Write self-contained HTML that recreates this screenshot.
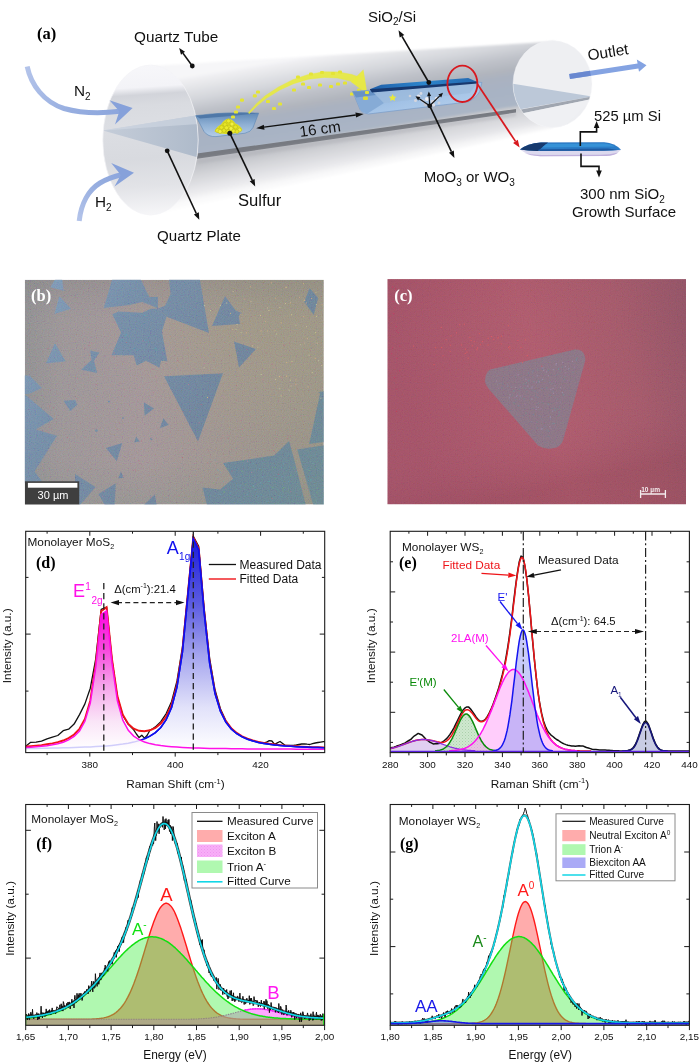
<!DOCTYPE html>
<html lang="en"><head><meta charset="utf-8"><title>Figure: CVD growth and characterization of monolayer MoS2 and WS2</title>
<style>
html,body{margin:0;padding:0;background:#fff;}
body{width:699px;height:1063px;overflow:hidden;}
svg{display:block;}
text{font-family:"Liberation Sans",Arial,sans-serif;}
.serif{font-family:"Liberation Serif","Times New Roman",serif;font-weight:bold;}
</style></head><body>
<svg width="699" height="1063" viewBox="0 0 699 1063">
<rect width="699" height="1063" fill="#ffffff"/>
<!-- panel_a -->
<defs>
<linearGradient id="atube" gradientUnits="userSpaceOnUse" x1="343" y1="50" x2="357" y2="134">
<stop offset="0" stop-color="#f6f6f8"/><stop offset="0.06" stop-color="#ededf0"/><stop offset="0.14" stop-color="#e4e5e8"/><stop offset="0.27" stop-color="#d5d7dc"/><stop offset="0.42" stop-color="#bfc2c9"/><stop offset="0.55" stop-color="#b1b5bd"/><stop offset="0.63" stop-color="#aab2c0"/><stop offset="0.8" stop-color="#a8b3c4"/><stop offset="1" stop-color="#abb6c6"/></linearGradient>
<linearGradient id="alow" gradientUnits="userSpaceOnUse" x1="356" y1="134" x2="364" y2="176">
<stop offset="0" stop-color="#c0c2c7"/><stop offset="0.25" stop-color="#d3d4d8"/><stop offset="0.6" stop-color="#e9e9ec"/><stop offset="1" stop-color="#fcfcfc"/></linearGradient>
<linearGradient id="aface" gradientUnits="userSpaceOnUse" x1="146" y1="64" x2="156" y2="216"><stop offset="0" stop-color="#f7f7fa"/><stop offset="0.15" stop-color="#f3f3f7"/><stop offset="0.2" stop-color="#d2d4da"/><stop offset="0.27" stop-color="#d9dbe0"/><stop offset="0.4" stop-color="#dcdee3"/><stop offset="0.62" stop-color="#d8dadf"/><stop offset="0.8" stop-color="#e2e3e7"/><stop offset="1" stop-color="#f7f7f9"/></linearGradient>
<linearGradient id="aplate" x1="0" y1="0" x2="1" y2="0"><stop offset="0" stop-color="#c5cdd9"/><stop offset="1" stop-color="#aebaca"/></linearGradient>
<linearGradient id="aboat1" x1="0" y1="0" x2="0" y2="1"><stop offset="0" stop-color="#5f88b6"/><stop offset="0.5" stop-color="#8fb0d4"/><stop offset="1" stop-color="#b4cce6"/></linearGradient>
<linearGradient id="aboat2" x1="0" y1="0" x2="1" y2="1"><stop offset="0" stop-color="#7fa6d4"/><stop offset="0.5" stop-color="#a2c2e6"/><stop offset="1" stop-color="#bcd4ee"/></linearGradient>
<linearGradient id="asub" x1="0" y1="0" x2="1" y2="0"><stop offset="0" stop-color="#1f5ea8"/><stop offset="0.5" stop-color="#2d86cc"/><stop offset="1" stop-color="#2468b0"/></linearGradient>
<filter id="ablur1"><feGaussianBlur stdDeviation="1.2"/></filter>
<filter id="ablur2"><feGaussianBlur stdDeviation="2.5"/></filter>
<filter id="ablur05"><feGaussianBlur stdDeviation="0.5"/></filter>
<clipPath id="afaceclip"><ellipse cx="150.5" cy="140" rx="47.7" ry="75"/></clipPath>
<clipPath id="afarclip"><ellipse cx="552.5" cy="84" rx="39.5" ry="43.5"/></clipPath>
<linearGradient id="afacefade" x1="0" y1="0" x2="0" y2="1"><stop offset="0" stop-color="#fff" stop-opacity="0"/><stop offset="1" stop-color="#fff" stop-opacity="0.55"/></linearGradient>
<linearGradient id="an2" gradientUnits="userSpaceOnUse" x1="25" y1="66" x2="132" y2="110"><stop offset="0" stop-color="#b4c4ea"/><stop offset="0.5" stop-color="#97aee0"/><stop offset="1" stop-color="#8aa4dc"/></linearGradient>
<linearGradient id="ah2" gradientUnits="userSpaceOnUse" x1="78" y1="221" x2="132" y2="172"><stop offset="0" stop-color="#b4c4ea"/><stop offset="0.5" stop-color="#97aee0"/><stop offset="1" stop-color="#8aa4dc"/></linearGradient>
</defs>
<g filter="url(#ablur1)">
<path d="M150 140L552 84L553 128L149 215Z" fill="url(#alow)"/>
<path d="M150.5 66L555 41.5L556 100L198 156L150 150Z" fill="url(#atube)"/>
</g>
<path d="M146 219L553 131L553 124L150 206Z" fill="#fff" fill-opacity="0.55" filter="url(#ablur2)"/>
<path d="M197 153.6L516 109L516 112.6L197 158.8Z" fill="#777a81" filter="url(#ablur05)"/>
<path d="M197 158.5L516 112.5L516 116.5L197 164Z" fill="#a4a7ad" fill-opacity="0.3" filter="url(#ablur1)"/>
<ellipse cx="552.5" cy="84" rx="39.5" ry="43.5" fill="#eeeff2"/>
<g clip-path="url(#afarclip)"><path d="M505 82.5L592.5 96.5L505 112Z" fill="#bcc8d8"/><path d="M505 112.5L592.5 96.5L592.5 99L505 117Z" fill="#a0a6b0"/><path d="M505 117L592.5 99L560 130L505 130Z" fill="#f0f1f4" fill-opacity="0.7"/></g>
<ellipse cx="552.5" cy="84" rx="39.5" ry="43.5" fill="none" stroke="#f8f8fa" stroke-width="0.8" stroke-opacity="0.5"/>
<ellipse cx="150.5" cy="140" rx="47.7" ry="75" fill="url(#aface)"/>
<g clip-path="url(#afaceclip)"><path d="M102.9 130.6L200 114.8L200 158Z" fill="url(#aplate)"/><path d="M102.9 130.6L200 114.8L200 124Z" fill="#d4dbe5" fill-opacity="0.55"/></g>
<ellipse cx="150.5" cy="140" rx="47.7" ry="75" fill="none" stroke="#f4f4f6" stroke-width="1" stroke-opacity="0.7"/>
<path d="M195.6 115.7Q226 111.5 258.7 113.1L253 127.5Q251 132 245 133.2L216 136.6Q208 137 204 131.5Z" fill="url(#aboat1)" stroke="#5d86b4" stroke-width="0.6"/>
<path d="M195.6 115.7Q226 111.5 258.7 113.1Q228 116.5 200 118.5Z" fill="#4f78a8"/>
<path d="M214.5 131.5Q217 126 221 124.5Q224 119.5 228.5 118.5Q233 119.5 235.5 123.5Q240 125 242.5 130Q236 134 228 134Q220 134.5 214.5 131.5Z" fill="#dede22"/>
<circle cx="217.5" cy="130.5" r="2" fill="#ecec2e" stroke="#b8b418" stroke-width="0.5"/><circle cx="221.5" cy="127.5" r="2" fill="#e6e626" stroke="#b8b418" stroke-width="0.5"/><circle cx="225" cy="124.5" r="2" fill="#e6e626" stroke="#b8b418" stroke-width="0.5"/><circle cx="228.5" cy="121" r="2" fill="#ecec2e" stroke="#b8b418" stroke-width="0.5"/><circle cx="232" cy="124" r="2" fill="#f2f244" stroke="#b8b418" stroke-width="0.5"/><circle cx="235.5" cy="127" r="2" fill="#e6e626" stroke="#b8b418" stroke-width="0.5"/><circle cx="239.5" cy="130" r="2" fill="#f2f244" stroke="#b8b418" stroke-width="0.5"/><circle cx="224" cy="130.5" r="2" fill="#e6e626" stroke="#b8b418" stroke-width="0.5"/><circle cx="229" cy="127" r="2" fill="#e6e626" stroke="#b8b418" stroke-width="0.5"/><circle cx="233.5" cy="131" r="2" fill="#ecec2e" stroke="#b8b418" stroke-width="0.5"/><circle cx="228" cy="131.5" r="2" fill="#e6e626" stroke="#b8b418" stroke-width="0.5"/><circle cx="226.5" cy="127.8" r="2" fill="#ecec2e" stroke="#b8b418" stroke-width="0.5"/><circle cx="231" cy="128.5" r="2" fill="#f2f244" stroke="#b8b418" stroke-width="0.5"/><circle cx="220" cy="131.5" r="2" fill="#f2f244" stroke="#b8b418" stroke-width="0.5"/><circle cx="237" cy="131.5" r="2" fill="#e6e626" stroke="#b8b418" stroke-width="0.5"/>
<path d="M249.2 113.7 L257.7 105.2 L266.8 98 L279.8 90 L293.7 83.7 L308.5 79.3 L324.2 77.4 L337.6 78.1 L350.1 81.1 L356.3 83.5 L358.7 76.9 L351.9 74.5 L338.4 71.9 L323.8 71.8 L307.5 74.7 L292.3 79.9 L278.2 87.2 L265.2 95.8 L256.3 103.8 L248.2 112.7Z" fill="#e8ea3a" fill-opacity="0.88" stroke="#e8ea3a" stroke-opacity="0.5" stroke-width="0.8" stroke-linejoin="round"/>
<path d="M351 82L363.4 69.5L367.4 94.1Z" fill="#e9ea3c" fill-opacity="0.92"/>
<rect x="240" y="98.6" width="4" height="3.2" rx="1.2" fill="#e4e434"/><rect x="252.8" y="94.2" width="4" height="3.2" rx="1.2" fill="#e4e434"/><rect x="236" y="105.4" width="4" height="3.2" rx="1.2" fill="#e4e434"/><rect x="256" y="90.4" width="4" height="3.2" rx="1.2" fill="#e4e434"/><rect x="234" y="110.4" width="4" height="3.2" rx="1.2" fill="#e4e434"/><rect x="266" y="99.9" width="4" height="3.2" rx="1.2" fill="#e4e434"/><rect x="278" y="102.4" width="4" height="3.2" rx="1.2" fill="#e4e434"/><rect x="272" y="106.9" width="4" height="3.2" rx="1.2" fill="#e4e434"/><rect x="296" y="75.4" width="4" height="3.2" rx="1.2" fill="#e4e434"/><rect x="309" y="72.4" width="4" height="3.2" rx="1.2" fill="#e4e434"/><rect x="320" y="70.9" width="4" height="3.2" rx="1.2" fill="#e4e434"/><rect x="331" y="71.9" width="4" height="3.2" rx="1.2" fill="#e4e434"/><rect x="338" y="70.4" width="4" height="3.2" rx="1.2" fill="#e4e434"/><rect x="301" y="82.4" width="4" height="3.2" rx="1.2" fill="#e4e434"/><rect x="307" y="85.9" width="4" height="3.2" rx="1.2" fill="#e4e434"/><rect x="318" y="83.4" width="4" height="3.2" rx="1.2" fill="#e4e434"/><rect x="329" y="84.9" width="4" height="3.2" rx="1.2" fill="#e4e434"/><rect x="336" y="82.4" width="4" height="3.2" rx="1.2" fill="#e4e434"/><rect x="343" y="81.4" width="4" height="3.2" rx="1.2" fill="#e4e434"/><rect x="292" y="88.4" width="4" height="3.2" rx="1.2" fill="#e4e434"/><rect x="350" y="92.4" width="4" height="3.2" rx="1.2" fill="#e4e434"/><rect x="359" y="94.4" width="4" height="3.2" rx="1.2" fill="#e4e434"/><rect x="364" y="97.4" width="4" height="3.2" rx="1.2" fill="#e4e434"/><rect x="357" y="88.4" width="4" height="3.2" rx="1.2" fill="#e4e434"/><rect x="231" y="115.4" width="4" height="3.2" rx="1.2" fill="#e4e434"/>
<path d="M352.6 91.6L372 90L477 82L481.9 82.5L479.6 91.6Q476 98 468.2 101.9L368.5 114Q362.5 113.5 360.3 110Z" fill="url(#aboat2)" stroke="#7096c4" stroke-width="0.6"/>
<path d="M352.6 91.6L372 91L384 103L367.5 113.4Q362 112.5 360.6 110Z" fill="#86abd6"/><path d="M352.6 91.6L372 91L376 95L356 97.5Z" fill="#5f8cc0" fill-opacity="0.8"/>
<path d="M372 91L477 83L470 93L384 103Z" fill="#9dbadb" fill-opacity="0.7"/>
<path d="M369.8 89.3L381.2 84.8L468.2 77.9L477.3 82L372 92Z" fill="url(#asub)"/>
<path d="M369.8 89.3L372 92.6L477.3 83.6L477.3 81.6Z" fill="#17386e"/>
<circle cx="418.5" cy="96.5" r="1.9" fill="#e4e4ea"/>
<circle cx="423" cy="101" r="1.7" fill="#cfcfd8"/>
<circle cx="427" cy="99" r="2.0" fill="#eeeef2"/>
<circle cx="432.5" cy="101.5" r="1.8" fill="#dadae2"/>
<circle cx="436.5" cy="98.5" r="1.7" fill="#e6e6ec"/>
<circle cx="425.5" cy="104.5" r="1.8" fill="#c6c6ce"/>
<circle cx="433.5" cy="105" r="1.7" fill="#dedee6"/>
<circle cx="415.5" cy="100.5" r="1.5" fill="#d6d6de"/>
<circle cx="410" cy="96" r="1.3" fill="#ccd0d8"/>
<circle cx="421" cy="93.5" r="1.4" fill="#d8dae2"/>
<circle cx="439" cy="103" r="1.4" fill="#d0d2da"/>
<path d="M392.6 94l1.2 2.4 2.6.3-1.9 1.8.5 2.6-2.4-1.3-2.4 1.3.5-2.6-1.9-1.8 2.6-.3z" fill="#e8e83a"/>
<rect x="363" y="96.5" width="5" height="3.5" rx="1.2" fill="#dede30"/><rect x="365" y="91" width="4" height="3" rx="1" fill="#e4e434"/>
<path d="M429.7 105.8L429.1 96.1" stroke="#111" stroke-width="1.2" fill="none"/><path d="M428.8 91.6L431.1 96L427.1 96.2Z" fill="#111"/>
<path d="M429.7 105.8L419.2 98.7" stroke="#111" stroke-width="1.2" fill="none"/><path d="M415.5 96.2L420.3 97.1L418.1 100.4Z" fill="#111"/>
<path d="M429.7 105.8L439.8 95.9" stroke="#111" stroke-width="1.2" fill="none"/><path d="M443 92.8L441.2 97.4L438.4 94.5Z" fill="#111"/>
<ellipse cx="462.4" cy="83.8" rx="15" ry="18.2" fill="none" stroke="#d8191f" stroke-width="1.8"/>
<path d="M477.4 84L515.5 141.4" stroke="#d8191f" stroke-width="1.7" fill="none"/><path d="M519.6 147.6L513.1 142.9L517.8 139.8Z" fill="#d8191f"/>
<path d="M428.8 82.5L402 36.3" stroke="#111" stroke-width="1.6" fill="none"/><path d="M398.5 30.2L404.3 34.9L399.7 37.6Z" fill="#111"/><circle cx="428.8" cy="82.5" r="2.4" fill="#111"/>
<path d="M429.7 105.8L451.4 151.7" stroke="#111" stroke-width="1.6" fill="none"/><path d="M454.4 158L449 152.8L453.8 150.5Z" fill="#111"/><circle cx="429.7" cy="105.8" r="2.4" fill="#111"/>
<path d="M192.3 66L183 53.3" stroke="#111" stroke-width="1.5" fill="none"/><path d="M179.2 48L185 51.8L181 54.7Z" fill="#111"/><circle cx="192.3" cy="66" r="2.4" fill="#111"/>
<path d="M167.2 150.8L196.3 213.5" stroke="#111" stroke-width="1.6" fill="none"/><path d="M199.3 219.8L193.9 214.6L198.8 212.3Z" fill="#111"/><circle cx="167.2" cy="150.8" r="2.4" fill="#111"/>
<path d="M229.8 133.2L252.2 180.1" stroke="#111" stroke-width="1.6" fill="none"/><path d="M255.2 186.4L249.7 181.2L254.6 178.9Z" fill="#111"/><circle cx="229.8" cy="133.2" r="2.5" fill="#111"/>
<path d="M264.1 127.2L355.8 115" stroke="#111" stroke-width="1.3" fill="none"/><path d="M363.7 113.9L356.1 117.4L355.4 112.5Z" fill="#111"/><path d="M256.2 128.3L264.5 129.7L263.8 124.8Z" fill="#111"/>
<path d="M27.2 66.5C31 85 44 102 64 108.5C82 113.5 100 113.8 120 111.3" fill="none" stroke="url(#an2)" stroke-width="5"/>
<path d="M132.6 108L109.5 100.2L119.3 111.2L115 124.5Z" fill="#86a1da"/>
<path d="M79.2 221C81 204 88.5 190 100 183C107 178.8 113 176.5 121.5 174.7" fill="none" stroke="url(#ah2)" stroke-width="5"/>
<path d="M134 172.7L111.2 163L120.8 175L114.5 186.4Z" fill="#86a1da"/>
<path d="M569.2 73.9L637.6 63.4L636.8 59.4L646.5 65.2L639 71.8L638.4 68.4L570 78.9Z" fill="#84a3e2"/>
<path d="M569.2 73.9L590 70.7L590.8 75.7L570 78.9Z" fill="#6484cc" fill-opacity="0.85"/>
<path d="M520 149.6Q527 143.2 541 142.4L604 142.2Q615 143 621 149.8Q616 155.4 606 156.1L540 156.3Q528 155.6 520 149.6Z" fill="#dcd9ee"/>
<path d="M524 152.6Q530 156 540 156.3L606 156.1Q614 155.6 618.5 152.4Q610 154.6 600 154.8L542 155Q530 154.8 524 152.6Z" fill="#b9a6d8" fill-opacity="0.8"/>
<path d="M520 149.6Q527 143.2 541 142.4L604 142.2Q615 143 621 149.8Q613 150.6 604 150.7L540 151Q528 151 520 149.6Z" fill="#2b7cc6"/>
<path d="M520 149.6Q527 143.2 541 142.4L548 142.4L538 150.9Q528 151 520 149.6Z" fill="#173a6e"/>
<path d="M546 144L604 143.4Q611 144 615 146.4L542 147.6Z" fill="#3b9adc" fill-opacity="0.75"/>
<path d="M538 149.2L608 148.6Q614 149.4 618 150L604 150.7L540 151Z" fill="#1c4f96" fill-opacity="0.75"/>
<path d="M580.3 146V131.9H596.6V127" stroke="#111" stroke-width="1.6" fill="none"/><path d="M596.6 121l2.8 7h-5.6z" fill="#111"/>
<path d="M581 153.5V166.4H599V171.5" stroke="#111" stroke-width="1.6" fill="none"/><path d="M599 177.5l2.8-7h-5.6z" fill="#111"/>
<text x="37" y="39.3" font-size="16.5" class="serif">(a)</text>
<text x="134" y="42" font-size="15.3" text-anchor="start" fill="#111" >Quartz Tube</text>
<text x="74" y="96" font-size="15.3" text-anchor="start" fill="#111" >N<tspan font-size="10" dy="3.5">2</tspan><tspan dy="-3.5">&#8203;</tspan></text>
<text x="95" y="207" font-size="15.3" text-anchor="start" fill="#111" >H<tspan font-size="10" dy="3.5">2</tspan><tspan dy="-3.5">&#8203;</tspan></text>
<text x="238" y="206" font-size="16.6" text-anchor="start" fill="#111" >Sulfur</text>
<text x="157" y="241.3" font-size="15.1" text-anchor="start" fill="#111" >Quartz Plate</text>
<text transform="translate(300.3 137) rotate(-8)" font-size="15.2" fill="#111">16 cm</text>
<text x="368" y="21.5" font-size="15" text-anchor="start" fill="#111" >SiO<tspan font-size="10" dy="3.5">2</tspan><tspan dy="-3.5">&#8203;</tspan>/Si</text>
<text transform="translate(588.5 60.5) rotate(-9)" font-size="15.4" fill="#111">Outlet</text>
<text x="594" y="120.7" font-size="14.8" text-anchor="start" fill="#111" >525 &#181;m Si</text>
<text x="423.7" y="182" font-size="15" text-anchor="start" fill="#111" >MoO<tspan font-size="10" dy="3.5">3</tspan><tspan dy="-3.5">&#8203;</tspan> or WO<tspan font-size="10" dy="3.5">3</tspan><tspan dy="-3.5">&#8203;</tspan></text>
<text x="580" y="199" font-size="15" text-anchor="start" fill="#111" >300 nm SiO<tspan font-size="10" dy="3.5">2</tspan><tspan dy="-3.5">&#8203;</tspan></text>
<text x="572" y="216.7" font-size="15" text-anchor="start" fill="#111" >Growth Surface</text>
<!-- panel_b -->
<defs>
<clipPath id="bclip"><rect x="24.8" y="279.8" width="299" height="224.8"/></clipPath>
<linearGradient id="bbg" x1="0" y1="0" x2="1" y2="0"><stop offset="0" stop-color="#8d8c8e"/><stop offset="0.12" stop-color="#989193"/><stop offset="0.4" stop-color="#9f9294"/><stop offset="0.7" stop-color="#9a9089"/><stop offset="1" stop-color="#948e81"/></linearGradient>
<radialGradient id="btan" cx="0.85" cy="0.12" r="0.6"><stop offset="0" stop-color="#9b937f" stop-opacity="0.8"/><stop offset="1" stop-color="#a69c84" stop-opacity="0"/></radialGradient>
<linearGradient id="bvig" x1="0" y1="0" x2="0" y2="1"><stop offset="0" stop-color="#747474" stop-opacity="0.28"/><stop offset="0.18" stop-color="#80808a" stop-opacity="0"/><stop offset="0.8" stop-color="#808a80" stop-opacity="0"/><stop offset="1" stop-color="#7a8a80" stop-opacity="0.3"/></linearGradient>
<linearGradient id="bblue" gradientUnits="userSpaceOnUse" x1="25" y1="300" x2="324" y2="490"><stop offset="0" stop-color="#7c98b6"/><stop offset="0.25" stop-color="#7189a4"/><stop offset="0.6" stop-color="#6c8098"/><stop offset="1" stop-color="#6a858f"/></linearGradient>
<filter id="bnoise" x="0" y="0" width="100%" height="100%"><feTurbulence type="fractalNoise" baseFrequency="0.85" numOctaves="2" seed="7" result="n"/><feColorMatrix in="n" type="matrix" values="1.6 0 0 0 -0.3  0 1.6 0 0 -0.3  0 0 1.6 0 -0.3  0 0 0 0 1"/></filter>
<filter id="bblur" x="-5%" y="-5%" width="110%" height="110%"><feGaussianBlur stdDeviation="0.6"/></filter>
</defs>
<g clip-path="url(#bclip)">
<rect x="24.8" y="279.8" width="299" height="224.8" fill="url(#bbg)"/>
<rect x="24.8" y="279.8" width="299" height="224.8" fill="url(#btan)"/>
<rect x="24.8" y="279.8" width="299" height="224.8" fill="url(#bvig)"/>
<g filter="url(#bblur)" fill="url(#bblue)">
<polygon points="50.2,287.3 55.4,279 62.2,279 63.7,290.7"/>
<polygon points="59.3,296.2 71.1,308.8 54.3,314"/>
<polygon points="54.9,343 65.6,361.2 46,363.4"/>
<polygon points="90,350.5 99.5,352.4 94,360.8 97.1,372.9 81.1,369.7 91.6,360"/>
<polygon points="24,375.5 29.5,375.5 42,388 30,393.5 24,394.4 27.1,396.3 53.8,419 35.7,429.4 57,435.7 34.5,471.5 42,481.3 24,483"/>
<polygon points="112.3,279 140.6,279 149.3,297 157.9,296.7 157.9,308.4 150,304.9 142.2,302 129.6,304.9 103.7,308"/>
<polygon points="169,279 199.8,279 209,333 166.6,316.7 157.9,308.4 165,305.7 170.5,294"/>
<polygon points="112.3,314.3 118.6,311.5 142.2,312.8 150.9,308.8 157.9,308.4 166.6,316.7 161.9,331.6 167.4,361.2 161,360.8 159.5,367.8 146.1,360.8 136.7,365.5 133.6,355.3 111.5,355.3 121,332.4"/>
<polygon points="225,296 235.7,310.6 241.7,313 238.7,316 240,324 212,326"/>
<polygon points="234,341.5 256,349 239,367.5"/>
<polygon points="309.6,288 318.2,298 313.8,315 304.2,302"/>
<polygon points="164,376.3 223,373.2 198,441.6"/>
<polygon points="63.3,400.7 75.1,400 77.4,404.7 70.4,411"/>
<polygon points="105.8,447.9 122.3,442.9 116.8,461.3"/>
<polygon points="120.7,471.5 123.9,477.8 118.3,478.6"/>
<polygon points="75,474 95.6,487 80,505 75,505"/>
<polygon points="98.4,494 115.8,483.3 114.6,505 104.7,505"/>
<polygon points="143.8,402.3 154,408.6 144.6,415.7"/>
<polygon points="163.4,418 168.6,425.1 159.8,428.3"/>
<polygon points="136.2,436.6 139.8,441.6 134,442.4"/>
<polygon points="150,437.7 152.9,439.3 150.9,440.4"/>
<polygon points="143.8,505 154.8,494.4 156.7,505"/>
<polygon points="320.5,391.5 325,392.5 325,442 309.2,444"/>
<polygon points="297.2,449.5 325,445 325,505 313.2,505"/>
<polygon points="223,463.1 274.1,455.5 289.1,441.1 294.1,459.1 305.8,505 207,505 202.4,487.5 220,489.5 233,478.7"/>
<polygon points="318,392.5 325,391 325,396"/>
<circle cx="108.9" cy="401.5" r="1.1"/>
<circle cx="96.4" cy="430.6" r="1.4"/>
<circle cx="123" cy="418" r="0.9"/>
</g>
<rect x="279.2" y="388.2" width="1" height="1" fill="#c8cc98" fill-opacity="0.75"/><rect x="306" y="326.3" width="1" height="1" fill="#cfc494" fill-opacity="0.75"/><rect x="311.8" y="372.1" width="1" height="1" fill="#d8c888" fill-opacity="0.75"/><rect x="236.5" y="324" width="1" height="1" fill="#cfc494" fill-opacity="0.75"/><rect x="285" y="303" width="1" height="1" fill="#cfc494" fill-opacity="0.75"/><rect x="207" y="397" width="1" height="1" fill="#e0b878" fill-opacity="0.75"/><rect x="303.1" y="283.2" width="1" height="1" fill="#e0b878" fill-opacity="0.75"/><rect x="295.3" y="324.7" width="1" height="1" fill="#c8cc98" fill-opacity="0.75"/><rect x="315.4" y="291.9" width="1" height="1" fill="#d4a880" fill-opacity="0.75"/><rect x="244.2" y="298.6" width="1" height="1" fill="#d4a880" fill-opacity="0.75"/><rect x="250.5" y="301.1" width="1" height="1" fill="#d8c888" fill-opacity="0.75"/><rect x="303.1" y="316.1" width="1" height="1" fill="#d4a880" fill-opacity="0.75"/><rect x="235.5" y="329.1" width="1" height="1" fill="#c8cc98" fill-opacity="0.75"/><rect x="300.3" y="344.3" width="1" height="1" fill="#c8cc98" fill-opacity="0.75"/><rect x="305.9" y="302.4" width="1" height="1" fill="#d4a880" fill-opacity="0.75"/><rect x="295.4" y="384.2" width="1" height="1" fill="#e0b878" fill-opacity="0.75"/><rect x="270.8" y="282.4" width="1" height="1" fill="#e0b878" fill-opacity="0.75"/><rect x="239.8" y="313.6" width="1" height="1" fill="#d4a880" fill-opacity="0.75"/><rect x="279" y="375.9" width="1" height="1" fill="#e0b878" fill-opacity="0.75"/><rect x="290" y="379.6" width="1" height="1" fill="#cfc494" fill-opacity="0.75"/><rect x="316.7" y="342.7" width="1" height="1" fill="#cfc494" fill-opacity="0.75"/><rect x="321.5" y="304.3" width="1" height="1" fill="#d4a880" fill-opacity="0.75"/><rect x="279.3" y="307.1" width="1" height="1" fill="#d8c888" fill-opacity="0.75"/><rect x="320.3" y="397.6" width="1" height="1" fill="#cfc494" fill-opacity="0.75"/><rect x="266.9" y="330.4" width="1" height="1" fill="#d4a880" fill-opacity="0.75"/><rect x="316" y="315.9" width="1" height="1" fill="#cfc494" fill-opacity="0.75"/><rect x="275.1" y="297.7" width="1" height="1" fill="#d4a880" fill-opacity="0.75"/><rect x="245.9" y="332.4" width="1" height="1" fill="#e0b878" fill-opacity="0.75"/><rect x="304.3" y="299.9" width="1" height="1" fill="#e0b878" fill-opacity="0.75"/><rect x="260.5" y="330.4" width="1" height="1" fill="#e0b878" fill-opacity="0.75"/><rect x="260" y="315.1" width="1" height="1" fill="#d8c888" fill-opacity="0.75"/><rect x="280.5" y="395.3" width="1" height="1" fill="#d8c888" fill-opacity="0.75"/><rect x="295.4" y="379.4" width="1" height="1" fill="#d4a880" fill-opacity="0.75"/><rect x="268.4" y="310" width="1" height="1" fill="#d8c888" fill-opacity="0.75"/><rect x="230" y="312.9" width="1" height="1" fill="#e0b878" fill-opacity="0.75"/><rect x="265.1" y="321" width="1" height="1" fill="#d4a880" fill-opacity="0.75"/><rect x="299.1" y="296.8" width="1" height="1" fill="#d4a880" fill-opacity="0.75"/><rect x="311.1" y="298" width="1" height="1" fill="#d4a880" fill-opacity="0.75"/><rect x="251.9" y="345.4" width="1" height="1" fill="#cfc494" fill-opacity="0.75"/><rect x="232.6" y="291.1" width="1" height="1" fill="#d8c888" fill-opacity="0.75"/><rect x="240.6" y="332.1" width="1" height="1" fill="#c8cc98" fill-opacity="0.75"/><rect x="285.6" y="286.8" width="1" height="1" fill="#cfc494" fill-opacity="0.75"/><rect x="275" y="379.1" width="1" height="1" fill="#cfc494" fill-opacity="0.75"/><rect x="321.3" y="365" width="1" height="1" fill="#cfc494" fill-opacity="0.75"/><rect x="274.5" y="330.3" width="1" height="1" fill="#d4a880" fill-opacity="0.75"/><rect x="291" y="314.3" width="1" height="1" fill="#d8c888" fill-opacity="0.75"/><rect x="290.6" y="385.5" width="1" height="1" fill="#c8cc98" fill-opacity="0.75"/><rect x="267.1" y="307.3" width="1" height="1" fill="#cfc494" fill-opacity="0.75"/><rect x="289.9" y="302.3" width="1" height="1" fill="#e0b878" fill-opacity="0.75"/><rect x="307" y="338.2" width="1" height="1" fill="#d4a880" fill-opacity="0.75"/><rect x="203.6" y="367.3" width="1" height="1" fill="#cfc494" fill-opacity="0.75"/><rect x="315.2" y="332.1" width="1" height="1" fill="#d8c888" fill-opacity="0.75"/><rect x="286" y="375.7" width="1" height="1" fill="#e0b878" fill-opacity="0.75"/><rect x="303.9" y="342.6" width="1" height="1" fill="#d4a880" fill-opacity="0.75"/><rect x="226.2" y="302.5" width="1" height="1" fill="#d8c888" fill-opacity="0.75"/><rect x="204" y="305.1" width="1" height="1" fill="#c8cc98" fill-opacity="0.75"/><rect x="280.7" y="322.5" width="1" height="1" fill="#e0b878" fill-opacity="0.75"/><rect x="308.6" y="354.7" width="1" height="1" fill="#c8cc98" fill-opacity="0.75"/><rect x="257.3" y="346.7" width="1" height="1" fill="#cfc494" fill-opacity="0.75"/><rect x="291.5" y="361" width="1" height="1" fill="#d8c888" fill-opacity="0.75"/><rect x="303.6" y="299.6" width="1" height="1" fill="#e0b878" fill-opacity="0.75"/><rect x="219.9" y="304.9" width="1" height="1" fill="#cfc494" fill-opacity="0.75"/><rect x="286.2" y="362" width="1" height="1" fill="#e0b878" fill-opacity="0.75"/><rect x="314.7" y="357.9" width="1" height="1" fill="#e0b878" fill-opacity="0.75"/><rect x="250" y="286.3" width="1" height="1" fill="#d4a880" fill-opacity="0.75"/><rect x="260.7" y="374" width="1" height="1" fill="#c8cc98" fill-opacity="0.75"/><rect x="315.9" y="304.1" width="1" height="1" fill="#c8cc98" fill-opacity="0.75"/><rect x="276.2" y="333.5" width="1" height="1" fill="#c8cc98" fill-opacity="0.75"/><rect x="288.5" y="389.6" width="1" height="1" fill="#c8cc98" fill-opacity="0.75"/><rect x="232.1" y="328.9" width="1" height="1" fill="#d4a880" fill-opacity="0.75"/><rect x="210" y="310.1" width="1" height="1" fill="#c8cc98" fill-opacity="0.75"/><rect x="318.1" y="360.3" width="1" height="1" fill="#c8cc98" fill-opacity="0.75"/><rect x="285.5" y="286.7" width="1" height="1" fill="#e0b878" fill-opacity="0.75"/><rect x="307.7" y="386.4" width="1" height="1" fill="#e0b878" fill-opacity="0.75"/><rect x="138.8" y="463.1" width="1" height="1" fill="#c06a80" fill-opacity="0.6"/><rect x="273" y="444.7" width="1" height="1" fill="#b86078" fill-opacity="0.6"/><rect x="189.4" y="410.7" width="1" height="1" fill="#c06a80" fill-opacity="0.6"/><rect x="229.3" y="452.2" width="1" height="1" fill="#8a70a8" fill-opacity="0.6"/><rect x="67.7" y="468.8" width="1" height="1" fill="#b86078" fill-opacity="0.6"/><rect x="123.5" y="389" width="1" height="1" fill="#b86078" fill-opacity="0.6"/><rect x="108.3" y="448.1" width="1" height="1" fill="#8a70a8" fill-opacity="0.6"/><rect x="48.8" y="426.8" width="1" height="1" fill="#c06a80" fill-opacity="0.6"/><rect x="47.1" y="348.1" width="1" height="1" fill="#b86078" fill-opacity="0.6"/><rect x="254.9" y="409.8" width="1" height="1" fill="#8a70a8" fill-opacity="0.6"/><rect x="286.8" y="437.9" width="1" height="1" fill="#b86078" fill-opacity="0.6"/><rect x="177.1" y="360.1" width="1" height="1" fill="#b86078" fill-opacity="0.6"/><rect x="125.9" y="342" width="1" height="1" fill="#b86078" fill-opacity="0.6"/><rect x="229" y="355.2" width="1" height="1" fill="#b86078" fill-opacity="0.6"/><rect x="203.9" y="363" width="1" height="1" fill="#c87890" fill-opacity="0.6"/><rect x="246.6" y="358.9" width="1" height="1" fill="#8a70a8" fill-opacity="0.6"/><rect x="155.9" y="376.5" width="1" height="1" fill="#c87890" fill-opacity="0.6"/><rect x="84.6" y="347.7" width="1" height="1" fill="#b86078" fill-opacity="0.6"/><rect x="178.5" y="495.1" width="1" height="1" fill="#c06a80" fill-opacity="0.6"/><rect x="66.9" y="470.3" width="1" height="1" fill="#c87890" fill-opacity="0.6"/><rect x="218.2" y="373.2" width="1" height="1" fill="#c06a80" fill-opacity="0.6"/><rect x="48.5" y="432.3" width="1" height="1" fill="#c87890" fill-opacity="0.6"/><rect x="223.3" y="396.7" width="1" height="1" fill="#c87890" fill-opacity="0.6"/><rect x="96.1" y="384.3" width="1" height="1" fill="#b86078" fill-opacity="0.6"/><rect x="118.8" y="422.5" width="1" height="1" fill="#b86078" fill-opacity="0.6"/><rect x="135.3" y="469.4" width="1" height="1" fill="#c06a80" fill-opacity="0.6"/><rect x="200.7" y="404.1" width="1" height="1" fill="#b86078" fill-opacity="0.6"/><rect x="77.1" y="378.1" width="1" height="1" fill="#c87890" fill-opacity="0.6"/><rect x="49.8" y="367.1" width="1" height="1" fill="#c06a80" fill-opacity="0.6"/><rect x="235.9" y="385" width="1" height="1" fill="#b86078" fill-opacity="0.6"/><rect x="247.1" y="460.8" width="1" height="1" fill="#c87890" fill-opacity="0.6"/><rect x="217.6" y="478.1" width="1" height="1" fill="#c06a80" fill-opacity="0.6"/><rect x="248.1" y="400.2" width="1" height="1" fill="#c06a80" fill-opacity="0.6"/><rect x="66.9" y="436.9" width="1" height="1" fill="#b86078" fill-opacity="0.6"/><rect x="251.4" y="343.6" width="1" height="1" fill="#c06a80" fill-opacity="0.6"/><rect x="198.7" y="422.2" width="1" height="1" fill="#c87890" fill-opacity="0.6"/><rect x="181.9" y="450.5" width="1" height="1" fill="#c87890" fill-opacity="0.6"/><rect x="295.4" y="470.5" width="1" height="1" fill="#c06a80" fill-opacity="0.6"/><rect x="179.5" y="467.8" width="1" height="1" fill="#8a70a8" fill-opacity="0.6"/><rect x="289.2" y="343.2" width="1" height="1" fill="#b86078" fill-opacity="0.6"/><rect x="113.9" y="352.4" width="1" height="1" fill="#c06a80" fill-opacity="0.6"/><rect x="241.2" y="437.7" width="1" height="1" fill="#c87890" fill-opacity="0.6"/><rect x="119.8" y="488.7" width="1" height="1" fill="#8a70a8" fill-opacity="0.6"/><rect x="281.6" y="377.5" width="1" height="1" fill="#c06a80" fill-opacity="0.6"/><rect x="235.9" y="447.2" width="1" height="1" fill="#8a70a8" fill-opacity="0.6"/><rect x="273.3" y="450" width="1" height="1" fill="#b86078" fill-opacity="0.6"/><rect x="165.6" y="354.7" width="1" height="1" fill="#c06a80" fill-opacity="0.6"/><rect x="102.2" y="495.9" width="1" height="1" fill="#c87890" fill-opacity="0.6"/><rect x="142.3" y="340.5" width="1" height="1" fill="#c87890" fill-opacity="0.6"/><rect x="138.3" y="460.1" width="1" height="1" fill="#b86078" fill-opacity="0.6"/><rect x="276.6" y="438.2" width="1" height="1" fill="#c87890" fill-opacity="0.6"/><rect x="124.3" y="474.9" width="1" height="1" fill="#8a70a8" fill-opacity="0.6"/><rect x="104.7" y="356" width="1" height="1" fill="#8a70a8" fill-opacity="0.6"/><rect x="119.5" y="382.8" width="1" height="1" fill="#c06a80" fill-opacity="0.6"/><rect x="273.3" y="366.8" width="1" height="1" fill="#c87890" fill-opacity="0.6"/><rect x="239.3" y="375.9" width="1" height="1" fill="#c06a80" fill-opacity="0.6"/><rect x="188.2" y="440.2" width="1" height="1" fill="#c87890" fill-opacity="0.6"/><rect x="148.4" y="408.1" width="1" height="1" fill="#b86078" fill-opacity="0.6"/><rect x="118.6" y="384.9" width="1" height="1" fill="#8a70a8" fill-opacity="0.6"/><rect x="88.7" y="344.9" width="1" height="1" fill="#c06a80" fill-opacity="0.6"/><rect x="116.9" y="428.8" width="1" height="1" fill="#b86078" fill-opacity="0.6"/><rect x="152.8" y="392.2" width="1" height="1" fill="#c06a80" fill-opacity="0.6"/><rect x="208.1" y="450.4" width="1" height="1" fill="#c06a80" fill-opacity="0.6"/><rect x="56" y="417.6" width="1" height="1" fill="#c06a80" fill-opacity="0.6"/><rect x="122.8" y="476.1" width="1" height="1" fill="#c87890" fill-opacity="0.6"/><rect x="280.9" y="376.7" width="1" height="1" fill="#c87890" fill-opacity="0.6"/><rect x="258.4" y="340.3" width="1" height="1" fill="#b86078" fill-opacity="0.6"/><rect x="69" y="393.7" width="1" height="1" fill="#8a70a8" fill-opacity="0.6"/><rect x="200.1" y="356.8" width="1" height="1" fill="#c87890" fill-opacity="0.6"/><rect x="231.4" y="470.6" width="1" height="1" fill="#b86078" fill-opacity="0.6"/><rect x="225.4" y="487.9" width="1" height="1" fill="#c06a80" fill-opacity="0.6"/><rect x="135" y="470.3" width="1" height="1" fill="#b86078" fill-opacity="0.6"/><rect x="93.7" y="399.9" width="1" height="1" fill="#c87890" fill-opacity="0.6"/><rect x="271.6" y="498.1" width="1" height="1" fill="#c06a80" fill-opacity="0.6"/><rect x="103.9" y="490.6" width="1" height="1" fill="#c87890" fill-opacity="0.6"/><rect x="137.5" y="358.8" width="1" height="1" fill="#8a70a8" fill-opacity="0.6"/><rect x="74.5" y="340.5" width="1" height="1" fill="#c87890" fill-opacity="0.6"/><rect x="290.3" y="491.2" width="1" height="1" fill="#c06a80" fill-opacity="0.6"/><rect x="167.6" y="490" width="1" height="1" fill="#8a70a8" fill-opacity="0.6"/><rect x="44.1" y="469.5" width="1" height="1" fill="#8a70a8" fill-opacity="0.6"/><rect x="235.2" y="371.3" width="1" height="1" fill="#8a70a8" fill-opacity="0.6"/><rect x="139.3" y="386.5" width="1" height="1" fill="#c87890" fill-opacity="0.6"/><rect x="207" y="462.6" width="1" height="1" fill="#c06a80" fill-opacity="0.6"/><rect x="189.7" y="387.4" width="1" height="1" fill="#8a70a8" fill-opacity="0.6"/><rect x="285.2" y="350.1" width="1" height="1" fill="#c87890" fill-opacity="0.6"/><rect x="53.1" y="407.3" width="1" height="1" fill="#b86078" fill-opacity="0.6"/><rect x="110.5" y="455.2" width="1" height="1" fill="#b86078" fill-opacity="0.6"/><rect x="110.5" y="355.4" width="1" height="1" fill="#c87890" fill-opacity="0.6"/><rect x="152.4" y="368.8" width="1" height="1" fill="#c87890" fill-opacity="0.6"/><rect x="262.4" y="379.2" width="1" height="1" fill="#c87890" fill-opacity="0.6"/><rect x="132.5" y="469.7" width="1" height="1" fill="#c06a80" fill-opacity="0.6"/><rect x="252.7" y="362.5" width="1" height="1" fill="#c06a80" fill-opacity="0.6"/><rect x="45.5" y="430" width="1" height="1" fill="#c87890" fill-opacity="0.6"/><rect x="265.7" y="352.5" width="1" height="1" fill="#b86078" fill-opacity="0.6"/><rect x="90.4" y="468.6" width="1" height="1" fill="#c06a80" fill-opacity="0.6"/><rect x="162.7" y="353.7" width="1" height="1" fill="#8a70a8" fill-opacity="0.6"/><rect x="195.6" y="474.3" width="1" height="1" fill="#c87890" fill-opacity="0.6"/><rect x="172" y="348.5" width="1" height="1" fill="#c87890" fill-opacity="0.6"/><rect x="240.4" y="420" width="1" height="1" fill="#c06a80" fill-opacity="0.6"/><rect x="96.1" y="407.5" width="1" height="1" fill="#c87890" fill-opacity="0.6"/><rect x="251.2" y="471.8" width="1" height="1" fill="#c87890" fill-opacity="0.6"/><rect x="278" y="400.6" width="1" height="1" fill="#b86078" fill-opacity="0.6"/><rect x="271.9" y="363.7" width="1" height="1" fill="#b86078" fill-opacity="0.6"/><rect x="149.8" y="495.5" width="1" height="1" fill="#8a70a8" fill-opacity="0.6"/><rect x="96.3" y="407.4" width="1" height="1" fill="#8a70a8" fill-opacity="0.6"/><rect x="76.2" y="398.1" width="1" height="1" fill="#c06a80" fill-opacity="0.6"/><rect x="213.3" y="359.7" width="1" height="1" fill="#b86078" fill-opacity="0.6"/><rect x="237.1" y="352.3" width="1" height="1" fill="#c87890" fill-opacity="0.6"/><rect x="49.3" y="405.5" width="1" height="1" fill="#b86078" fill-opacity="0.6"/><rect x="91.1" y="343" width="1" height="1" fill="#c87890" fill-opacity="0.6"/><rect x="289.8" y="435.8" width="1" height="1" fill="#b86078" fill-opacity="0.6"/><rect x="161.7" y="352.4" width="1" height="1" fill="#8a70a8" fill-opacity="0.6"/><rect x="283.8" y="345" width="1" height="1" fill="#b86078" fill-opacity="0.6"/><rect x="251.2" y="353.7" width="1" height="1" fill="#b86078" fill-opacity="0.6"/><rect x="236" y="399.7" width="1" height="1" fill="#b86078" fill-opacity="0.6"/><rect x="79.5" y="422.9" width="1" height="1" fill="#c06a80" fill-opacity="0.6"/><rect x="113.7" y="356.9" width="1" height="1" fill="#c87890" fill-opacity="0.6"/><rect x="137.5" y="399" width="1" height="1" fill="#c87890" fill-opacity="0.6"/><rect x="182.4" y="410.9" width="1" height="1" fill="#b86078" fill-opacity="0.6"/><rect x="290.9" y="362.5" width="1" height="1" fill="#c06a80" fill-opacity="0.6"/><rect x="181.8" y="457" width="1" height="1" fill="#b86078" fill-opacity="0.6"/><rect x="101.8" y="446.4" width="1" height="1" fill="#c06a80" fill-opacity="0.6"/><rect x="42.1" y="463.4" width="1" height="1" fill="#c87890" fill-opacity="0.6"/><rect x="100.4" y="454.6" width="1" height="1" fill="#b86078" fill-opacity="0.6"/><rect x="246.2" y="349" width="1" height="1" fill="#b86078" fill-opacity="0.6"/><rect x="50" y="401.7" width="1" height="1" fill="#8a70a8" fill-opacity="0.6"/><rect x="241.9" y="429.2" width="1" height="1" fill="#c87890" fill-opacity="0.6"/><rect x="157" y="444.8" width="1" height="1" fill="#8a70a8" fill-opacity="0.6"/><rect x="187.9" y="384.1" width="1" height="1" fill="#c87890" fill-opacity="0.6"/><rect x="296.9" y="388.3" width="1" height="1" fill="#b86078" fill-opacity="0.6"/><rect x="193.6" y="449.2" width="1" height="1" fill="#c87890" fill-opacity="0.6"/><rect x="54.4" y="373.9" width="1" height="1" fill="#c87890" fill-opacity="0.6"/><rect x="65.6" y="422.1" width="1" height="1" fill="#8a70a8" fill-opacity="0.6"/><rect x="255.7" y="362.1" width="1" height="1" fill="#8a70a8" fill-opacity="0.6"/><rect x="56.4" y="340.6" width="1" height="1" fill="#b86078" fill-opacity="0.6"/><rect x="187.4" y="346.8" width="1" height="1" fill="#c06a80" fill-opacity="0.6"/><rect x="70.4" y="481.6" width="1" height="1" fill="#8a70a8" fill-opacity="0.6"/><rect x="291.6" y="382.1" width="1" height="1" fill="#8a70a8" fill-opacity="0.6"/><rect x="165.8" y="363" width="1" height="1" fill="#c06a80" fill-opacity="0.6"/><rect x="108.1" y="472.7" width="1" height="1" fill="#8a70a8" fill-opacity="0.6"/><rect x="141" y="440.6" width="1" height="1" fill="#b86078" fill-opacity="0.6"/><rect x="222.5" y="434.7" width="1" height="1" fill="#c87890" fill-opacity="0.6"/><rect x="277.9" y="473.8" width="1" height="1" fill="#b86078" fill-opacity="0.6"/><rect x="187.1" y="484.3" width="1" height="1" fill="#8a70a8" fill-opacity="0.6"/><rect x="185.9" y="341.5" width="1" height="1" fill="#c06a80" fill-opacity="0.6"/><rect x="220.4" y="437.8" width="1" height="1" fill="#c06a80" fill-opacity="0.6"/><rect x="46.8" y="405.8" width="1" height="1" fill="#c87890" fill-opacity="0.6"/><rect x="227.5" y="437.8" width="1" height="1" fill="#b86078" fill-opacity="0.6"/><rect x="179.5" y="451.4" width="1" height="1" fill="#c06a80" fill-opacity="0.6"/><rect x="227" y="434.7" width="1" height="1" fill="#c06a80" fill-opacity="0.6"/><rect x="217.5" y="477.1" width="1" height="1" fill="#60a8c0" fill-opacity="0.55"/><rect x="268.7" y="481" width="1" height="1" fill="#58b0b8" fill-opacity="0.55"/><rect x="317.1" y="487.6" width="1" height="1" fill="#6ab86a" fill-opacity="0.55"/><rect x="223.5" y="491.2" width="1" height="1" fill="#6ab86a" fill-opacity="0.55"/><rect x="260.8" y="469.4" width="1" height="1" fill="#6ab86a" fill-opacity="0.55"/><rect x="267.8" y="498.3" width="1" height="1" fill="#6ab86a" fill-opacity="0.55"/><rect x="252.7" y="486.5" width="1" height="1" fill="#6ab86a" fill-opacity="0.55"/><rect x="245.2" y="484.4" width="1" height="1" fill="#6ab86a" fill-opacity="0.55"/><rect x="219.9" y="471.9" width="1" height="1" fill="#58b0b8" fill-opacity="0.55"/><rect x="281.7" y="476" width="1" height="1" fill="#60a8c0" fill-opacity="0.55"/><rect x="282.9" y="463.4" width="1" height="1" fill="#58b0b8" fill-opacity="0.55"/><rect x="312.5" y="463.2" width="1" height="1" fill="#60a8c0" fill-opacity="0.55"/><rect x="260.1" y="482.5" width="1" height="1" fill="#58b0b8" fill-opacity="0.55"/><rect x="226.2" y="467.9" width="1" height="1" fill="#6ab86a" fill-opacity="0.55"/><rect x="266.3" y="500.6" width="1" height="1" fill="#58b0b8" fill-opacity="0.55"/><rect x="272.2" y="486.8" width="1" height="1" fill="#6ab86a" fill-opacity="0.55"/><rect x="271.9" y="467.1" width="1" height="1" fill="#6ab86a" fill-opacity="0.55"/><rect x="242.9" y="460.2" width="1" height="1" fill="#6ab86a" fill-opacity="0.55"/><rect x="257.6" y="495.6" width="1" height="1" fill="#60a8c0" fill-opacity="0.55"/><rect x="239.6" y="485.2" width="1" height="1" fill="#60a8c0" fill-opacity="0.55"/><rect x="219.7" y="494" width="1" height="1" fill="#60a8c0" fill-opacity="0.55"/><rect x="296.2" y="471.1" width="1" height="1" fill="#58b0b8" fill-opacity="0.55"/><rect x="307.5" y="468.7" width="1" height="1" fill="#60a8c0" fill-opacity="0.55"/><rect x="230" y="492.3" width="1" height="1" fill="#60a8c0" fill-opacity="0.55"/><rect x="253" y="485.5" width="1" height="1" fill="#60a8c0" fill-opacity="0.55"/><rect x="295.8" y="459.8" width="1" height="1" fill="#6ab86a" fill-opacity="0.55"/><rect x="308.8" y="470" width="1" height="1" fill="#6ab86a" fill-opacity="0.55"/><rect x="290.3" y="474.7" width="1" height="1" fill="#6ab86a" fill-opacity="0.55"/><rect x="217" y="469.5" width="1" height="1" fill="#58b0b8" fill-opacity="0.55"/><rect x="214.4" y="459.5" width="1" height="1" fill="#60a8c0" fill-opacity="0.55"/><rect x="310.4" y="479.3" width="1" height="1" fill="#58b0b8" fill-opacity="0.55"/><rect x="261.7" y="458.4" width="1" height="1" fill="#6ab86a" fill-opacity="0.55"/><rect x="213" y="482.1" width="1" height="1" fill="#6ab86a" fill-opacity="0.55"/><rect x="283" y="487.7" width="1" height="1" fill="#6ab86a" fill-opacity="0.55"/><rect x="314.5" y="500.4" width="1" height="1" fill="#6ab86a" fill-opacity="0.55"/><rect x="252.6" y="463.2" width="1" height="1" fill="#58b0b8" fill-opacity="0.55"/><rect x="222.9" y="480.8" width="1" height="1" fill="#58b0b8" fill-opacity="0.55"/><rect x="283.3" y="486.9" width="1" height="1" fill="#6ab86a" fill-opacity="0.55"/><rect x="259" y="468.1" width="1" height="1" fill="#60a8c0" fill-opacity="0.55"/><rect x="260.8" y="494.4" width="1" height="1" fill="#58b0b8" fill-opacity="0.55"/><rect x="233.4" y="479.7" width="1" height="1" fill="#58b0b8" fill-opacity="0.55"/><rect x="252.8" y="485.4" width="1" height="1" fill="#58b0b8" fill-opacity="0.55"/><rect x="246.5" y="493.9" width="1" height="1" fill="#60a8c0" fill-opacity="0.55"/><rect x="218" y="469.7" width="1" height="1" fill="#60a8c0" fill-opacity="0.55"/><rect x="262.2" y="476.3" width="1" height="1" fill="#60a8c0" fill-opacity="0.55"/><rect x="281.2" y="467.3" width="1" height="1" fill="#58b0b8" fill-opacity="0.55"/><rect x="293.3" y="467.3" width="1" height="1" fill="#6ab86a" fill-opacity="0.55"/><rect x="255.2" y="489.1" width="1" height="1" fill="#58b0b8" fill-opacity="0.55"/><rect x="225" y="464.7" width="1" height="1" fill="#60a8c0" fill-opacity="0.55"/><rect x="316.4" y="491.9" width="1" height="1" fill="#6ab86a" fill-opacity="0.55"/><rect x="321.7" y="461.4" width="1" height="1" fill="#58b0b8" fill-opacity="0.55"/><rect x="282" y="489.5" width="1" height="1" fill="#6ab86a" fill-opacity="0.55"/><rect x="279.4" y="496.2" width="1" height="1" fill="#58b0b8" fill-opacity="0.55"/><rect x="299.8" y="478.1" width="1" height="1" fill="#6ab86a" fill-opacity="0.55"/><rect x="275" y="467.1" width="1" height="1" fill="#6ab86a" fill-opacity="0.55"/><rect x="288.1" y="481" width="1" height="1" fill="#60a8c0" fill-opacity="0.55"/><rect x="223.7" y="491.7" width="1" height="1" fill="#6ab86a" fill-opacity="0.55"/><rect x="274.7" y="478.1" width="1" height="1" fill="#6ab86a" fill-opacity="0.55"/><rect x="308" y="480" width="1" height="1" fill="#60a8c0" fill-opacity="0.55"/><rect x="241.6" y="471" width="1" height="1" fill="#6ab86a" fill-opacity="0.55"/><rect x="126" y="333.9" width="1" height="1" fill="#40b0b8" fill-opacity="0.6"/><rect x="136.7" y="349.8" width="1" height="1" fill="#40b0b8" fill-opacity="0.6"/><rect x="149.5" y="349.1" width="1" height="1" fill="#6a68a8" fill-opacity="0.6"/><rect x="121.5" y="336.9" width="1" height="1" fill="#7060b0" fill-opacity="0.6"/><rect x="134.1" y="353.4" width="1" height="1" fill="#6a68a8" fill-opacity="0.6"/><rect x="132.7" y="352" width="1" height="1" fill="#6a68a8" fill-opacity="0.6"/><rect x="150.4" y="330.3" width="1" height="1" fill="#6a68a8" fill-opacity="0.6"/><rect x="143.6" y="329.8" width="1" height="1" fill="#6a68a8" fill-opacity="0.6"/><rect x="147.6" y="350.8" width="1" height="1" fill="#7060b0" fill-opacity="0.6"/><rect x="146" y="344.3" width="1" height="1" fill="#6a68a8" fill-opacity="0.6"/><rect x="155.6" y="349.7" width="1" height="1" fill="#40b0b8" fill-opacity="0.6"/><rect x="121.9" y="339.1" width="1" height="1" fill="#40b0b8" fill-opacity="0.6"/><rect x="163.7" y="348.2" width="1" height="1" fill="#7060b0" fill-opacity="0.6"/><rect x="163.8" y="353.4" width="1" height="1" fill="#7060b0" fill-opacity="0.6"/><rect x="150" y="333" width="1" height="1" fill="#7060b0" fill-opacity="0.6"/><rect x="137.3" y="344" width="1" height="1" fill="#7060b0" fill-opacity="0.6"/><rect x="149.1" y="356.4" width="1" height="1" fill="#7060b0" fill-opacity="0.6"/><rect x="149.5" y="341.2" width="1" height="1" fill="#6a68a8" fill-opacity="0.6"/><rect x="161.9" y="331.8" width="1" height="1" fill="#6a68a8" fill-opacity="0.6"/><rect x="133.8" y="348.1" width="1" height="1" fill="#40b0b8" fill-opacity="0.6"/><rect x="145.1" y="339.8" width="1" height="1" fill="#40b0b8" fill-opacity="0.6"/><rect x="155.3" y="347.7" width="1" height="1" fill="#40b0b8" fill-opacity="0.6"/><rect x="143.9" y="315.1" width="1" height="1" fill="#40b0b8" fill-opacity="0.6"/><rect x="122.6" y="315.7" width="1" height="1" fill="#7060b0" fill-opacity="0.6"/><rect x="124.8" y="335.6" width="1" height="1" fill="#40b0b8" fill-opacity="0.6"/>
<rect x="24.8" y="279.8" width="299" height="224.8" filter="url(#bnoise)" opacity="0.13" style="mix-blend-mode:overlay"/>
<rect x="24.8" y="481.3" width="54.4" height="24" fill="#3f3f3f"/>
<rect x="27.9" y="482.9" width="49.5" height="4.8" fill="#fff"/>
<text x="53" y="498.7" font-size="11" text-anchor="middle" fill="#fff">30 &#181;m</text>
</g>
<text x="31" y="301" font-size="16.5" class="serif" fill="#fff">(b)</text>
<!-- panel_c -->
<defs>
<clipPath id="cclip"><rect x="387.3" y="279.1" width="298.7" height="225.3"/></clipPath>
<linearGradient id="cbg" x1="0" y1="0.2" x2="1" y2="0"><stop offset="0" stop-color="#a25266"/><stop offset="0.45" stop-color="#ad5a6b"/><stop offset="0.75" stop-color="#a25868"/><stop offset="1" stop-color="#8f5264"/></linearGradient>
<linearGradient id="cvig" x1="0" y1="0" x2="0.3" y2="1"><stop offset="0" stop-color="#8a3a50" stop-opacity="0.15"/><stop offset="0.4" stop-color="#b06074" stop-opacity="0"/><stop offset="0.75" stop-color="#a05068" stop-opacity="0"/><stop offset="1" stop-color="#8a4052" stop-opacity="0.35"/></linearGradient>
<filter id="cnoise" x="0" y="0" width="100%" height="100%"><feTurbulence type="fractalNoise" baseFrequency="0.85" numOctaves="2" seed="11" result="n"/><feColorMatrix in="n" type="matrix" values="1.6 0 0 0 -0.3  0 1.6 0 0 -0.3  0 0 1.6 0 -0.3  0 0 0 0 1"/></filter>
<filter id="cblur" x="-5%" y="-5%" width="110%" height="110%"><feGaussianBlur stdDeviation="0.7"/></filter>
</defs>
<g clip-path="url(#cclip)">
<rect x="387.3" y="279.1" width="298.7" height="225.3" fill="url(#cbg)"/>
<rect x="387.3" y="279.1" width="298.7" height="225.3" fill="url(#cvig)"/>
<path filter="url(#cblur)" fill="#897383" d="M490 369.6L574.5 349.6Q580.5 349 583.5 353Q586 357 585 361.5L563 440.5Q561 445.5 556.5 447.5Q546 450.5 538 445.5L489.5 389.8Q485 384.5 485 380.5Q485.5 372.5 490 369.6Z"/>
<rect x="531.8" y="386.6" width="1.2" height="1.2" fill="#7a8898" fill-opacity="0.6"/><rect x="519.5" y="395.4" width="1.2" height="1.2" fill="#a090b0" fill-opacity="0.6"/><rect x="530.8" y="421.1" width="1.2" height="1.2" fill="#7a8898" fill-opacity="0.6"/><rect x="525.3" y="383.5" width="1.2" height="1.2" fill="#6a8a90" fill-opacity="0.6"/><rect x="523.5" y="398.2" width="1.2" height="1.2" fill="#6a8a90" fill-opacity="0.6"/><rect x="535.6" y="406.2" width="1.2" height="1.2" fill="#a090b0" fill-opacity="0.6"/><rect x="525.4" y="412.6" width="1.2" height="1.2" fill="#6a8a90" fill-opacity="0.6"/><rect x="555.4" y="364.2" width="1.2" height="1.2" fill="#a090b0" fill-opacity="0.6"/><rect x="559" y="406.4" width="1.2" height="1.2" fill="#6a8a90" fill-opacity="0.6"/><rect x="544.4" y="425.9" width="1.2" height="1.2" fill="#6a8a90" fill-opacity="0.6"/><rect x="571.9" y="360.8" width="1.2" height="1.2" fill="#a090b0" fill-opacity="0.6"/><rect x="559.8" y="387.1" width="1.2" height="1.2" fill="#a090b0" fill-opacity="0.6"/><rect x="518.5" y="392.5" width="1.2" height="1.2" fill="#7a8898" fill-opacity="0.6"/><rect x="566.7" y="380.1" width="1.2" height="1.2" fill="#9a7aa0" fill-opacity="0.6"/><rect x="556.2" y="374.3" width="1.2" height="1.2" fill="#6a8a90" fill-opacity="0.6"/><rect x="528.1" y="372.6" width="1.2" height="1.2" fill="#62909a" fill-opacity="0.6"/><rect x="563.9" y="378.8" width="1.2" height="1.2" fill="#6a8a90" fill-opacity="0.6"/><rect x="541" y="418.2" width="1.2" height="1.2" fill="#6a8a90" fill-opacity="0.6"/><rect x="541.6" y="427.9" width="1.2" height="1.2" fill="#a090b0" fill-opacity="0.6"/><rect x="573.8" y="366.6" width="1.2" height="1.2" fill="#9a7aa0" fill-opacity="0.6"/><rect x="541.4" y="388.1" width="1.2" height="1.2" fill="#7a8898" fill-opacity="0.6"/><rect x="540.3" y="408.1" width="1.2" height="1.2" fill="#9a7aa0" fill-opacity="0.6"/><rect x="537.8" y="402.6" width="1.2" height="1.2" fill="#6a8a90" fill-opacity="0.6"/><rect x="531.4" y="386.4" width="1.2" height="1.2" fill="#a090b0" fill-opacity="0.6"/><rect x="547.9" y="435.8" width="1.2" height="1.2" fill="#6a8a90" fill-opacity="0.6"/><rect x="547.8" y="403.6" width="1.2" height="1.2" fill="#62909a" fill-opacity="0.6"/><rect x="496.5" y="384.2" width="1.2" height="1.2" fill="#7a8898" fill-opacity="0.6"/><rect x="548" y="369.7" width="1.2" height="1.2" fill="#6a8a90" fill-opacity="0.6"/><rect x="537.3" y="369.3" width="1.2" height="1.2" fill="#62909a" fill-opacity="0.6"/><rect x="533.1" y="380.9" width="1.2" height="1.2" fill="#7a8898" fill-opacity="0.6"/><rect x="549.3" y="416.8" width="1.2" height="1.2" fill="#7a8898" fill-opacity="0.6"/><rect x="517.5" y="374.2" width="1.2" height="1.2" fill="#a090b0" fill-opacity="0.6"/><rect x="517.9" y="405.2" width="1.2" height="1.2" fill="#62909a" fill-opacity="0.6"/><rect x="515.8" y="395.7" width="1.2" height="1.2" fill="#a090b0" fill-opacity="0.6"/><rect x="531.1" y="387.7" width="1.2" height="1.2" fill="#9a7aa0" fill-opacity="0.6"/><rect x="525.8" y="381.9" width="1.2" height="1.2" fill="#7a8898" fill-opacity="0.6"/><rect x="506.9" y="385.7" width="1.2" height="1.2" fill="#7a8898" fill-opacity="0.6"/><rect x="552.4" y="387.7" width="1.2" height="1.2" fill="#a090b0" fill-opacity="0.6"/><rect x="552.3" y="391.3" width="1.2" height="1.2" fill="#7a8898" fill-opacity="0.6"/><rect x="514.2" y="402.3" width="1.2" height="1.2" fill="#6a8a90" fill-opacity="0.6"/><rect x="536.5" y="427.4" width="1.2" height="1.2" fill="#62909a" fill-opacity="0.6"/><rect x="550.3" y="388.8" width="1.2" height="1.2" fill="#a090b0" fill-opacity="0.6"/><rect x="554.3" y="385.2" width="1.2" height="1.2" fill="#9a7aa0" fill-opacity="0.6"/><rect x="542.2" y="428.4" width="1.2" height="1.2" fill="#7a8898" fill-opacity="0.6"/><rect x="560.7" y="376.7" width="1.2" height="1.2" fill="#7a8898" fill-opacity="0.6"/><rect x="537.2" y="396.9" width="1.2" height="1.2" fill="#7a8898" fill-opacity="0.6"/><rect x="553.2" y="422.9" width="1.2" height="1.2" fill="#6a8a90" fill-opacity="0.6"/><rect x="556.9" y="398.6" width="1.2" height="1.2" fill="#6a8a90" fill-opacity="0.6"/><rect x="557.9" y="368.7" width="1.2" height="1.2" fill="#6a8a90" fill-opacity="0.6"/><rect x="539.4" y="415.7" width="1.2" height="1.2" fill="#7a8898" fill-opacity="0.6"/><rect x="551.1" y="383.2" width="1.2" height="1.2" fill="#7a8898" fill-opacity="0.6"/><rect x="518.7" y="388.8" width="1.2" height="1.2" fill="#6a8a90" fill-opacity="0.6"/><rect x="537.8" y="406.9" width="1.2" height="1.2" fill="#a090b0" fill-opacity="0.6"/><rect x="501.1" y="387.2" width="1.2" height="1.2" fill="#62909a" fill-opacity="0.6"/><rect x="551.9" y="410.5" width="1.2" height="1.2" fill="#a090b0" fill-opacity="0.6"/><rect x="549.2" y="381.7" width="1.2" height="1.2" fill="#7a8898" fill-opacity="0.6"/><rect x="559.4" y="370.6" width="1.2" height="1.2" fill="#6a8a90" fill-opacity="0.6"/><rect x="575.7" y="359.2" width="1.2" height="1.2" fill="#62909a" fill-opacity="0.6"/><rect x="517" y="394.8" width="1.2" height="1.2" fill="#9a7aa0" fill-opacity="0.6"/><rect x="558.1" y="414.5" width="1.2" height="1.2" fill="#62909a" fill-opacity="0.6"/><rect x="511.7" y="394.3" width="1.2" height="1.2" fill="#6a8a90" fill-opacity="0.6"/><rect x="536.3" y="421.5" width="1.2" height="1.2" fill="#6a8a90" fill-opacity="0.6"/><rect x="550.2" y="428.3" width="1.2" height="1.2" fill="#9a7aa0" fill-opacity="0.6"/><rect x="529.1" y="388.2" width="1.2" height="1.2" fill="#7a8898" fill-opacity="0.6"/><rect x="543.1" y="369.7" width="1.2" height="1.2" fill="#a090b0" fill-opacity="0.6"/><rect x="537.9" y="380.2" width="1.2" height="1.2" fill="#62909a" fill-opacity="0.6"/><rect x="532.8" y="414" width="1.2" height="1.2" fill="#62909a" fill-opacity="0.6"/><rect x="564.8" y="365.9" width="1.2" height="1.2" fill="#a090b0" fill-opacity="0.6"/><rect x="534.4" y="390.5" width="1.2" height="1.2" fill="#62909a" fill-opacity="0.6"/><rect x="561.7" y="366.7" width="1.2" height="1.2" fill="#6a8a90" fill-opacity="0.6"/><rect x="554.9" y="381.1" width="1.2" height="1.2" fill="#9a7aa0" fill-opacity="0.6"/><rect x="541.7" y="379.4" width="1.2" height="1.2" fill="#6a8a90" fill-opacity="0.6"/><rect x="546.3" y="429.2" width="1.2" height="1.2" fill="#6a8a90" fill-opacity="0.6"/><rect x="515.1" y="386.9" width="1.2" height="1.2" fill="#a090b0" fill-opacity="0.6"/><rect x="514.4" y="397.2" width="1.2" height="1.2" fill="#9a7aa0" fill-opacity="0.6"/><rect x="563" y="393.8" width="1.2" height="1.2" fill="#7a8898" fill-opacity="0.6"/><rect x="576" y="359.4" width="1.2" height="1.2" fill="#7a8898" fill-opacity="0.6"/><rect x="510.8" y="386.5" width="1.2" height="1.2" fill="#7a8898" fill-opacity="0.6"/><rect x="552.7" y="369.2" width="1.2" height="1.2" fill="#a090b0" fill-opacity="0.6"/><rect x="539.2" y="390" width="1.2" height="1.2" fill="#9a7aa0" fill-opacity="0.6"/><rect x="532.2" y="389.5" width="1.2" height="1.2" fill="#6a8a90" fill-opacity="0.6"/><rect x="558" y="368" width="1.2" height="1.2" fill="#6a8a90" fill-opacity="0.6"/><rect x="546" y="387.4" width="1.2" height="1.2" fill="#62909a" fill-opacity="0.6"/><rect x="535.5" y="408.8" width="1.2" height="1.2" fill="#a090b0" fill-opacity="0.6"/><rect x="524.4" y="403.5" width="1.2" height="1.2" fill="#9a7aa0" fill-opacity="0.6"/><rect x="499.3" y="382.9" width="1.2" height="1.2" fill="#7a8898" fill-opacity="0.6"/><rect x="522" y="395.5" width="1.2" height="1.2" fill="#9a7aa0" fill-opacity="0.6"/><rect x="549.9" y="416.4" width="1.2" height="1.2" fill="#a090b0" fill-opacity="0.6"/><rect x="548" y="375.1" width="1.2" height="1.2" fill="#a090b0" fill-opacity="0.6"/><rect x="519.7" y="386.1" width="1.2" height="1.2" fill="#9a7aa0" fill-opacity="0.6"/><rect x="564.7" y="376.2" width="1.2" height="1.2" fill="#7a8898" fill-opacity="0.6"/><rect x="554.5" y="409.7" width="1.2" height="1.2" fill="#62909a" fill-opacity="0.6"/><rect x="554.3" y="407.6" width="1.2" height="1.2" fill="#62909a" fill-opacity="0.6"/><rect x="508.8" y="397.1" width="1.2" height="1.2" fill="#a090b0" fill-opacity="0.6"/><rect x="559.9" y="401.2" width="1.2" height="1.2" fill="#9a7aa0" fill-opacity="0.6"/><rect x="502.2" y="383.1" width="1.2" height="1.2" fill="#6a8a90" fill-opacity="0.6"/><rect x="553.6" y="422.8" width="1.2" height="1.2" fill="#7a8898" fill-opacity="0.6"/><rect x="540.5" y="428.6" width="1.2" height="1.2" fill="#a090b0" fill-opacity="0.6"/><rect x="568.2" y="368.1" width="1.2" height="1.2" fill="#a090b0" fill-opacity="0.6"/><rect x="551.6" y="408" width="1.2" height="1.2" fill="#6a8a90" fill-opacity="0.6"/><rect x="542.2" y="367.4" width="1.2" height="1.2" fill="#a090b0" fill-opacity="0.6"/><rect x="549.9" y="418.7" width="1.2" height="1.2" fill="#7a8898" fill-opacity="0.6"/><rect x="538.8" y="381.1" width="1.2" height="1.2" fill="#a090b0" fill-opacity="0.6"/><rect x="530.3" y="398.4" width="1.2" height="1.2" fill="#7a8898" fill-opacity="0.6"/><rect x="532.5" y="376.6" width="1.2" height="1.2" fill="#6a8a90" fill-opacity="0.6"/><rect x="532.6" y="370.4" width="1.2" height="1.2" fill="#62909a" fill-opacity="0.6"/><rect x="536.8" y="375.3" width="1.2" height="1.2" fill="#a090b0" fill-opacity="0.6"/><rect x="513.3" y="390.5" width="1.2" height="1.2" fill="#62909a" fill-opacity="0.6"/><rect x="527.1" y="385.5" width="1.2" height="1.2" fill="#a090b0" fill-opacity="0.6"/><rect x="551.9" y="423" width="1.2" height="1.2" fill="#7a8898" fill-opacity="0.6"/><rect x="562.9" y="394.8" width="1.2" height="1.2" fill="#6a8a90" fill-opacity="0.6"/><rect x="526.2" y="391.2" width="1.2" height="1.2" fill="#6a8a90" fill-opacity="0.6"/><rect x="525.3" y="378.7" width="1.2" height="1.2" fill="#a090b0" fill-opacity="0.6"/><rect x="558.7" y="411.5" width="1.2" height="1.2" fill="#62909a" fill-opacity="0.6"/><rect x="498" y="387.4" width="1.2" height="1.2" fill="#9a7aa0" fill-opacity="0.6"/><rect x="557.1" y="408.4" width="1.2" height="1.2" fill="#6a8a90" fill-opacity="0.6"/><rect x="520.4" y="397.3" width="1.2" height="1.2" fill="#7a8898" fill-opacity="0.6"/><rect x="528" y="380.3" width="1.2" height="1.2" fill="#62909a" fill-opacity="0.6"/><rect x="542.4" y="368.4" width="1.2" height="1.2" fill="#7a8898" fill-opacity="0.6"/><rect x="536.1" y="381.7" width="1.2" height="1.2" fill="#a090b0" fill-opacity="0.6"/><rect x="522.7" y="383.5" width="1.2" height="1.2" fill="#6a8a90" fill-opacity="0.6"/><rect x="515.2" y="399" width="1.2" height="1.2" fill="#6a8a90" fill-opacity="0.6"/><rect x="572.4" y="371.7" width="1.2" height="1.2" fill="#6a8a90" fill-opacity="0.6"/><rect x="565.1" y="372.2" width="1.2" height="1.2" fill="#9a7aa0" fill-opacity="0.6"/><rect x="496" y="380.5" width="1.2" height="1.2" fill="#a090b0" fill-opacity="0.6"/><rect x="549.5" y="394.7" width="1.2" height="1.2" fill="#6a8a90" fill-opacity="0.6"/><rect x="548.1" y="430.6" width="1.2" height="1.2" fill="#6a8a90" fill-opacity="0.6"/><rect x="545.9" y="371.3" width="1.2" height="1.2" fill="#a090b0" fill-opacity="0.6"/><rect x="557.3" y="373.5" width="1.2" height="1.2" fill="#7a8898" fill-opacity="0.6"/><rect x="509.5" y="394.3" width="1.2" height="1.2" fill="#a090b0" fill-opacity="0.6"/><rect x="537.9" y="381.8" width="1.2" height="1.2" fill="#6a8a90" fill-opacity="0.6"/><rect x="524.3" y="387.6" width="1.2" height="1.2" fill="#6a8a90" fill-opacity="0.6"/><rect x="562.2" y="361.9" width="1.2" height="1.2" fill="#a090b0" fill-opacity="0.6"/><rect x="547.7" y="369.6" width="1.2" height="1.2" fill="#6a8a90" fill-opacity="0.6"/><rect x="532.7" y="407.7" width="1.2" height="1.2" fill="#6a8a90" fill-opacity="0.6"/><rect x="507.2" y="384.3" width="1.2" height="1.2" fill="#9a7aa0" fill-opacity="0.6"/><rect x="518.9" y="398.5" width="1.2" height="1.2" fill="#9a7aa0" fill-opacity="0.6"/><rect x="531.4" y="398.5" width="1.2" height="1.2" fill="#a090b0" fill-opacity="0.6"/><rect x="576.3" y="357.6" width="1.2" height="1.2" fill="#62909a" fill-opacity="0.6"/><rect x="561.9" y="392" width="1.2" height="1.2" fill="#a090b0" fill-opacity="0.6"/><rect x="542.1" y="378.8" width="1.2" height="1.2" fill="#a090b0" fill-opacity="0.6"/><rect x="552.9" y="392.7" width="1.2" height="1.2" fill="#a090b0" fill-opacity="0.6"/><rect x="556.2" y="402.1" width="1.2" height="1.2" fill="#9a7aa0" fill-opacity="0.6"/><rect x="549.2" y="426.1" width="1.2" height="1.2" fill="#a090b0" fill-opacity="0.6"/><rect x="555.8" y="363" width="1.2" height="1.2" fill="#a090b0" fill-opacity="0.6"/><rect x="535.4" y="395.6" width="1.2" height="1.2" fill="#7a8898" fill-opacity="0.6"/><rect x="531.7" y="372.1" width="1.2" height="1.2" fill="#7a8898" fill-opacity="0.6"/><rect x="512.9" y="402.2" width="1.2" height="1.2" fill="#6a8a90" fill-opacity="0.6"/><rect x="536.7" y="391.8" width="1.2" height="1.2" fill="#7a8898" fill-opacity="0.6"/><rect x="542.5" y="402.7" width="1.2" height="1.2" fill="#6a8a90" fill-opacity="0.6"/><rect x="463.8" y="323.8" width="1" height="1" fill="#e85858" fill-opacity="0.8"/><rect x="482" y="341.1" width="1" height="1" fill="#e85858" fill-opacity="0.8"/><rect x="464.7" y="352.9" width="1" height="1" fill="#e85858" fill-opacity="0.8"/><rect x="526.8" y="355.1" width="1" height="1" fill="#e85858" fill-opacity="0.8"/><rect x="507.9" y="325.3" width="1" height="1" fill="#e85858" fill-opacity="0.8"/><rect x="517.4" y="340" width="1" height="1" fill="#e85858" fill-opacity="0.8"/><rect x="467.7" y="357.7" width="1" height="1" fill="#e85858" fill-opacity="0.8"/><rect x="480.1" y="344.3" width="1" height="1" fill="#e85858" fill-opacity="0.8"/><rect x="541.3" y="365.7" width="1" height="1" fill="#e85858" fill-opacity="0.8"/><rect x="522.1" y="362.1" width="1" height="1" fill="#e85858" fill-opacity="0.8"/><rect x="464.9" y="348.6" width="1" height="1" fill="#e85858" fill-opacity="0.8"/><rect x="442.6" y="355.3" width="1" height="1" fill="#e85858" fill-opacity="0.8"/><rect x="470.6" y="340" width="1" height="1" fill="#e85858" fill-opacity="0.8"/><rect x="487.6" y="337.8" width="1" height="1" fill="#e85858" fill-opacity="0.8"/><rect x="490.9" y="336" width="1" height="1" fill="#e85858" fill-opacity="0.8"/><rect x="497.5" y="337.7" width="1" height="1" fill="#e85858" fill-opacity="0.8"/><rect x="433.5" y="364.1" width="1" height="1" fill="#e85858" fill-opacity="0.8"/><rect x="508" y="347.1" width="1" height="1" fill="#e85858" fill-opacity="0.8"/><rect x="445.7" y="339.2" width="1" height="1" fill="#e85858" fill-opacity="0.8"/><rect x="469.4" y="336.9" width="1" height="1" fill="#e85858" fill-opacity="0.8"/><rect x="500.7" y="343.3" width="1" height="1" fill="#e85858" fill-opacity="0.8"/><rect x="509.3" y="348.5" width="1" height="1" fill="#e85858" fill-opacity="0.8"/><rect x="524.9" y="339.4" width="1" height="1" fill="#e85858" fill-opacity="0.8"/><rect x="477" y="347.5" width="1" height="1" fill="#e85858" fill-opacity="0.8"/><rect x="450.5" y="335.4" width="1" height="1" fill="#e85858" fill-opacity="0.8"/><rect x="466.4" y="351.6" width="1" height="1" fill="#e85858" fill-opacity="0.8"/><rect x="476.4" y="349.2" width="1" height="1" fill="#e85858" fill-opacity="0.8"/><rect x="449.8" y="344.7" width="1" height="1" fill="#e85858" fill-opacity="0.8"/><rect x="435.2" y="347.3" width="1" height="1" fill="#e85858" fill-opacity="0.8"/><rect x="441" y="347.1" width="1" height="1" fill="#e85858" fill-opacity="0.8"/><rect x="478.8" y="333.2" width="1" height="1" fill="#e85858" fill-opacity="0.8"/><rect x="460.9" y="344.5" width="1" height="1" fill="#e85858" fill-opacity="0.8"/><rect x="459.2" y="324.2" width="1" height="1" fill="#e85858" fill-opacity="0.8"/><rect x="520.4" y="346.8" width="1" height="1" fill="#e85858" fill-opacity="0.8"/><rect x="509.2" y="346.1" width="1" height="1" fill="#e85858" fill-opacity="0.8"/><rect x="413.1" y="345.6" width="1" height="1" fill="#e85858" fill-opacity="0.8"/><rect x="473.7" y="341.1" width="1" height="1" fill="#e85858" fill-opacity="0.8"/><rect x="497.6" y="336.7" width="1" height="1" fill="#e85858" fill-opacity="0.8"/><rect x="493.1" y="338.8" width="1" height="1" fill="#e85858" fill-opacity="0.8"/><rect x="456.1" y="332.4" width="1" height="1" fill="#e85858" fill-opacity="0.8"/><rect x="440.7" y="326.9" width="1" height="1" fill="#e85858" fill-opacity="0.8"/><rect x="449.7" y="350.8" width="1" height="1" fill="#e85858" fill-opacity="0.8"/><rect x="487.6" y="344.6" width="1" height="1" fill="#e85858" fill-opacity="0.8"/><rect x="500.8" y="335.7" width="1" height="1" fill="#e85858" fill-opacity="0.8"/><rect x="471.8" y="345.3" width="1" height="1" fill="#e85858" fill-opacity="0.8"/><rect x="394.4" y="307.3" width="1" height="1" fill="#d03060" fill-opacity="0.7"/><rect x="391.1" y="353.2" width="1" height="1" fill="#d03060" fill-opacity="0.7"/><rect x="395.9" y="410.8" width="1" height="1" fill="#d03060" fill-opacity="0.7"/><rect x="395.9" y="388.6" width="1" height="1" fill="#d03060" fill-opacity="0.7"/><rect x="395" y="288.4" width="1" height="1" fill="#d03060" fill-opacity="0.7"/><rect x="392.6" y="301" width="1" height="1" fill="#d03060" fill-opacity="0.7"/><rect x="395.7" y="326.1" width="1" height="1" fill="#d03060" fill-opacity="0.7"/><rect x="395.7" y="330.5" width="1" height="1" fill="#d03060" fill-opacity="0.7"/><rect x="389.5" y="315.7" width="1" height="1" fill="#d03060" fill-opacity="0.7"/><rect x="399.3" y="345.7" width="1" height="1" fill="#d03060" fill-opacity="0.7"/><rect x="396.3" y="357.9" width="1" height="1" fill="#d03060" fill-opacity="0.7"/><rect x="394.1" y="377.2" width="1" height="1" fill="#d03060" fill-opacity="0.7"/><rect x="399" y="370.3" width="1" height="1" fill="#d03060" fill-opacity="0.7"/><rect x="397.7" y="332.1" width="1" height="1" fill="#d03060" fill-opacity="0.7"/><rect x="392" y="286.4" width="1" height="1" fill="#d03060" fill-opacity="0.7"/><rect x="394.9" y="293.5" width="1" height="1" fill="#d03060" fill-opacity="0.7"/><rect x="392" y="347.4" width="1" height="1" fill="#d03060" fill-opacity="0.7"/><rect x="393.1" y="313.1" width="1" height="1" fill="#d03060" fill-opacity="0.7"/>
<rect x="387.3" y="279.1" width="298.7" height="225.3" filter="url(#cnoise)" opacity="0.09" style="mix-blend-mode:overlay"/>
<path d="M640.6 490V498M665.4 490V498M640.6 494H665.4" stroke="#f4ecee" stroke-width="1.3" fill="none"/>
<text x="650.6" y="491.7" font-size="6.6" text-anchor="middle" fill="#f4ecee" font-weight="bold">10 &#181;m</text>
</g>
<text x="394.2" y="300.7" font-size="16.5" class="serif" fill="#fff">(c)</text>
<!-- panel_d -->
<defs>
<linearGradient id="dgM" x1="0" y1="607" x2="0" y2="750" gradientUnits="userSpaceOnUse">
<stop offset="0" stop-color="#ff00e0" stop-opacity="1"/><stop offset="0.3" stop-color="#f840dc" stop-opacity="0.95"/><stop offset="0.55" stop-color="#f59ae8" stop-opacity="0.9"/><stop offset="0.8" stop-color="#f9e0f6" stop-opacity="0.85"/><stop offset="1" stop-color="#ffffff" stop-opacity="0.8"/></linearGradient>
<linearGradient id="dgB" x1="0" y1="539" x2="0" y2="750" gradientUnits="userSpaceOnUse">
<stop offset="0" stop-color="#1c1cd8"/><stop offset="0.3" stop-color="#5a5ae2"/><stop offset="0.55" stop-color="#a4a4ee"/><stop offset="0.8" stop-color="#e2e2fa"/><stop offset="1" stop-color="#ffffff"/></linearGradient>
<clipPath id="dclip"><rect x="25.7" y="531.3" width="299" height="221.3"/></clipPath>
</defs>
<g clip-path="url(#dclip)">
<path d="M25.3 746.5 L30.7 742.3 L36.1 742.2 L41.5 741.1 L47 738.9 L52.4 737.1 L57.8 735.5 L63.2 730.7 L68.6 729.2 L74.1 724.1 L79.5 714.6 L84.9 703.9 L90.3 688.2 L95.7 659.1 L101.2 609.4 L106.6 607.2 L112 660.1 L117.4 697.1 L122.8 715.5 L128.3 724.4 L133.7 729.9 L136.4 734 L139.1 737.6 L141.8 735.3 L144.5 738.1 L147.2 735.3 L149.9 730.2 L152.7 728.8 L155.4 726.9 L160.8 721.6 L166.2 713.6 L171.6 701.4 L177 680.9 L182.5 646.6 L187.9 591.7 L193.3 536.3 L198.7 546.4 L204.1 607.6 L209.6 658 L215 689.8 L220.4 708.8 L225.8 720.5 L231.2 728.3 L236.7 733.3 L242.1 736.9 L247.5 739.6 L252.9 741.2 L258.3 742.2 L261.1 742.7 L263.8 743 L266.5 742.2 L269.2 740.6 L271.9 741 L274.6 744.3 L277.3 742.9 L280 741.5 L282.7 743.5 L285.4 745.5 L288.1 745.4 L290.9 745.4 L293.6 745.3 L296.3 745 L299 744.5 L301.7 744 L304.4 743.8 L307.1 744.2 L309.8 744.5 L312.5 743.7 L315.2 743 L318 742.5 L320.7 742.1 L323.4 741.7 L326.1 741.5 L328.8 741.6" fill="none" stroke="#111" stroke-width="1.3" stroke-linejoin="round"/>
<path d="M25.3 746.5 L30.7 746.1 L36.1 745.6 L41.5 745.1 L47 744.3 L52.4 743.4 L57.8 742.2 L63.2 740.5 L68.6 738.1 L74.1 734.5 L79.5 728.8 L84.9 718.9 L90.3 700.4 L95.7 664.5 L101.2 611.2 L106.6 607.2 L112 659.1 L117.4 696.1 L122.8 714.7 L128.3 724 L133.7 728.7 L139.1 730.8 L144.5 731.3 L149.9 730.3 L155.4 727.9 L160.8 723.6 L166.2 716.5 L171.6 704.7 L177 684.7 L182.5 649.9 L187.9 593.7 L193.3 537.2 L198.7 548.4 L204.1 611 L209.6 661.9 L215 692.5 L220.4 710.4 L225.8 721.2 L231.2 728.2 L236.7 732.9 L242.1 736.3 L247.5 738.7 L252.9 740.5 L258.3 741.9 L263.8 742.9 L269.2 743.8 L274.6 744.5 L280 745.1 L285.4 745.6 L290.9 746 L296.3 746.3 L301.7 746.6 L307.1 746.9 L312.5 747.1 L318 747.3 L323.4 747.5 L328.8 747.6" fill="none" stroke="#f01418" stroke-width="1.9"/>
<path d="M25.3 748.5 L30.7 748.4 L36.1 748.4 L41.5 748.3 L47 748.2 L52.4 748.1 L57.8 748 L63.2 747.8 L68.6 747.7 L74.1 747.5 L79.5 747.3 L84.9 747.1 L90.3 746.9 L95.7 746.6 L101.2 746.3 L106.6 745.9 L112 745.4 L117.4 744.8 L122.8 744.1 L128.3 743.2 L133.7 742.1 L139.1 740.6 L144.5 738.7 L149.9 736.2 L155.4 732.6 L160.8 727.5 L166.2 719.7 L171.6 707.5 L177 687.1 L182.5 652 L187.9 595.5 L193.3 538.8 L198.7 549.9 L204.1 612.2 L209.6 663.1 L215 693.5 L220.4 711.3 L225.8 722.1 L231.2 729 L236.7 733.7 L242.1 736.9 L247.5 739.3 L252.9 741 L258.3 742.4 L263.8 743.4 L269.2 744.3 L274.6 745 L280 745.5 L285.4 746 L290.9 746.3 L296.3 746.7 L301.7 747 L307.1 747.2 L312.5 747.4 L318 747.6 L323.4 747.7 L328.8 747.9 L324.7 752.6 L25.7 752.6Z" fill="url(#dgB)"/>
<path d="M25.3 748.5 L30.7 748.4 L36.1 748.4 L41.5 748.3 L47 748.2 L52.4 748.1 L57.8 748 L63.2 747.8 L68.6 747.7 L74.1 747.5 L79.5 747.3 L84.9 747.1 L90.3 746.9 L95.7 746.6 L101.2 746.3 L106.6 745.9 L112 745.4 L117.4 744.8 L122.8 744.1 L128.3 743.2 L133.7 742.1 L139.1 740.6 L144.5 738.7 L149.9 736.2 L155.4 732.6 L160.8 727.5 L166.2 719.7 L171.6 707.5 L177 687.1 L182.5 652 L187.9 595.5 L193.3 538.8 L198.7 549.9 L204.1 612.2 L209.6 663.1 L215 693.5 L220.4 711.3 L225.8 722.1 L231.2 729 L236.7 733.7 L242.1 736.9 L247.5 739.3 L252.9 741 L258.3 742.4 L263.8 743.4 L269.2 744.3 L274.6 745 L280 745.5 L285.4 746 L290.9 746.3 L296.3 746.7 L301.7 747 L307.1 747.2 L312.5 747.4 L318 747.6 L323.4 747.7 L328.8 747.9" fill="none" stroke="#1010ee" stroke-width="1.5"/>
<path d="M25.3 747.5 L30.7 747.2 L36.1 746.8 L41.5 746.3 L47 745.7 L52.4 744.8 L57.8 743.7 L63.2 742.2 L68.6 739.9 L74.1 736.5 L79.5 731 L84.9 721.3 L90.3 703 L95.7 667.4 L101.2 614.5 L106.6 610.9 L112 663.2 L117.4 700.8 L122.8 720.2 L128.3 730.3 L133.7 736.1 L139.1 739.7 L144.5 742 L149.9 743.6 L155.4 744.8 L160.8 745.6 L166.2 746.2 L171.6 746.7 L177 747.1 L182.5 747.4 L182.5 752.6 L25.7 752.6Z" fill="url(#dgM)"/>
<path d="M25.3 747.5 L30.7 747.2 L36.1 746.8 L41.5 746.3 L47 745.7 L52.4 744.8 L57.8 743.7 L63.2 742.2 L68.6 739.9 L74.1 736.5 L79.5 731 L84.9 721.3 L90.3 703 L95.7 667.4 L101.2 614.5 L106.6 610.9 L112 663.2 L117.4 700.8 L122.8 720.2 L128.3 730.3 L133.7 736.1 L139.1 739.7 L144.5 742 L149.9 743.6 L155.4 744.8 L160.8 745.6 L166.2 746.2 L171.6 746.7 L177 747.1 L182.5 747.4 L187.9 747.7 L193.3 747.9 L198.7 748.1 L204.1 748.2 L209.6 748.4 L215 748.5 L220.4 748.6 L225.8 748.6 L231.2 748.7 L236.7 748.8 L242.1 748.8 L247.5 748.9 L252.9 748.9 L258.3 749 L263.8 749 L269.2 749 L274.6 749.1 L280 749.1 L285.4 749.1 L290.9 749.1 L296.3 749.2 L301.7 749.2 L307.1 749.2 L312.5 749.2 L318 749.2 L323.4 749.2 L328.8 749.2" fill="none" stroke="#ff10e8" stroke-width="1.5"/>
<path d="M144.5 738.7 L149.9 736.2 L155.4 732.6 L160.8 727.5 L166.2 719.7 L171.6 707.5 L177 687.1 L182.5 652 L187.9 595.5 L193.3 538.8 L198.7 549.9 L204.1 612.2 L209.6 663.1 L215 693.5 L220.4 711.3 L225.8 722.1 L231.2 729 L236.7 733.7 L242.1 736.9 L247.5 739.3 L252.9 741 L258.3 742.4 L263.8 743.4 L269.2 744.3 L274.6 745 L280 745.5 L285.4 746 L290.9 746.3 L296.3 746.7 L301.7 747 L307.1 747.2 L312.5 747.4 L318 747.6 L323.4 747.7 L328.8 747.9" fill="none" stroke="#1010ee" stroke-width="1.5"/>
</g>
<path d="M103.8 583V752M193.3 531.5V752" stroke="#222" stroke-width="1.3" stroke-dasharray="6.2 3.9" fill="none"/>
<path d="M117 602.6H178" stroke="#222" stroke-width="1.2" stroke-dasharray="5 3.2" fill="none"/>
<path d="M110.5 602.6l8.5-2.6v5.2zM184.5 602.6l-8.5-2.6v5.2z" fill="#111"/>
<rect x="25.7" y="531.3" width="299" height="221.3" fill="none" stroke="#1a1a1a" stroke-width="1.1"/>
<path d="M89.8 531.3v4.5M175.2 531.3v4.5M260.6 531.3v4.5" stroke="#1a1a1a" stroke-width="1.0" fill="none"/>
<path d="M47.1 531.3v2.4M132.5 531.3v2.4M217.9 531.3v2.4M303.3 531.3v2.4" stroke="#1a1a1a" stroke-width="1.0" fill="none"/>
<path d="M89.8 752.6v4M175.2 752.6v4M260.6 752.6v4" stroke="#1a1a1a" stroke-width="1.0" fill="none"/>
<path d="M47.1 752.6v2.5M132.5 752.6v2.5M217.9 752.6v2.5M303.3 752.6v2.5" stroke="#1a1a1a" stroke-width="1.0" fill="none"/>
<path d="M25.7 634.1h5" stroke="#1a1a1a" stroke-width="1.0" fill="none"/>
<path d="M324.7 634.1h-5" stroke="#1a1a1a" stroke-width="1.0" fill="none"/>
<path d="M25.7 577.4h2.8M25.7 691.1h2.8" stroke="#1a1a1a" stroke-width="1.0" fill="none"/>
<path d="M324.7 577.4h-2.8M324.7 691.1h-2.8" stroke="#1a1a1a" stroke-width="1.0" fill="none"/>
<text x="89.8" y="767.8" font-size="9.9" text-anchor="middle" fill="#111" >380</text>
<text x="175.2" y="767.8" font-size="9.9" text-anchor="middle" fill="#111" >400</text>
<text x="260.6" y="767.8" font-size="9.9" text-anchor="middle" fill="#111" >420</text>
<text x="175.5" y="788.2" font-size="11.8" text-anchor="middle" fill="#111" >Raman Shift (cm<tspan font-size="7.5" dy="-4.5">-1</tspan><tspan dy="4.5">&#8203;</tspan>)</text>
<text transform="translate(10.5 645.8) rotate(-90)" font-size="11.8" text-anchor="middle" fill="#111">Intensity (a.u.)</text>
<text x="27.5" y="546" font-size="11.8" text-anchor="start" fill="#111" >Monolayer MoS<tspan font-size="7.2" dy="3.3">2</tspan><tspan dy="-3.3">&#8203;</tspan></text>
<text x="36" y="567.5" font-size="16" class="serif">(d)</text>
<text x="73" y="597.2" font-size="18" fill="#ff10e8">E<tspan font-size="10" dy="-7.6" dx="0.3">1</tspan><tspan font-size="10" dy="14" dx="0.5">2g</tspan></text>
<text x="166.8" y="554.3" font-size="18" fill="#1010ee">A<tspan font-size="10" dy="5.5" dx="0.3">1g</tspan></text>
<text x="114.2" y="592.5" font-size="11.3" text-anchor="start" fill="#111" >&#916;(cm<tspan font-size="7" dy="-4.5">-1</tspan><tspan dy="4.5">&#8203;</tspan>):21.4</text>
<path d="M208.8 564.5H236" stroke="#111" stroke-width="1.3"/><path d="M208.8 579H236" stroke="#f01418" stroke-width="1.4"/>
<text x="239.5" y="568.5" font-size="12" text-anchor="start" fill="#111" >Measured Data</text>
<text x="239.5" y="583" font-size="12" text-anchor="start" fill="#111" >Fitted Data</text>
<!-- panel_e -->
<defs>
<pattern id="edots" width="3" height="3" patternUnits="userSpaceOnUse"><rect x="0" y="0" width="1" height="1" fill="#5a9a5a" fill-opacity="0.3"/><rect x="1.5" y="1.5" width="1" height="1" fill="#5a9a5a" fill-opacity="0.22"/></pattern>
<clipPath id="eclip"><rect x="390.2" y="531.3" width="299.2" height="221.3"/></clipPath>
</defs>
<g clip-path="url(#eclip)">
<path d="M390.2 748.6 L391.1 748.4 L392.1 748.2 L393 748 L393.9 747.7 L394.9 747.4 L395.8 747.2 L396.7 746.9 L397.7 746.6 L398.6 746.3 L399.6 745.9 L400.5 745.6 L401.4 745.3 L402.4 744.9 L403.3 744.6 L404.2 744.2 L405.2 743.9 L406.1 743.5 L407 743.2 L408 742.9 L408.9 742.5 L409.8 742.2 L410.8 741.9 L411.7 741.6 L412.6 741.3 L413.6 741 L414.5 740.8 L415.4 740.5 L416.4 740.3 L417.3 740.1 L418.2 739.9 L419.2 739.8 L420.1 739.7 L421.1 739.6 L422 739.5 L422.9 739.5 L423.9 739.5 L424.8 739.5 L425.7 739.6 L426.7 739.7 L427.6 739.8 L428.5 739.9 L429.5 740.1 L430.4 740.3 L431.3 740.5 L432.3 740.7 L433.2 741 L434.1 741.2 L435.1 741.5 L436 741.8 L436.9 742.1 L437.9 742.5 L438.8 742.8 L439.8 743.1 L440.7 743.5 L441.6 743.8 L442.6 744.2 L443.5 744.5 L444.4 744.9 L445.4 745.2 L446.3 745.5 L447.2 745.9 L448.2 746.2 L449.1 746.5 L450 746.8 L451 747.1 L451.9 747.4 L452.8 747.6 L453.8 747.9 L454.7 748.1 L455.6 748.4 L456.6 748.6 L457.5 748.8 L458.5 749 L459.4 749.2 L460.3 749.3 L461.3 749.5 L462.2 749.7 L463.1 749.8 L464.1 749.9 L465 750 L465.9 750.1 L466.9 750.2 L467.8 750.3 L468.7 750.4 L469.7 750.5 L470.6 750.5 L471.5 750.6 L472.5 750.6 L473.4 750.7 L474.4 750.7 L475.3 750.8 L476.2 750.8 L477.2 750.8 L478.1 750.8 L479 750.9 L480 750.9 L480.9 750.9 L481.8 750.9 L482.8 750.9 L483.7 750.9 L484.6 750.9 L485.6 751 L486.5 751 L487.4 751 L488.4 751 L489.3 751 L490.2 751 L491.2 751 L492.1 751 L493.1 751 L494 751 L494.9 751 L495.9 751 L496.8 751 L497.7 751 L498.7 751 L499.6 751 L500.5 751 L501.5 751 L502.4 751 L503.3 751 L504.3 751 L505.2 751 L506.1 751 L507.1 751 L508 751 L508.9 751 L509.9 751 L510.8 751 L511.8 751 L512.7 751 L513.6 751 L514.6 751 L515.5 751 L516.4 751 L517.4 751 L518.3 751 L519.2 751 L520.2 751 L521.1 751 L522 751 L523 751 L523.9 751 L524.8 751 L525.8 751 L526.7 751 L527.6 751 L528.6 751 L529.5 751 L530.5 751 L531.4 751 L532.3 751 L533.3 751 L534.2 751 L535.1 751 L536.1 751 L537 751 L537.9 751 L538.9 751 L539.8 751 L540.7 751 L541.7 751 L542.6 751 L543.5 751 L544.5 751 L545.4 751 L546.3 751 L547.3 751 L548.2 751 L549.1 751 L550.1 751 L551 751 L552 751 L552.9 751 L553.8 751 L554.8 751 L555.7 751 L556.6 751 L557.6 751 L558.5 751 L559.4 751 L560.4 751 L561.3 751 L562.2 751 L563.2 751 L564.1 751 L565 751 L566 751 L566.9 751 L567.9 751 L568.8 751 L569.7 751 L570.7 751 L571.6 751 L572.5 751 L573.5 751 L574.4 751 L575.3 751 L576.3 751 L577.2 751 L578.1 751 L579.1 751 L580 751 L580.9 751 L581.9 751 L582.8 751 L583.7 751 L584.7 751 L585.6 751 L586.5 751 L587.5 751 L588.4 751 L589.4 751 L590.3 751 L591.2 751 L592.2 751 L593.1 751 L594 751 L595 751 L595.9 751 L596.8 751 L597.8 751 L598.7 751 L599.6 751 L600.6 751 L601.5 751 L602.4 751 L603.4 751 L604.3 751 L605.2 751 L606.2 751 L607.1 751 L608.1 751 L609 751 L609.9 751 L610.9 751 L611.8 751 L612.7 751 L613.7 751 L614.6 751 L615.5 751 L616.5 751 L617.4 751 L618.3 751 L619.3 751 L620.2 751 L621.1 751 L622.1 751 L623 751 L624 751 L624.9 751 L625.8 751 L626.8 751 L627.7 751 L628.6 751 L629.6 751 L630.5 751 L631.4 751 L632.4 751 L633.3 751 L634.2 751 L635.2 751 L636.1 751 L637 751 L638 751 L638.9 751 L639.8 751 L640.8 751 L641.7 751 L642.6 751 L643.6 751 L644.5 751 L645.5 751 L646.4 751 L647.3 751 L648.3 751 L649.2 751 L650.1 751 L651.1 751 L652 751 L652.9 751 L653.9 751 L654.8 751 L655.7 751 L656.7 751 L657.6 751 L658.5 751 L659.5 751 L660.4 751 L661.4 751 L662.3 751 L663.2 751 L664.2 751 L665.1 751 L666 751 L667 751 L667.9 751 L668.8 751 L669.8 751 L670.7 751 L671.6 751 L672.6 751 L673.5 751 L674.4 751 L675.4 751 L676.3 751 L677.2 751 L678.2 751 L679.1 751 L680 751 L681 751 L681.9 751 L682.9 751 L683.8 751 L684.7 751 L685.7 751 L686.6 751 L687.5 751 L688.5 751 L689.4 751 L689.4 751 L390.2 751Z" fill="#c9a8e6" fill-opacity="0.55"/>
<path d="M390.2 751 L391.1 751 L392.1 751 L393 751 L393.9 751 L394.9 751 L395.8 751 L396.7 751 L397.7 751 L398.6 751 L399.6 751 L400.5 751 L401.4 751 L402.4 751 L403.3 751 L404.2 751 L405.2 751 L406.1 751 L407 751 L408 751 L408.9 751 L409.8 751 L410.8 751 L411.7 751 L412.6 751 L413.6 751 L414.5 751 L415.4 751 L416.4 751 L417.3 751 L418.2 751 L419.2 751 L420.1 751 L421.1 751 L422 751 L422.9 751 L423.9 751 L424.8 751 L425.7 751 L426.7 751 L427.6 751 L428.5 751 L429.5 751 L430.4 751 L431.3 751 L432.3 750.9 L433.2 750.9 L434.1 750.9 L435.1 750.8 L436 750.7 L436.9 750.7 L437.9 750.5 L438.8 750.4 L439.8 750.2 L440.7 749.9 L441.6 749.6 L442.6 749.3 L443.5 748.8 L444.4 748.2 L445.4 747.5 L446.3 746.7 L447.2 745.8 L448.2 744.7 L449.1 743.5 L450 742.1 L451 740.5 L451.9 738.8 L452.8 737 L453.8 735 L454.7 732.9 L455.6 730.8 L456.6 728.6 L457.5 726.4 L458.5 724.2 L459.4 722.2 L460.3 720.2 L461.3 718.5 L462.2 717 L463.1 715.8 L464.1 714.9 L465 714.3 L465.9 714 L466.9 714.1 L467.8 714.6 L468.7 715.4 L469.7 716.5 L470.6 717.9 L471.5 719.5 L472.5 721.4 L473.4 723.4 L474.4 725.5 L475.3 727.7 L476.2 729.9 L477.2 732.1 L478.1 734.2 L479 736.2 L480 738.1 L480.9 739.9 L481.8 741.5 L482.8 742.9 L483.7 744.2 L484.6 745.4 L485.6 746.4 L486.5 747.2 L487.4 748 L488.4 748.6 L489.3 749.1 L490.2 749.5 L491.2 749.8 L492.1 750.1 L493.1 750.3 L494 750.5 L494.9 750.6 L495.9 750.7 L496.8 750.8 L497.7 750.8 L498.7 750.9 L499.6 750.9 L500.5 750.9 L501.5 751 L502.4 751 L503.3 751 L504.3 751 L505.2 751 L506.1 751 L507.1 751 L508 751 L508.9 751 L509.9 751 L510.8 751 L511.8 751 L512.7 751 L513.6 751 L514.6 751 L515.5 751 L516.4 751 L517.4 751 L518.3 751 L519.2 751 L520.2 751 L521.1 751 L522 751 L523 751 L523.9 751 L524.8 751 L525.8 751 L526.7 751 L527.6 751 L528.6 751 L529.5 751 L530.5 751 L531.4 751 L532.3 751 L533.3 751 L534.2 751 L535.1 751 L536.1 751 L537 751 L537.9 751 L538.9 751 L539.8 751 L540.7 751 L541.7 751 L542.6 751 L543.5 751 L544.5 751 L545.4 751 L546.3 751 L547.3 751 L548.2 751 L549.1 751 L550.1 751 L551 751 L552 751 L552.9 751 L553.8 751 L554.8 751 L555.7 751 L556.6 751 L557.6 751 L558.5 751 L559.4 751 L560.4 751 L561.3 751 L562.2 751 L563.2 751 L564.1 751 L565 751 L566 751 L566.9 751 L567.9 751 L568.8 751 L569.7 751 L570.7 751 L571.6 751 L572.5 751 L573.5 751 L574.4 751 L575.3 751 L576.3 751 L577.2 751 L578.1 751 L579.1 751 L580 751 L580.9 751 L581.9 751 L582.8 751 L583.7 751 L584.7 751 L585.6 751 L586.5 751 L587.5 751 L588.4 751 L589.4 751 L590.3 751 L591.2 751 L592.2 751 L593.1 751 L594 751 L595 751 L595.9 751 L596.8 751 L597.8 751 L598.7 751 L599.6 751 L600.6 751 L601.5 751 L602.4 751 L603.4 751 L604.3 751 L605.2 751 L606.2 751 L607.1 751 L608.1 751 L609 751 L609.9 751 L610.9 751 L611.8 751 L612.7 751 L613.7 751 L614.6 751 L615.5 751 L616.5 751 L617.4 751 L618.3 751 L619.3 751 L620.2 751 L621.1 751 L622.1 751 L623 751 L624 751 L624.9 751 L625.8 751 L626.8 751 L627.7 751 L628.6 751 L629.6 751 L630.5 751 L631.4 751 L632.4 751 L633.3 751 L634.2 751 L635.2 751 L636.1 751 L637 751 L638 751 L638.9 751 L639.8 751 L640.8 751 L641.7 751 L642.6 751 L643.6 751 L644.5 751 L645.5 751 L646.4 751 L647.3 751 L648.3 751 L649.2 751 L650.1 751 L651.1 751 L652 751 L652.9 751 L653.9 751 L654.8 751 L655.7 751 L656.7 751 L657.6 751 L658.5 751 L659.5 751 L660.4 751 L661.4 751 L662.3 751 L663.2 751 L664.2 751 L665.1 751 L666 751 L667 751 L667.9 751 L668.8 751 L669.8 751 L670.7 751 L671.6 751 L672.6 751 L673.5 751 L674.4 751 L675.4 751 L676.3 751 L677.2 751 L678.2 751 L679.1 751 L680 751 L681 751 L681.9 751 L682.9 751 L683.8 751 L684.7 751 L685.7 751 L686.6 751 L687.5 751 L688.5 751 L689.4 751 L689.4 751 L390.2 751Z" fill="#bfe0bf" fill-opacity="0.75"/><path d="M390.2 751 L391.1 751 L392.1 751 L393 751 L393.9 751 L394.9 751 L395.8 751 L396.7 751 L397.7 751 L398.6 751 L399.6 751 L400.5 751 L401.4 751 L402.4 751 L403.3 751 L404.2 751 L405.2 751 L406.1 751 L407 751 L408 751 L408.9 751 L409.8 751 L410.8 751 L411.7 751 L412.6 751 L413.6 751 L414.5 751 L415.4 751 L416.4 751 L417.3 751 L418.2 751 L419.2 751 L420.1 751 L421.1 751 L422 751 L422.9 751 L423.9 751 L424.8 751 L425.7 751 L426.7 751 L427.6 751 L428.5 751 L429.5 751 L430.4 751 L431.3 751 L432.3 750.9 L433.2 750.9 L434.1 750.9 L435.1 750.8 L436 750.7 L436.9 750.7 L437.9 750.5 L438.8 750.4 L439.8 750.2 L440.7 749.9 L441.6 749.6 L442.6 749.3 L443.5 748.8 L444.4 748.2 L445.4 747.5 L446.3 746.7 L447.2 745.8 L448.2 744.7 L449.1 743.5 L450 742.1 L451 740.5 L451.9 738.8 L452.8 737 L453.8 735 L454.7 732.9 L455.6 730.8 L456.6 728.6 L457.5 726.4 L458.5 724.2 L459.4 722.2 L460.3 720.2 L461.3 718.5 L462.2 717 L463.1 715.8 L464.1 714.9 L465 714.3 L465.9 714 L466.9 714.1 L467.8 714.6 L468.7 715.4 L469.7 716.5 L470.6 717.9 L471.5 719.5 L472.5 721.4 L473.4 723.4 L474.4 725.5 L475.3 727.7 L476.2 729.9 L477.2 732.1 L478.1 734.2 L479 736.2 L480 738.1 L480.9 739.9 L481.8 741.5 L482.8 742.9 L483.7 744.2 L484.6 745.4 L485.6 746.4 L486.5 747.2 L487.4 748 L488.4 748.6 L489.3 749.1 L490.2 749.5 L491.2 749.8 L492.1 750.1 L493.1 750.3 L494 750.5 L494.9 750.6 L495.9 750.7 L496.8 750.8 L497.7 750.8 L498.7 750.9 L499.6 750.9 L500.5 750.9 L501.5 751 L502.4 751 L503.3 751 L504.3 751 L505.2 751 L506.1 751 L507.1 751 L508 751 L508.9 751 L509.9 751 L510.8 751 L511.8 751 L512.7 751 L513.6 751 L514.6 751 L515.5 751 L516.4 751 L517.4 751 L518.3 751 L519.2 751 L520.2 751 L521.1 751 L522 751 L523 751 L523.9 751 L524.8 751 L525.8 751 L526.7 751 L527.6 751 L528.6 751 L529.5 751 L530.5 751 L531.4 751 L532.3 751 L533.3 751 L534.2 751 L535.1 751 L536.1 751 L537 751 L537.9 751 L538.9 751 L539.8 751 L540.7 751 L541.7 751 L542.6 751 L543.5 751 L544.5 751 L545.4 751 L546.3 751 L547.3 751 L548.2 751 L549.1 751 L550.1 751 L551 751 L552 751 L552.9 751 L553.8 751 L554.8 751 L555.7 751 L556.6 751 L557.6 751 L558.5 751 L559.4 751 L560.4 751 L561.3 751 L562.2 751 L563.2 751 L564.1 751 L565 751 L566 751 L566.9 751 L567.9 751 L568.8 751 L569.7 751 L570.7 751 L571.6 751 L572.5 751 L573.5 751 L574.4 751 L575.3 751 L576.3 751 L577.2 751 L578.1 751 L579.1 751 L580 751 L580.9 751 L581.9 751 L582.8 751 L583.7 751 L584.7 751 L585.6 751 L586.5 751 L587.5 751 L588.4 751 L589.4 751 L590.3 751 L591.2 751 L592.2 751 L593.1 751 L594 751 L595 751 L595.9 751 L596.8 751 L597.8 751 L598.7 751 L599.6 751 L600.6 751 L601.5 751 L602.4 751 L603.4 751 L604.3 751 L605.2 751 L606.2 751 L607.1 751 L608.1 751 L609 751 L609.9 751 L610.9 751 L611.8 751 L612.7 751 L613.7 751 L614.6 751 L615.5 751 L616.5 751 L617.4 751 L618.3 751 L619.3 751 L620.2 751 L621.1 751 L622.1 751 L623 751 L624 751 L624.9 751 L625.8 751 L626.8 751 L627.7 751 L628.6 751 L629.6 751 L630.5 751 L631.4 751 L632.4 751 L633.3 751 L634.2 751 L635.2 751 L636.1 751 L637 751 L638 751 L638.9 751 L639.8 751 L640.8 751 L641.7 751 L642.6 751 L643.6 751 L644.5 751 L645.5 751 L646.4 751 L647.3 751 L648.3 751 L649.2 751 L650.1 751 L651.1 751 L652 751 L652.9 751 L653.9 751 L654.8 751 L655.7 751 L656.7 751 L657.6 751 L658.5 751 L659.5 751 L660.4 751 L661.4 751 L662.3 751 L663.2 751 L664.2 751 L665.1 751 L666 751 L667 751 L667.9 751 L668.8 751 L669.8 751 L670.7 751 L671.6 751 L672.6 751 L673.5 751 L674.4 751 L675.4 751 L676.3 751 L677.2 751 L678.2 751 L679.1 751 L680 751 L681 751 L681.9 751 L682.9 751 L683.8 751 L684.7 751 L685.7 751 L686.6 751 L687.5 751 L688.5 751 L689.4 751 L689.4 751 L390.2 751Z" fill="url(#edots)"/>
<path d="M390.2 751 L391.1 751 L392.1 751 L393 751 L393.9 751 L394.9 751 L395.8 751 L396.7 751 L397.7 751 L398.6 751 L399.6 751 L400.5 751 L401.4 751 L402.4 751 L403.3 751 L404.2 751 L405.2 751 L406.1 751 L407 751 L408 751 L408.9 751 L409.8 751 L410.8 751 L411.7 751 L412.6 751 L413.6 751 L414.5 751 L415.4 751 L416.4 751 L417.3 751 L418.2 751 L419.2 751 L420.1 751 L421.1 751 L422 751 L422.9 751 L423.9 751 L424.8 751 L425.7 751 L426.7 751 L427.6 751 L428.5 751 L429.5 751 L430.4 751 L431.3 751 L432.3 751 L433.2 751 L434.1 751 L435.1 751 L436 751 L436.9 751 L437.9 751 L438.8 751 L439.8 751 L440.7 751 L441.6 750.9 L442.6 750.9 L443.5 750.9 L444.4 750.9 L445.4 750.9 L446.3 750.9 L447.2 750.8 L448.2 750.8 L449.1 750.8 L450 750.7 L451 750.7 L451.9 750.6 L452.8 750.6 L453.8 750.5 L454.7 750.4 L455.6 750.3 L456.6 750.2 L457.5 750.1 L458.5 749.9 L459.4 749.7 L460.3 749.6 L461.3 749.3 L462.2 749.1 L463.1 748.8 L464.1 748.5 L465 748.2 L465.9 747.8 L466.9 747.3 L467.8 746.8 L468.7 746.3 L469.7 745.7 L470.6 745.1 L471.5 744.4 L472.5 743.6 L473.4 742.7 L474.4 741.8 L475.3 740.8 L476.2 739.7 L477.2 738.6 L478.1 737.3 L479 736 L480 734.6 L480.9 733.1 L481.8 731.5 L482.8 729.8 L483.7 728 L484.6 726.1 L485.6 724.1 L486.5 722.1 L487.4 720 L488.4 717.8 L489.3 715.5 L490.2 713.2 L491.2 710.9 L492.1 708.4 L493.1 706 L494 703.5 L494.9 701.1 L495.9 698.6 L496.8 696.2 L497.7 693.7 L498.7 691.3 L499.6 689 L500.5 686.8 L501.5 684.6 L502.4 682.5 L503.3 680.6 L504.3 678.7 L505.2 677 L506.1 675.5 L507.1 674.1 L508 672.9 L508.9 671.8 L509.9 671 L510.8 670.3 L511.8 669.8 L512.7 669.6 L513.6 669.5 L514.6 669.6 L515.5 670 L516.4 670.5 L517.4 671.3 L518.3 672.2 L519.2 673.3 L520.2 674.6 L521.1 676.1 L522 677.7 L523 679.4 L523.9 681.3 L524.8 683.3 L525.8 685.5 L526.7 687.7 L527.6 689.9 L528.6 692.3 L529.5 694.7 L530.5 697.1 L531.4 699.6 L532.3 702.1 L533.3 704.5 L534.2 707 L535.1 709.4 L536.1 711.8 L537 714.2 L537.9 716.4 L538.9 718.7 L539.8 720.8 L540.7 722.9 L541.7 724.9 L542.6 726.9 L543.5 728.7 L544.5 730.5 L545.4 732.1 L546.3 733.7 L547.3 735.2 L548.2 736.5 L549.1 737.8 L550.1 739.1 L551 740.2 L552 741.2 L552.9 742.2 L553.8 743.1 L554.8 743.9 L555.7 744.7 L556.6 745.3 L557.6 746 L558.5 746.5 L559.4 747 L560.4 747.5 L561.3 747.9 L562.2 748.3 L563.2 748.6 L564.1 748.9 L565 749.2 L566 749.4 L566.9 749.6 L567.9 749.8 L568.8 750 L569.7 750.1 L570.7 750.2 L571.6 750.4 L572.5 750.4 L573.5 750.5 L574.4 750.6 L575.3 750.7 L576.3 750.7 L577.2 750.8 L578.1 750.8 L579.1 750.8 L580 750.9 L580.9 750.9 L581.9 750.9 L582.8 750.9 L583.7 750.9 L584.7 750.9 L585.6 751 L586.5 751 L587.5 751 L588.4 751 L589.4 751 L590.3 751 L591.2 751 L592.2 751 L593.1 751 L594 751 L595 751 L595.9 751 L596.8 751 L597.8 751 L598.7 751 L599.6 751 L600.6 751 L601.5 751 L602.4 751 L603.4 751 L604.3 751 L605.2 751 L606.2 751 L607.1 751 L608.1 751 L609 751 L609.9 751 L610.9 751 L611.8 751 L612.7 751 L613.7 751 L614.6 751 L615.5 751 L616.5 751 L617.4 751 L618.3 751 L619.3 751 L620.2 751 L621.1 751 L622.1 751 L623 751 L624 751 L624.9 751 L625.8 751 L626.8 751 L627.7 751 L628.6 751 L629.6 751 L630.5 751 L631.4 751 L632.4 751 L633.3 751 L634.2 751 L635.2 751 L636.1 751 L637 751 L638 751 L638.9 751 L639.8 751 L640.8 751 L641.7 751 L642.6 751 L643.6 751 L644.5 751 L645.5 751 L646.4 751 L647.3 751 L648.3 751 L649.2 751 L650.1 751 L651.1 751 L652 751 L652.9 751 L653.9 751 L654.8 751 L655.7 751 L656.7 751 L657.6 751 L658.5 751 L659.5 751 L660.4 751 L661.4 751 L662.3 751 L663.2 751 L664.2 751 L665.1 751 L666 751 L667 751 L667.9 751 L668.8 751 L669.8 751 L670.7 751 L671.6 751 L672.6 751 L673.5 751 L674.4 751 L675.4 751 L676.3 751 L677.2 751 L678.2 751 L679.1 751 L680 751 L681 751 L681.9 751 L682.9 751 L683.8 751 L684.7 751 L685.7 751 L686.6 751 L687.5 751 L688.5 751 L689.4 751 L689.4 751 L390.2 751Z" fill="#ff9cf8" fill-opacity="0.5"/>
<path d="M390.2 751 L391.1 751 L392.1 751 L393 751 L393.9 751 L394.9 751 L395.8 751 L396.7 751 L397.7 751 L398.6 751 L399.6 751 L400.5 751 L401.4 751 L402.4 751 L403.3 751 L404.2 751 L405.2 751 L406.1 751 L407 751 L408 751 L408.9 751 L409.8 751 L410.8 751 L411.7 751 L412.6 751 L413.6 751 L414.5 751 L415.4 751 L416.4 751 L417.3 751 L418.2 751 L419.2 751 L420.1 751 L421.1 751 L422 751 L422.9 751 L423.9 751 L424.8 751 L425.7 751 L426.7 751 L427.6 751 L428.5 751 L429.5 751 L430.4 751 L431.3 751 L432.3 751 L433.2 751 L434.1 751 L435.1 751 L436 751 L436.9 751 L437.9 751 L438.8 751 L439.8 751 L440.7 751 L441.6 751 L442.6 751 L443.5 751 L444.4 751 L445.4 751 L446.3 751 L447.2 751 L448.2 751 L449.1 751 L450 751 L451 751 L451.9 751 L452.8 751 L453.8 751 L454.7 751 L455.6 751 L456.6 751 L457.5 751 L458.5 751 L459.4 751 L460.3 751 L461.3 751 L462.2 751 L463.1 751 L464.1 751 L465 751 L465.9 751 L466.9 751 L467.8 751 L468.7 751 L469.7 751 L470.6 751 L471.5 751 L472.5 751 L473.4 751 L474.4 751 L475.3 751 L476.2 751 L477.2 751 L478.1 751 L479 751 L480 751 L480.9 751 L481.8 751 L482.8 751 L483.7 751 L484.6 751 L485.6 751 L486.5 751 L487.4 751 L488.4 751 L489.3 751 L490.2 750.9 L491.2 750.9 L492.1 750.9 L493.1 750.8 L494 750.7 L494.9 750.5 L495.9 750.3 L496.8 750 L497.7 749.7 L498.7 749.1 L499.6 748.4 L500.5 747.5 L501.5 746.4 L502.4 744.9 L503.3 743 L504.3 740.8 L505.2 738 L506.1 734.6 L507.1 730.7 L508 726.1 L508.9 720.8 L509.9 714.9 L510.8 708.4 L511.8 701.3 L512.7 693.7 L513.6 685.7 L514.6 677.6 L515.5 669.5 L516.4 661.6 L517.4 654.1 L518.3 647.3 L519.2 641.4 L520.2 636.5 L521.1 633 L522 630.7 L523 630 L523.9 630.7 L524.8 633 L525.8 636.5 L526.7 641.4 L527.6 647.3 L528.6 654.1 L529.5 661.6 L530.5 669.5 L531.4 677.6 L532.3 685.7 L533.3 693.7 L534.2 701.3 L535.1 708.4 L536.1 714.9 L537 720.8 L537.9 726.1 L538.9 730.7 L539.8 734.6 L540.7 738 L541.7 740.8 L542.6 743 L543.5 744.9 L544.5 746.4 L545.4 747.5 L546.3 748.4 L547.3 749.1 L548.2 749.7 L549.1 750 L550.1 750.3 L551 750.5 L552 750.7 L552.9 750.8 L553.8 750.9 L554.8 750.9 L555.7 750.9 L556.6 751 L557.6 751 L558.5 751 L559.4 751 L560.4 751 L561.3 751 L562.2 751 L563.2 751 L564.1 751 L565 751 L566 751 L566.9 751 L567.9 751 L568.8 751 L569.7 751 L570.7 751 L571.6 751 L572.5 751 L573.5 751 L574.4 751 L575.3 751 L576.3 751 L577.2 751 L578.1 751 L579.1 751 L580 751 L580.9 751 L581.9 751 L582.8 751 L583.7 751 L584.7 751 L585.6 751 L586.5 751 L587.5 751 L588.4 751 L589.4 751 L590.3 751 L591.2 751 L592.2 751 L593.1 751 L594 751 L595 751 L595.9 751 L596.8 751 L597.8 751 L598.7 751 L599.6 751 L600.6 751 L601.5 751 L602.4 751 L603.4 751 L604.3 751 L605.2 751 L606.2 751 L607.1 751 L608.1 751 L609 751 L609.9 751 L610.9 751 L611.8 751 L612.7 751 L613.7 751 L614.6 751 L615.5 751 L616.5 751 L617.4 751 L618.3 751 L619.3 751 L620.2 751 L621.1 751 L622.1 751 L623 751 L624 751 L624.9 751 L625.8 751 L626.8 751 L627.7 751 L628.6 751 L629.6 751 L630.5 751 L631.4 751 L632.4 751 L633.3 751 L634.2 751 L635.2 751 L636.1 751 L637 751 L638 751 L638.9 751 L639.8 751 L640.8 751 L641.7 751 L642.6 751 L643.6 751 L644.5 751 L645.5 751 L646.4 751 L647.3 751 L648.3 751 L649.2 751 L650.1 751 L651.1 751 L652 751 L652.9 751 L653.9 751 L654.8 751 L655.7 751 L656.7 751 L657.6 751 L658.5 751 L659.5 751 L660.4 751 L661.4 751 L662.3 751 L663.2 751 L664.2 751 L665.1 751 L666 751 L667 751 L667.9 751 L668.8 751 L669.8 751 L670.7 751 L671.6 751 L672.6 751 L673.5 751 L674.4 751 L675.4 751 L676.3 751 L677.2 751 L678.2 751 L679.1 751 L680 751 L681 751 L681.9 751 L682.9 751 L683.8 751 L684.7 751 L685.7 751 L686.6 751 L687.5 751 L688.5 751 L689.4 751 L689.4 751 L390.2 751Z" fill="#9aa0f4" fill-opacity="0.55"/>
<path d="M390.2 751 L391.1 751 L392.1 751 L393 751 L393.9 751 L394.9 751 L395.8 751 L396.7 751 L397.7 751 L398.6 751 L399.6 751 L400.5 751 L401.4 751 L402.4 751 L403.3 751 L404.2 751 L405.2 751 L406.1 751 L407 751 L408 751 L408.9 751 L409.8 751 L410.8 751 L411.7 751 L412.6 751 L413.6 751 L414.5 751 L415.4 751 L416.4 751 L417.3 751 L418.2 751 L419.2 751 L420.1 751 L421.1 751 L422 751 L422.9 751 L423.9 751 L424.8 751 L425.7 751 L426.7 751 L427.6 751 L428.5 751 L429.5 751 L430.4 751 L431.3 751 L432.3 751 L433.2 751 L434.1 751 L435.1 751 L436 751 L436.9 751 L437.9 751 L438.8 751 L439.8 751 L440.7 751 L441.6 751 L442.6 751 L443.5 751 L444.4 751 L445.4 751 L446.3 751 L447.2 751 L448.2 751 L449.1 751 L450 751 L451 751 L451.9 751 L452.8 751 L453.8 751 L454.7 751 L455.6 751 L456.6 751 L457.5 751 L458.5 751 L459.4 751 L460.3 751 L461.3 751 L462.2 751 L463.1 751 L464.1 751 L465 751 L465.9 751 L466.9 751 L467.8 751 L468.7 751 L469.7 751 L470.6 751 L471.5 751 L472.5 751 L473.4 751 L474.4 751 L475.3 751 L476.2 751 L477.2 751 L478.1 751 L479 751 L480 751 L480.9 751 L481.8 751 L482.8 751 L483.7 751 L484.6 751 L485.6 751 L486.5 751 L487.4 751 L488.4 751 L489.3 751 L490.2 751 L491.2 751 L492.1 751 L493.1 751 L494 751 L494.9 751 L495.9 751 L496.8 751 L497.7 751 L498.7 751 L499.6 751 L500.5 751 L501.5 751 L502.4 751 L503.3 751 L504.3 751 L505.2 751 L506.1 751 L507.1 751 L508 751 L508.9 751 L509.9 751 L510.8 751 L511.8 751 L512.7 751 L513.6 751 L514.6 751 L515.5 751 L516.4 751 L517.4 751 L518.3 751 L519.2 751 L520.2 751 L521.1 751 L522 751 L523 751 L523.9 751 L524.8 751 L525.8 751 L526.7 751 L527.6 751 L528.6 751 L529.5 751 L530.5 751 L531.4 751 L532.3 751 L533.3 751 L534.2 751 L535.1 751 L536.1 751 L537 751 L537.9 751 L538.9 751 L539.8 751 L540.7 751 L541.7 751 L542.6 751 L543.5 751 L544.5 751 L545.4 751 L546.3 751 L547.3 751 L548.2 751 L549.1 751 L550.1 751 L551 751 L552 751 L552.9 751 L553.8 751 L554.8 751 L555.7 751 L556.6 751 L557.6 751 L558.5 751 L559.4 751 L560.4 751 L561.3 751 L562.2 751 L563.2 751 L564.1 751 L565 751 L566 751 L566.9 751 L567.9 751 L568.8 751 L569.7 751 L570.7 751 L571.6 751 L572.5 751 L573.5 751 L574.4 751 L575.3 751 L576.3 751 L577.2 751 L578.1 751 L579.1 751 L580 751 L580.9 751 L581.9 751 L582.8 751 L583.7 751 L584.7 751 L585.6 751 L586.5 751 L587.5 751 L588.4 751 L589.4 751 L590.3 751 L591.2 751 L592.2 751 L593.1 751 L594 751 L595 751 L595.9 751 L596.8 751 L597.8 751 L598.7 751 L599.6 751 L600.6 751 L601.5 751 L602.4 751 L603.4 751 L604.3 751 L605.2 751 L606.2 751 L607.1 751 L608.1 751 L609 751 L609.9 751 L610.9 751 L611.8 751 L612.7 751 L613.7 751 L614.6 751 L615.5 751 L616.5 751 L617.4 751 L618.3 751 L619.3 751 L620.2 751 L621.1 751 L622.1 751 L623 751 L624 751 L624.9 751 L625.8 750.9 L626.8 750.9 L627.7 750.8 L628.6 750.6 L629.6 750.4 L630.5 750.1 L631.4 749.6 L632.4 748.9 L633.3 748 L634.2 746.9 L635.2 745.4 L636.1 743.6 L637 741.5 L638 739.1 L638.9 736.5 L639.8 733.7 L640.8 731 L641.7 728.3 L642.6 726.1 L643.6 724.2 L644.5 723 L645.5 722.5 L646.4 722.7 L647.3 723.7 L648.3 725.3 L649.2 727.4 L650.1 729.9 L651.1 732.6 L652 735.4 L652.9 738.1 L653.9 740.6 L654.8 742.8 L655.7 744.7 L656.7 746.3 L657.6 747.6 L658.5 748.6 L659.5 749.3 L660.4 749.9 L661.4 750.3 L662.3 750.5 L663.2 750.7 L664.2 750.8 L665.1 750.9 L666 750.9 L667 751 L667.9 751 L668.8 751 L669.8 751 L670.7 751 L671.6 751 L672.6 751 L673.5 751 L674.4 751 L675.4 751 L676.3 751 L677.2 751 L678.2 751 L679.1 751 L680 751 L681 751 L681.9 751 L682.9 751 L683.8 751 L684.7 751 L685.7 751 L686.6 751 L687.5 751 L688.5 751 L689.4 751 L689.4 751 L390.2 751Z" fill="#c2c6e0" fill-opacity="0.9"/>
<path d="M390.2 748.1 L392.1 747.6 L393.9 747.1 L395.8 746.5 L397.7 745.8 L399.6 745.1 L401.4 744.4 L403.3 743.6 L405.2 742.9 L407 741.7 L408.9 740.5 L410.8 739.4 L412.6 737.5 L414.5 735.8 L416.4 734.6 L418.2 733.4 L420.1 734.2 L422 735 L423.9 737 L425.7 739.1 L427.6 740.5 L429.5 742 L431.3 742.9 L433.2 743.9 L435.1 743.8 L436.9 743.8 L438.8 743.6 L440.7 742.9 L442.6 741.9 L444.4 740.5 L446.3 738.9 L448.2 736.7 L450 734.4 L451.9 731.3 L453.8 728.1 L455.6 724.4 L457.5 720.5 L459.4 716.6 L461.3 712.9 L463.1 709.9 L465 707.9 L466.9 706.9 L468.7 707.1 L470.6 709 L472.5 711.6 L474.4 714.5 L476.2 717.2 L478.1 719.5 L480 721 L481.8 721.3 L483.7 720.6 L485.6 719 L487.4 716.4 L489.3 712.9 L491.2 708.8 L493.1 704.2 L494.9 699.2 L496.8 693.7 L498.7 687.9 L500.5 681.5 L502.4 674.4 L504.3 666.3 L506.1 656.8 L508 645.6 L509.9 632.4 L511.8 617.8 L513.6 602.2 L515.5 586.7 L517.4 572.9 L519.2 562 L521.1 556.1 L523 557.1 L524.8 565.3 L526.7 578.4 L528.6 596.1 L530.5 616.6 L532.3 637.6 L534.2 657.9 L536.1 676.2 L537.9 691.5 L539.8 704 L541.7 713.7 L543.5 720.9 L545.4 726.3 L547.3 730.3 L549.1 733.1 L551 735.1 L552.9 736.5 L554.8 738.1 L556.6 739.5 L558.5 740.5 L560.4 741.8 L562.2 743 L564.1 743.9 L566 744.6 L567.9 745.2 L569.7 745.6 L571.6 745.9 L573.5 746 L575.3 746.2 L577.2 746 L579.1 745.8 L580.9 745.9 L582.8 745.9 L584.7 746.7 L586.5 747.5 L588.4 748 L590.3 748.6 L592.2 749.2 L594 749.4 L595.9 749.6 L597.8 749.8 L599.6 750 L601.5 750 L603.4 750.1 L605.2 750.1 L607.1 750.2 L609 750.3 L610.9 750.4 L612.7 750.6 L614.6 750.7 L616.5 750.8 L618.3 750.8 L620.2 750.9 L622.1 751 L624 750.9 L625.8 750.8 L627.7 750.5 L629.6 750.1 L631.4 749.2 L633.3 747.5 L635.2 744.8 L637 740.8 L638.9 735.6 L640.8 730 L642.6 724.9 L644.5 721.6 L646.4 721.3 L648.3 724.1 L650.1 728.9 L652 734.5 L653.9 739.9 L655.7 744.2 L657.6 747.2 L659.5 749.1 L661.4 750.1 L663.2 750.7 L665.1 750.9 L667 751 L668.8 751 L670.7 751 L672.6 751 L674.4 751 L676.3 751 L678.2 751 L680 751 L681.9 751 L683.8 751 L685.7 751 L687.5 751 L689.4 751" fill="none" stroke="#111" stroke-width="1.5" stroke-linejoin="round"/>
<path d="M390.2 748.6 L391.1 748.4 L392.1 748.2 L393 748 L393.9 747.7 L394.9 747.4 L395.8 747.2 L396.7 746.9 L397.7 746.6 L398.6 746.3 L399.6 745.9 L400.5 745.6 L401.4 745.3 L402.4 744.9 L403.3 744.6 L404.2 744.2 L405.2 743.9 L406.1 743.5 L407 743.2 L408 742.9 L408.9 742.5 L409.8 742.2 L410.8 741.9 L411.7 741.6 L412.6 741.3 L413.6 741 L414.5 740.8 L415.4 740.5 L416.4 740.3 L417.3 740.1 L418.2 739.9 L419.2 739.8 L420.1 739.7 L421.1 739.6 L422 739.5 L422.9 739.5 L423.9 739.5 L424.8 739.5 L425.7 739.6 L426.7 739.7 L427.6 739.8 L428.5 739.9 L429.5 740 L430.4 740.2 L431.3 740.4 L432.3 740.6 L433.2 740.9 L434.1 741.1 L435.1 741.3 L436 741.5 L436.9 741.8 L437.9 742 L438.8 742.1 L439.8 742.3 L440.7 742.4 L441.6 742.4 L442.6 742.4 L443.5 742.2 L444.4 742 L445.4 741.6 L446.3 741.1 L447.2 740.5 L448.2 739.7 L449.1 738.8 L450 737.6 L451 736.3 L451.9 734.8 L452.8 733.2 L453.8 731.4 L454.7 729.5 L455.6 727.4 L456.6 725.4 L457.5 723.2 L458.5 721.1 L459.4 719.1 L460.3 717.1 L461.3 715.4 L462.2 713.7 L463.1 712.4 L464.1 711.3 L465 710.4 L465.9 709.9 L466.9 709.7 L467.8 709.7 L468.7 710.1 L469.7 710.7 L470.6 711.5 L471.5 712.5 L472.5 713.6 L473.4 714.8 L474.4 716 L475.3 717.3 L476.2 718.4 L477.2 719.5 L478.1 720.3 L479 721 L480 721.5 L480.9 721.8 L481.8 721.8 L482.8 721.6 L483.7 721.1 L484.6 720.4 L485.6 719.5 L486.5 718.3 L487.4 716.9 L488.4 715.3 L489.3 713.5 L490.2 711.6 L491.2 709.6 L492.1 707.4 L493.1 705.1 L494 702.7 L494.9 700.2 L495.9 697.6 L496.8 695 L497.7 692.2 L498.7 689.4 L499.6 686.4 L500.5 683.3 L501.5 679.9 L502.4 676.4 L503.3 672.6 L504.3 668.5 L505.2 664 L506.1 659.1 L507.1 653.7 L508 647.9 L508.9 641.6 L509.9 634.9 L510.8 627.7 L511.8 620.1 L512.7 612.2 L513.6 604.2 L514.6 596.3 L515.5 588.5 L516.4 581.1 L517.4 574.4 L518.3 568.5 L519.2 563.7 L520.2 560.2 L521.1 558 L522 557.4 L523 558.4 L523.9 561.1 L524.8 565.3 L525.8 571 L526.7 578 L527.6 586.2 L528.6 595.4 L529.5 605.3 L530.5 615.6 L531.4 626.2 L532.3 636.8 L533.3 647.2 L534.2 657.2 L535.1 666.8 L536.1 675.7 L537 684 L537.9 691.5 L538.9 698.4 L539.8 704.5 L540.7 709.9 L541.7 714.7 L542.6 718.9 L543.5 722.6 L544.5 725.8 L545.4 728.7 L546.3 731.1 L547.3 733.3 L548.2 735.2 L549.1 736.9 L550.1 738.4 L551 739.7 L552 740.9 L552.9 742 L553.8 742.9 L554.8 743.8 L555.7 744.6 L556.6 745.3 L557.6 745.9 L558.5 746.5 L559.4 747 L560.4 747.5 L561.3 747.9 L562.2 748.3 L563.2 748.6 L564.1 748.9 L565 749.2 L566 749.4 L566.9 749.6 L567.9 749.8 L568.8 750 L569.7 750.1 L570.7 750.2 L571.6 750.4 L572.5 750.4 L573.5 750.5 L574.4 750.6 L575.3 750.7 L576.3 750.7 L577.2 750.8 L578.1 750.8 L579.1 750.8 L580 750.9 L580.9 750.9 L581.9 750.9 L582.8 750.9 L583.7 750.9 L584.7 750.9 L585.6 751 L586.5 751 L587.5 751 L588.4 751 L589.4 751 L590.3 751 L591.2 751" fill="none" stroke="#ee1418" stroke-width="1.5"/>
<path d="M390.2 748.6 L391.1 748.4 L392.1 748.2 L393 748 L393.9 747.7 L394.9 747.4 L395.8 747.2 L396.7 746.9 L397.7 746.6 L398.6 746.3 L399.6 745.9 L400.5 745.6 L401.4 745.3 L402.4 744.9 L403.3 744.6 L404.2 744.2 L405.2 743.9 L406.1 743.5 L407 743.2 L408 742.9 L408.9 742.5 L409.8 742.2 L410.8 741.9 L411.7 741.6 L412.6 741.3 L413.6 741 L414.5 740.8 L415.4 740.5 L416.4 740.3 L417.3 740.1 L418.2 739.9 L419.2 739.8 L420.1 739.7 L421.1 739.6 L422 739.5 L422.9 739.5 L423.9 739.5 L424.8 739.5 L425.7 739.6 L426.7 739.7 L427.6 739.8 L428.5 739.9 L429.5 740.1 L430.4 740.3 L431.3 740.5 L432.3 740.7 L433.2 741 L434.1 741.2 L435.1 741.5 L436 741.8 L436.9 742.1 L437.9 742.5 L438.8 742.8 L439.8 743.1 L440.7 743.5 L441.6 743.8 L442.6 744.2 L443.5 744.5 L444.4 744.9 L445.4 745.2 L446.3 745.5 L447.2 745.9 L448.2 746.2 L449.1 746.5 L450 746.8 L451 747.1 L451.9 747.4 L452.8 747.6 L453.8 747.9 L454.7 748.1 L455.6 748.4 L456.6 748.6 L457.5 748.8 L458.5 749 L459.4 749.2 L460.3 749.3 L461.3 749.5 L462.2 749.7 L463.1 749.8 L464.1 749.9 L465 750 L465.9 750.1 L466.9 750.2 L467.8 750.3 L468.7 750.4 L469.7 750.5 L470.6 750.5 L471.5 750.6 L472.5 750.6 L473.4 750.7 L474.4 750.7 L475.3 750.8" fill="none" stroke="#8a2be2" stroke-width="1.3"/>
<path d="M435.1 750.8 L436 750.7 L436.9 750.7 L437.9 750.5 L438.8 750.4 L439.8 750.2 L440.7 749.9 L441.6 749.6 L442.6 749.3 L443.5 748.8 L444.4 748.2 L445.4 747.5 L446.3 746.7 L447.2 745.8 L448.2 744.7 L449.1 743.5 L450 742.1 L451 740.5 L451.9 738.8 L452.8 737 L453.8 735 L454.7 732.9 L455.6 730.8 L456.6 728.6 L457.5 726.4 L458.5 724.2 L459.4 722.2 L460.3 720.2 L461.3 718.5 L462.2 717 L463.1 715.8 L464.1 714.9 L465 714.3 L465.9 714 L466.9 714.1 L467.8 714.6 L468.7 715.4 L469.7 716.5 L470.6 717.9 L471.5 719.5 L472.5 721.4 L473.4 723.4 L474.4 725.5 L475.3 727.7 L476.2 729.9 L477.2 732.1 L478.1 734.2 L479 736.2 L480 738.1 L480.9 739.9 L481.8 741.5 L482.8 742.9 L483.7 744.2 L484.6 745.4 L485.6 746.4 L486.5 747.2 L487.4 748 L488.4 748.6 L489.3 749.1 L490.2 749.5 L491.2 749.8 L492.1 750.1 L493.1 750.3 L494 750.5 L494.9 750.6 L495.9 750.7 L496.8 750.8" fill="none" stroke="#0a8a0a" stroke-width="1.5"/>
<path d="M449.1 750.8 L450 750.7 L451 750.7 L451.9 750.6 L452.8 750.6 L453.8 750.5 L454.7 750.4 L455.6 750.3 L456.6 750.2 L457.5 750.1 L458.5 749.9 L459.4 749.7 L460.3 749.6 L461.3 749.3 L462.2 749.1 L463.1 748.8 L464.1 748.5 L465 748.2 L465.9 747.8 L466.9 747.3 L467.8 746.8 L468.7 746.3 L469.7 745.7 L470.6 745.1 L471.5 744.4 L472.5 743.6 L473.4 742.7 L474.4 741.8 L475.3 740.8 L476.2 739.7 L477.2 738.6 L478.1 737.3 L479 736 L480 734.6 L480.9 733.1 L481.8 731.5 L482.8 729.8 L483.7 728 L484.6 726.1 L485.6 724.1 L486.5 722.1 L487.4 720 L488.4 717.8 L489.3 715.5 L490.2 713.2 L491.2 710.9 L492.1 708.4 L493.1 706 L494 703.5 L494.9 701.1 L495.9 698.6 L496.8 696.2 L497.7 693.7 L498.7 691.3 L499.6 689 L500.5 686.8 L501.5 684.6 L502.4 682.5 L503.3 680.6 L504.3 678.7 L505.2 677 L506.1 675.5 L507.1 674.1 L508 672.9 L508.9 671.8 L509.9 671 L510.8 670.3 L511.8 669.8 L512.7 669.6 L513.6 669.5 L514.6 669.6 L515.5 670 L516.4 670.5 L517.4 671.3 L518.3 672.2 L519.2 673.3 L520.2 674.6 L521.1 676.1 L522 677.7 L523 679.4 L523.9 681.3 L524.8 683.3 L525.8 685.5 L526.7 687.7 L527.6 689.9 L528.6 692.3 L529.5 694.7 L530.5 697.1 L531.4 699.6 L532.3 702.1 L533.3 704.5 L534.2 707 L535.1 709.4 L536.1 711.8 L537 714.2 L537.9 716.4 L538.9 718.7 L539.8 720.8 L540.7 722.9 L541.7 724.9 L542.6 726.9 L543.5 728.7 L544.5 730.5 L545.4 732.1 L546.3 733.7 L547.3 735.2 L548.2 736.5 L549.1 737.8 L550.1 739.1 L551 740.2 L552 741.2 L552.9 742.2 L553.8 743.1 L554.8 743.9 L555.7 744.7 L556.6 745.3 L557.6 746 L558.5 746.5 L559.4 747 L560.4 747.5 L561.3 747.9 L562.2 748.3 L563.2 748.6 L564.1 748.9 L565 749.2 L566 749.4 L566.9 749.6 L567.9 749.8 L568.8 750 L569.7 750.1 L570.7 750.2 L571.6 750.4 L572.5 750.4 L573.5 750.5 L574.4 750.6 L575.3 750.7 L576.3 750.7 L577.2 750.8" fill="none" stroke="#ff10f0" stroke-width="1.5"/>
<path d="M493.1 750.8 L494 750.7 L494.9 750.5 L495.9 750.3 L496.8 750 L497.7 749.7 L498.7 749.1 L499.6 748.4 L500.5 747.5 L501.5 746.4 L502.4 744.9 L503.3 743 L504.3 740.8 L505.2 738 L506.1 734.6 L507.1 730.7 L508 726.1 L508.9 720.8 L509.9 714.9 L510.8 708.4 L511.8 701.3 L512.7 693.7 L513.6 685.7 L514.6 677.6 L515.5 669.5 L516.4 661.6 L517.4 654.1 L518.3 647.3 L519.2 641.4 L520.2 636.5 L521.1 633 L522 630.7 L523 630 L523.9 630.7 L524.8 633 L525.8 636.5 L526.7 641.4 L527.6 647.3 L528.6 654.1 L529.5 661.6 L530.5 669.5 L531.4 677.6 L532.3 685.7 L533.3 693.7 L534.2 701.3 L535.1 708.4 L536.1 714.9 L537 720.8 L537.9 726.1 L538.9 730.7 L539.8 734.6 L540.7 738 L541.7 740.8 L542.6 743 L543.5 744.9 L544.5 746.4 L545.4 747.5 L546.3 748.4 L547.3 749.1 L548.2 749.7 L549.1 750 L550.1 750.3 L551 750.5 L552 750.7 L552.9 750.8" fill="none" stroke="#1414f0" stroke-width="1.5"/>
<path d="M622.1 751 L623 751 L624 751 L624.9 751 L625.8 750.9 L626.8 750.9 L627.7 750.8 L628.6 750.6 L629.6 750.4 L630.5 750.1 L631.4 749.6 L632.4 748.9 L633.3 748 L634.2 746.9 L635.2 745.4 L636.1 743.6 L637 741.5 L638 739.1 L638.9 736.5 L639.8 733.7 L640.8 731 L641.7 728.3 L642.6 726.1 L643.6 724.2 L644.5 723 L645.5 722.5 L646.4 722.7 L647.3 723.7 L648.3 725.3 L649.2 727.4 L650.1 729.9 L651.1 732.6 L652 735.4 L652.9 738.1 L653.9 740.6 L654.8 742.8 L655.7 744.7 L656.7 746.3 L657.6 747.6 L658.5 748.6 L659.5 749.3 L660.4 749.9 L661.4 750.3 L662.3 750.5 L663.2 750.7 L664.2 750.8 L665.1 750.9 L666 750.9 L667 751 L667.9 751" fill="none" stroke="#15157a" stroke-width="1.6"/>
<path d="M390.2 751.3H689.4" stroke="#5a20e0" stroke-width="1.3"/>
</g>
<path d="M523.3 531.5V752M645.6 531.5V752" stroke="#222" stroke-width="1.2" stroke-dasharray="9 2.8 2 2.8" fill="none"/>
<path d="M536 631.5H636" stroke="#222" stroke-width="1.2" stroke-dasharray="5 3" fill="none"/>
<path d="M527.8 631.5l9-2.6v5.2zM644 631.5l-9-2.6v5.2z" fill="#111"/>
<path d="M481.5 573.3L508.3 575.1" stroke="#ee1418" stroke-width="1.3" fill="none"/><path d="M516.3 575.6L508.1 577.7L508.5 572.5Z" fill="#ee1418"/>
<path d="M561 569.8L534.1 575.2" stroke="#111" stroke-width="1.3" fill="none"/><path d="M526.3 576.8L533.6 572.7L534.7 577.8Z" fill="#111"/>
<path d="M500 601.5L517.5 623.7" stroke="#1414f0" stroke-width="1.3" fill="none"/><path d="M522.5 630L515.5 625.3L519.6 622.1Z" fill="#1414f0"/>
<path d="M486 645.5L503.4 665.6" stroke="#ff10f0" stroke-width="1.3" fill="none"/><path d="M508.6 671.6L501.4 667.3L505.3 663.9Z" fill="#ff10f0"/>
<path d="M443.8 689.5L458.5 707.3" stroke="#0a8a0a" stroke-width="1.3" fill="none"/><path d="M463.6 713.5L456.5 709L460.5 705.7Z" fill="#0a8a0a"/>
<path d="M620.3 697.3L635.9 717.7" stroke="#15157a" stroke-width="1.5" fill="none"/><path d="M640.8 724L633.9 719.2L638 716.1Z" fill="#15157a"/>
<rect x="390.2" y="531.3" width="299.2" height="221.3" fill="none" stroke="#1a1a1a" stroke-width="1.1"/>
<path d="M427.6 531.3v4.5M465 531.3v4.5M502.4 531.3v4.5M539.8 531.3v4.5M577.2 531.3v4.5M614.6 531.3v4.5M652 531.3v4.5" stroke="#1a1a1a" stroke-width="1.0" fill="none"/>
<path d="M408.9 531.3v2.4M446.3 531.3v2.4M483.7 531.3v2.4M521.1 531.3v2.4M558.5 531.3v2.4M595.9 531.3v2.4M633.3 531.3v2.4M670.7 531.3v2.4" stroke="#1a1a1a" stroke-width="1.0" fill="none"/>
<path d="M390.2 752.6v4.5M427.6 752.6v4.5M465 752.6v4.5M502.4 752.6v4.5M539.8 752.6v4.5M577.2 752.6v4.5M614.6 752.6v4.5M652 752.6v4.5M689.4 752.6v4.5" stroke="#1a1a1a" stroke-width="1.0" fill="none"/>
<path d="M408.9 752.6v2.8M446.3 752.6v2.8M483.7 752.6v2.8M521.1 752.6v2.8M558.5 752.6v2.8M595.9 752.6v2.8M633.3 752.6v2.8M670.7 752.6v2.8" stroke="#1a1a1a" stroke-width="1.0" fill="none"/>
<path d="M390.2 591.9h5M390.2 652.1h5M390.2 712.3h5" stroke="#1a1a1a" stroke-width="1.0" fill="none"/>
<path d="M689.4 591.9h-5M689.4 652.1h-5M689.4 712.3h-5" stroke="#1a1a1a" stroke-width="1.0" fill="none"/>
<path d="M390.2 561.8h2.8M390.2 622h2.8M390.2 682.2h2.8M390.2 742.4h2.8" stroke="#1a1a1a" stroke-width="1.0" fill="none"/>
<path d="M689.4 561.8h-2.8M689.4 622h-2.8M689.4 682.2h-2.8M689.4 742.4h-2.8" stroke="#1a1a1a" stroke-width="1.0" fill="none"/>
<text x="390.2" y="767.6" font-size="9.9" text-anchor="middle" fill="#111" >280</text>
<text x="427.6" y="767.6" font-size="9.9" text-anchor="middle" fill="#111" >300</text>
<text x="465" y="767.6" font-size="9.9" text-anchor="middle" fill="#111" >320</text>
<text x="502.4" y="767.6" font-size="9.9" text-anchor="middle" fill="#111" >340</text>
<text x="539.8" y="767.6" font-size="9.9" text-anchor="middle" fill="#111" >360</text>
<text x="577.2" y="767.6" font-size="9.9" text-anchor="middle" fill="#111" >380</text>
<text x="614.6" y="767.6" font-size="9.9" text-anchor="middle" fill="#111" >400</text>
<text x="652" y="767.6" font-size="9.9" text-anchor="middle" fill="#111" >420</text>
<text x="689.4" y="767.6" font-size="9.9" text-anchor="middle" fill="#111" >440</text>
<text x="540" y="787.8" font-size="11.8" text-anchor="middle" fill="#111" >Raman Shift (cm<tspan font-size="7.5" dy="-4.5">-1</tspan><tspan dy="4.5">&#8203;</tspan>)</text>
<text transform="translate(374.8 645.8) rotate(-90)" font-size="11.8" text-anchor="middle" fill="#111">Intensity (a.u.)</text>
<text x="402" y="550.5" font-size="11.8" text-anchor="start" fill="#111" >Monolayer WS<tspan font-size="7.2" dy="3.3">2</tspan><tspan dy="-3.3">&#8203;</tspan></text>
<text x="399" y="568.3" font-size="16" class="serif">(e)</text>
<text x="442.5" y="568.8" font-size="11.8" text-anchor="start" fill="#ee1418" >Fitted Data</text>
<text x="538" y="563.5" font-size="11.8" text-anchor="start" fill="#111" >Measured Data</text>
<text x="497.5" y="600.5" font-size="11.5" text-anchor="start" fill="#1414f0" >E'</text>
<text x="451" y="642" font-size="11.5" text-anchor="start" fill="#ff10f0" >2LA(M)</text>
<text x="409.5" y="685.5" font-size="11.5" text-anchor="start" fill="#0a8a0a" >E'(M)</text>
<text x="610.4" y="694.4" font-size="11.5" fill="#15157a">A<tspan font-size="6.5" dy="2.5">1</tspan></text>
<text x="551" y="625" font-size="11.3" text-anchor="start" fill="#111" >&#916;(cm<tspan font-size="7" dy="-4.5">-1</tspan><tspan dy="4.5">&#8203;</tspan>): 64.5</text>
<!-- panel_f -->
<defs>
<pattern id="fdots" width="3" height="3" patternUnits="userSpaceOnUse"><rect x="0" y="0" width="1" height="1" fill="#d040d0" fill-opacity="0.5"/><rect x="1.5" y="1.5" width="1" height="1" fill="#d040d0" fill-opacity="0.35"/></pattern>
<clipPath id="fclip"><rect x="25.7" y="804.5" width="298.9" height="220.8"/></clipPath>
</defs>
<g clip-path="url(#fclip)">
<path d="M25.7 1019.3 L26.7 1019.3 L27.7 1019.3 L28.7 1019.3 L29.7 1019.3 L30.7 1019.3 L31.7 1019.3 L32.7 1019.3 L33.7 1019.3 L34.7 1019.3 L35.7 1019.3 L36.7 1019.3 L37.7 1019.3 L38.7 1019.3 L39.7 1019.3 L40.7 1019.3 L41.7 1019.3 L42.7 1019.3 L43.7 1019.3 L44.7 1019.3 L45.7 1019.3 L46.7 1019.3 L47.7 1019.3 L48.7 1019.3 L49.7 1019.3 L50.7 1019.3 L51.7 1019.3 L52.7 1019.3 L53.7 1019.3 L54.7 1019.3 L55.7 1019.3 L56.7 1019.3 L57.7 1019.3 L58.7 1019.3 L59.7 1019.3 L60.7 1019.3 L61.7 1019.3 L62.7 1019.3 L63.7 1019.3 L64.7 1019.3 L65.7 1019.3 L66.7 1019.3 L67.7 1019.3 L68.7 1019.3 L69.7 1019.3 L70.7 1019.3 L71.7 1019.3 L72.7 1019.3 L73.7 1019.3 L74.7 1019.3 L75.7 1019.3 L76.7 1019.3 L77.7 1019.3 L78.7 1019.3 L79.7 1019.3 L80.7 1019.3 L81.7 1019.3 L82.7 1019.3 L83.7 1019.2 L84.7 1019.2 L85.7 1019.2 L86.7 1019.2 L87.7 1019.2 L88.7 1019.2 L89.7 1019.1 L90.7 1019.1 L91.7 1019.1 L92.7 1019 L93.7 1019 L94.7 1018.9 L95.7 1018.9 L96.7 1018.8 L97.7 1018.7 L98.7 1018.6 L99.7 1018.5 L100.7 1018.4 L101.7 1018.2 L102.7 1018.1 L103.7 1017.9 L104.7 1017.6 L105.7 1017.4 L106.7 1017.1 L107.7 1016.8 L108.7 1016.5 L109.7 1016.1 L110.7 1015.7 L111.7 1015.2 L112.7 1014.7 L113.7 1014.1 L114.7 1013.4 L115.7 1012.7 L116.7 1011.9 L117.7 1011.1 L118.7 1010.1 L119.7 1009.1 L120.7 1008 L121.7 1006.8 L122.7 1005.5 L123.7 1004.1 L124.7 1002.6 L125.7 1001 L126.7 999.2 L127.7 997.4 L128.7 995.4 L129.7 993.4 L130.7 991.2 L131.7 988.9 L132.7 986.5 L133.7 984 L134.7 981.3 L135.7 978.6 L136.7 975.7 L137.7 972.8 L138.7 969.8 L139.7 966.7 L140.7 963.5 L141.7 960.3 L142.7 957 L143.7 953.7 L144.7 950.4 L145.7 947 L146.7 943.7 L147.7 940.4 L148.7 937.2 L149.7 934 L150.7 930.8 L151.7 927.8 L152.7 924.9 L153.7 922.1 L154.7 919.4 L155.7 916.9 L156.7 914.5 L157.7 912.4 L158.7 910.5 L159.7 908.7 L160.7 907.2 L161.7 905.9 L162.7 904.9 L163.7 904.1 L164.7 903.6 L165.7 903.3 L166.7 903.3 L167.7 903.6 L168.7 904.1 L169.7 904.9 L170.7 905.9 L171.7 907.1 L172.7 908.6 L173.7 910.3 L174.7 912.3 L175.6 914.4 L176.6 916.7 L177.6 919.2 L178.6 921.9 L179.6 924.7 L180.6 927.6 L181.6 930.6 L182.6 933.8 L183.6 937 L184.6 940.2 L185.6 943.5 L186.6 946.8 L187.6 950.2 L188.6 953.5 L189.6 956.8 L190.6 960.1 L191.6 963.3 L192.6 966.5 L193.6 969.6 L194.6 972.6 L195.6 975.6 L196.6 978.4 L197.6 981.2 L198.6 983.8 L199.6 986.3 L200.6 988.8 L201.6 991.1 L202.6 993.3 L203.6 995.3 L204.6 997.3 L205.6 999.1 L206.6 1000.9 L207.6 1002.5 L208.6 1004 L209.6 1005.4 L210.6 1006.7 L211.6 1007.9 L212.6 1009 L213.6 1010.1 L214.6 1011 L215.6 1011.9 L216.6 1012.7 L217.6 1013.4 L218.6 1014 L219.6 1014.6 L220.6 1015.2 L221.6 1015.6 L222.6 1016.1 L223.6 1016.5 L224.6 1016.8 L225.6 1017.1 L226.6 1017.4 L227.6 1017.6 L228.6 1017.9 L229.6 1018 L230.6 1018.2 L231.6 1018.4 L232.6 1018.5 L233.6 1018.6 L234.6 1018.7 L235.6 1018.8 L236.6 1018.9 L237.6 1018.9 L238.6 1019 L239.6 1019 L240.6 1019.1 L241.6 1019.1 L242.6 1019.1 L243.6 1019.2 L244.6 1019.2 L245.6 1019.2 L246.6 1019.2 L247.6 1019.2 L248.6 1019.2 L249.6 1019.3 L250.6 1019.3 L251.6 1019.3 L252.6 1019.3 L253.6 1019.3 L254.6 1019.3 L255.6 1019.3 L256.6 1019.3 L257.6 1019.3 L258.6 1019.3 L259.6 1019.3 L260.6 1019.3 L261.6 1019.3 L262.6 1019.3 L263.6 1019.3 L264.6 1019.3 L265.6 1019.3 L266.6 1019.3 L267.6 1019.3 L268.6 1019.3 L269.6 1019.3 L270.6 1019.3 L271.6 1019.3 L272.6 1019.3 L273.6 1019.3 L274.6 1019.3 L275.6 1019.3 L276.6 1019.3 L277.6 1019.3 L278.6 1019.3 L279.6 1019.3 L280.6 1019.3 L281.6 1019.3 L282.6 1019.3 L283.6 1019.3 L284.6 1019.3 L285.6 1019.3 L286.6 1019.3 L287.6 1019.3 L288.6 1019.3 L289.6 1019.3 L290.6 1019.3 L291.6 1019.3 L292.6 1019.3 L293.6 1019.3 L294.6 1019.3 L295.6 1019.3 L296.6 1019.3 L297.6 1019.3 L298.6 1019.3 L299.6 1019.3 L300.6 1019.3 L301.6 1019.3 L302.6 1019.3 L303.6 1019.3 L304.6 1019.3 L305.6 1019.3 L306.6 1019.3 L307.6 1019.3 L308.6 1019.3 L309.6 1019.3 L310.6 1019.3 L311.6 1019.3 L312.6 1019.3 L313.6 1019.3 L314.6 1019.3 L315.6 1019.3 L316.6 1019.3 L317.6 1019.3 L318.6 1019.3 L319.6 1019.3 L320.6 1019.3 L321.6 1019.3 L322.6 1019.3 L323.6 1019.3 L324.6 1019.3 L324.6 1025.3 L25.7 1025.3Z" fill="#ff5a5a" fill-opacity="0.5"/>
<path d="M25.7 1019.3 L26.7 1019.3 L27.7 1019.3 L28.7 1019.3 L29.7 1019.3 L30.7 1019.3 L31.7 1019.3 L32.7 1019.3 L33.7 1019.3 L34.7 1019.3 L35.7 1019.3 L36.7 1019.3 L37.7 1019.3 L38.7 1019.3 L39.7 1019.3 L40.7 1019.3 L41.7 1019.3 L42.7 1019.3 L43.7 1019.3 L44.7 1019.3 L45.7 1019.3 L46.7 1019.3 L47.7 1019.3 L48.7 1019.3 L49.7 1019.3 L50.7 1019.3 L51.7 1019.3 L52.7 1019.3 L53.7 1019.3 L54.7 1019.3 L55.7 1019.3 L56.7 1019.3 L57.7 1019.3 L58.7 1019.3 L59.7 1019.3 L60.7 1019.3 L61.7 1019.3 L62.7 1019.3 L63.7 1019.3 L64.7 1019.3 L65.7 1019.3 L66.7 1019.3 L67.7 1019.3 L68.7 1019.3 L69.7 1019.3 L70.7 1019.3 L71.7 1019.3 L72.7 1019.3 L73.7 1019.3 L74.7 1019.3 L75.7 1019.3 L76.7 1019.3 L77.7 1019.3 L78.7 1019.3 L79.7 1019.3 L80.7 1019.3 L81.7 1019.3 L82.7 1019.3 L83.7 1019.2 L84.7 1019.2 L85.7 1019.2 L86.7 1019.2 L87.7 1019.2 L88.7 1019.2 L89.7 1019.1 L90.7 1019.1 L91.7 1019.1 L92.7 1019 L93.7 1019 L94.7 1018.9 L95.7 1018.9 L96.7 1018.8 L97.7 1018.7 L98.7 1018.6 L99.7 1018.5 L100.7 1018.4 L101.7 1018.2 L102.7 1018.1 L103.7 1017.9 L104.7 1017.6 L105.7 1017.4 L106.7 1017.1 L107.7 1016.8 L108.7 1016.5 L109.7 1016.1 L110.7 1015.7 L111.7 1015.2 L112.7 1014.7 L113.7 1014.1 L114.7 1013.4 L115.7 1012.7 L116.7 1011.9 L117.7 1011.1 L118.7 1010.1 L119.7 1009.1 L120.7 1008 L121.7 1006.8 L122.7 1005.5 L123.7 1004.1 L124.7 1002.6 L125.7 1001 L126.7 999.2 L127.7 997.4 L128.7 995.4 L129.7 993.4 L130.7 991.2 L131.7 988.9 L132.7 986.5 L133.7 984 L134.7 981.3 L135.7 978.6 L136.7 975.7 L137.7 972.8 L138.7 969.8 L139.7 966.7 L140.7 963.5 L141.7 960.3 L142.7 957 L143.7 953.7 L144.7 950.4 L145.7 947 L146.7 943.7 L147.7 940.4 L148.7 937.2 L149.7 934 L150.7 930.8 L151.7 927.8 L152.7 924.9 L153.7 922.1 L154.7 919.4 L155.7 916.9 L156.7 914.5 L157.7 912.4 L158.7 910.5 L159.7 908.7 L160.7 907.2 L161.7 905.9 L162.7 904.9 L163.7 904.1 L164.7 903.6 L165.7 903.3 L166.7 903.3 L167.7 903.6 L168.7 904.1 L169.7 904.9 L170.7 905.9 L171.7 907.1 L172.7 908.6 L173.7 910.3 L174.7 912.3 L175.6 914.4 L176.6 916.7 L177.6 919.2 L178.6 921.9 L179.6 924.7 L180.6 927.6 L181.6 930.6 L182.6 933.8 L183.6 937 L184.6 940.2 L185.6 943.5 L186.6 946.8 L187.6 950.2 L188.6 953.5 L189.6 956.8 L190.6 960.1 L191.6 963.3 L192.6 966.5 L193.6 969.6 L194.6 972.6 L195.6 975.6 L196.6 978.4 L197.6 981.2 L198.6 983.8 L199.6 986.3 L200.6 988.8 L201.6 991.1 L202.6 993.3 L203.6 995.3 L204.6 997.3 L205.6 999.1 L206.6 1000.9 L207.6 1002.5 L208.6 1004 L209.6 1005.4 L210.6 1006.7 L211.6 1007.9 L212.6 1009 L213.6 1010.1 L214.6 1011 L215.6 1011.9 L216.6 1012.7 L217.6 1013.4 L218.6 1014 L219.6 1014.6 L220.6 1015.2 L221.6 1015.6 L222.6 1016.1 L223.6 1016.5 L224.6 1016.8 L225.6 1017.1 L226.6 1017.4 L227.6 1017.6 L228.6 1017.9 L229.6 1018 L230.6 1018.2 L231.6 1018.4 L232.6 1018.5 L233.6 1018.6 L234.6 1018.7 L235.6 1018.8 L236.6 1018.9 L237.6 1018.9 L238.6 1019 L239.6 1019 L240.6 1019.1 L241.6 1019.1 L242.6 1019.1 L243.6 1019.2 L244.6 1019.2 L245.6 1019.2 L246.6 1019.2 L247.6 1019.2 L248.6 1019.2 L249.6 1019.3 L250.6 1019.3 L251.6 1019.3 L252.6 1019.3 L253.6 1019.3 L254.6 1019.3 L255.6 1019.3 L256.6 1019.3 L257.6 1019.3 L258.6 1019.3 L259.6 1019.3 L260.6 1019.3 L261.6 1019.3 L262.6 1019.3 L263.6 1019.3 L264.6 1019.3 L265.6 1019.3 L266.6 1019.3 L267.6 1019.3 L268.6 1019.3 L269.6 1019.3 L270.6 1019.3 L271.6 1019.3 L272.6 1019.3 L273.6 1019.3 L274.6 1019.3 L275.6 1019.3 L276.6 1019.3 L277.6 1019.3 L278.6 1019.3 L279.6 1019.3 L280.6 1019.3 L281.6 1019.3 L282.6 1019.3 L283.6 1019.3 L284.6 1019.3 L285.6 1019.3 L286.6 1019.3 L287.6 1019.3 L288.6 1019.3 L289.6 1019.3 L290.6 1019.3 L291.6 1019.3 L292.6 1019.3 L293.6 1019.3 L294.6 1019.3 L295.6 1019.3 L296.6 1019.3 L297.6 1019.3 L298.6 1019.3 L299.6 1019.3 L300.6 1019.3 L301.6 1019.3 L302.6 1019.3 L303.6 1019.3 L304.6 1019.3 L305.6 1019.3 L306.6 1019.3 L307.6 1019.3 L308.6 1019.3 L309.6 1019.3 L310.6 1019.3 L311.6 1019.3 L312.6 1019.3 L313.6 1019.3 L314.6 1019.3 L315.6 1019.3 L316.6 1019.3 L317.6 1019.3 L318.6 1019.3 L319.6 1019.3 L320.6 1019.3 L321.6 1019.3 L322.6 1019.3 L323.6 1019.3 L324.6 1019.3" fill="none" stroke="#ff1a1a" stroke-width="1.4"/>
<path d="M25.7 1019.3 L26.7 1019.3 L27.7 1019.3 L28.7 1019.3 L29.7 1019.3 L30.7 1019.3 L31.7 1019.3 L32.7 1019.3 L33.7 1019.3 L34.7 1019.3 L35.7 1019.3 L36.7 1019.3 L37.7 1019.3 L38.7 1019.3 L39.7 1019.3 L40.7 1019.3 L41.7 1019.3 L42.7 1019.3 L43.7 1019.3 L44.7 1019.3 L45.7 1019.3 L46.7 1019.3 L47.7 1019.3 L48.7 1019.3 L49.7 1019.3 L50.7 1019.3 L51.7 1019.3 L52.7 1019.3 L53.7 1019.3 L54.7 1019.3 L55.7 1019.3 L56.7 1019.3 L57.7 1019.3 L58.7 1019.3 L59.7 1019.3 L60.7 1019.3 L61.7 1019.3 L62.7 1019.3 L63.7 1019.3 L64.7 1019.3 L65.7 1019.3 L66.7 1019.3 L67.7 1019.3 L68.7 1019.3 L69.7 1019.3 L70.7 1019.3 L71.7 1019.3 L72.7 1019.3 L73.7 1019.3 L74.7 1019.3 L75.7 1019.3 L76.7 1019.3 L77.7 1019.3 L78.7 1019.3 L79.7 1019.3 L80.7 1019.3 L81.7 1019.3 L82.7 1019.3 L83.7 1019.3 L84.7 1019.3 L85.7 1019.3 L86.7 1019.3 L87.7 1019.3 L88.7 1019.3 L89.7 1019.3 L90.7 1019.3 L91.7 1019.3 L92.7 1019.3 L93.7 1019.3 L94.7 1019.3 L95.7 1019.3 L96.7 1019.3 L97.7 1019.3 L98.7 1019.3 L99.7 1019.3 L100.7 1019.3 L101.7 1019.3 L102.7 1019.3 L103.7 1019.3 L104.7 1019.3 L105.7 1019.3 L106.7 1019.3 L107.7 1019.3 L108.7 1019.3 L109.7 1019.3 L110.7 1019.3 L111.7 1019.3 L112.7 1019.3 L113.7 1019.3 L114.7 1019.3 L115.7 1019.3 L116.7 1019.3 L117.7 1019.3 L118.7 1019.3 L119.7 1019.3 L120.7 1019.3 L121.7 1019.3 L122.7 1019.3 L123.7 1019.3 L124.7 1019.3 L125.7 1019.3 L126.7 1019.3 L127.7 1019.3 L128.7 1019.3 L129.7 1019.3 L130.7 1019.3 L131.7 1019.3 L132.7 1019.3 L133.7 1019.3 L134.7 1019.3 L135.7 1019.3 L136.7 1019.3 L137.7 1019.3 L138.7 1019.3 L139.7 1019.3 L140.7 1019.3 L141.7 1019.3 L142.7 1019.3 L143.7 1019.3 L144.7 1019.3 L145.7 1019.3 L146.7 1019.3 L147.7 1019.3 L148.7 1019.3 L149.7 1019.3 L150.7 1019.3 L151.7 1019.3 L152.7 1019.3 L153.7 1019.3 L154.7 1019.3 L155.7 1019.3 L156.7 1019.3 L157.7 1019.3 L158.7 1019.3 L159.7 1019.3 L160.7 1019.3 L161.7 1019.3 L162.7 1019.3 L163.7 1019.3 L164.7 1019.3 L165.7 1019.3 L166.7 1019.3 L167.7 1019.3 L168.7 1019.3 L169.7 1019.3 L170.7 1019.3 L171.7 1019.3 L172.7 1019.3 L173.7 1019.3 L174.7 1019.3 L175.6 1019.3 L176.6 1019.3 L177.6 1019.3 L178.6 1019.3 L179.6 1019.3 L180.6 1019.3 L181.6 1019.3 L182.6 1019.2 L183.6 1019.2 L184.6 1019.2 L185.6 1019.2 L186.6 1019.2 L187.6 1019.2 L188.6 1019.2 L189.6 1019.2 L190.6 1019.1 L191.6 1019.1 L192.6 1019.1 L193.6 1019.1 L194.6 1019 L195.6 1019 L196.6 1019 L197.6 1018.9 L198.6 1018.9 L199.6 1018.8 L200.6 1018.8 L201.6 1018.7 L202.6 1018.7 L203.6 1018.6 L204.6 1018.5 L205.6 1018.4 L206.6 1018.3 L207.6 1018.3 L208.6 1018.2 L209.6 1018 L210.6 1017.9 L211.6 1017.8 L212.6 1017.7 L213.6 1017.5 L214.6 1017.4 L215.6 1017.2 L216.6 1017.1 L217.6 1016.9 L218.6 1016.7 L219.6 1016.5 L220.6 1016.3 L221.6 1016.1 L222.6 1015.9 L223.6 1015.6 L224.6 1015.4 L225.6 1015.2 L226.6 1014.9 L227.6 1014.7 L228.6 1014.4 L229.6 1014.1 L230.6 1013.9 L231.6 1013.6 L232.6 1013.3 L233.6 1013.1 L234.6 1012.8 L235.6 1012.5 L236.6 1012.2 L237.6 1012 L238.6 1011.7 L239.6 1011.4 L240.6 1011.2 L241.6 1010.9 L242.6 1010.7 L243.6 1010.5 L244.6 1010.2 L245.6 1010 L246.6 1009.8 L247.6 1009.7 L248.6 1009.5 L249.6 1009.3 L250.6 1009.2 L251.6 1009.1 L252.6 1009 L253.6 1008.9 L254.6 1008.9 L255.6 1008.8 L256.6 1008.8 L257.6 1008.8 L258.6 1008.8 L259.6 1008.9 L260.6 1008.9 L261.6 1009 L262.6 1009.1 L263.6 1009.2 L264.6 1009.3 L265.6 1009.5 L266.6 1009.7 L267.6 1009.8 L268.6 1010 L269.6 1010.2 L270.6 1010.5 L271.6 1010.7 L272.6 1010.9 L273.6 1011.2 L274.6 1011.4 L275.6 1011.7 L276.6 1012 L277.6 1012.2 L278.6 1012.5 L279.6 1012.8 L280.6 1013 L281.6 1013.3 L282.6 1013.6 L283.6 1013.9 L284.6 1014.1 L285.6 1014.4 L286.6 1014.7 L287.6 1014.9 L288.6 1015.2 L289.6 1015.4 L290.6 1015.6 L291.6 1015.9 L292.6 1016.1 L293.6 1016.3 L294.6 1016.5 L295.6 1016.7 L296.6 1016.9 L297.6 1017.1 L298.6 1017.2 L299.6 1017.4 L300.6 1017.5 L301.6 1017.7 L302.6 1017.8 L303.6 1017.9 L304.6 1018 L305.6 1018.1 L306.6 1018.2 L307.6 1018.3 L308.6 1018.4 L309.6 1018.5 L310.6 1018.6 L311.6 1018.7 L312.6 1018.7 L313.6 1018.8 L314.6 1018.8 L315.6 1018.9 L316.6 1018.9 L317.6 1019 L318.6 1019 L319.6 1019 L320.6 1019.1 L321.6 1019.1 L322.6 1019.1 L323.6 1019.1 L324.6 1019.2 L324.6 1025.3 L25.7 1025.3Z" fill="#ff60ff" fill-opacity="0.55"/>
<path d="M25.7 1019.3 L26.7 1019.3 L27.7 1019.3 L28.7 1019.3 L29.7 1019.3 L30.7 1019.3 L31.7 1019.3 L32.7 1019.3 L33.7 1019.3 L34.7 1019.3 L35.7 1019.3 L36.7 1019.3 L37.7 1019.3 L38.7 1019.3 L39.7 1019.3 L40.7 1019.3 L41.7 1019.3 L42.7 1019.3 L43.7 1019.3 L44.7 1019.3 L45.7 1019.3 L46.7 1019.3 L47.7 1019.3 L48.7 1019.3 L49.7 1019.3 L50.7 1019.3 L51.7 1019.3 L52.7 1019.3 L53.7 1019.3 L54.7 1019.3 L55.7 1019.3 L56.7 1019.3 L57.7 1019.3 L58.7 1019.3 L59.7 1019.3 L60.7 1019.3 L61.7 1019.3 L62.7 1019.3 L63.7 1019.3 L64.7 1019.3 L65.7 1019.3 L66.7 1019.3 L67.7 1019.3 L68.7 1019.3 L69.7 1019.3 L70.7 1019.3 L71.7 1019.3 L72.7 1019.3 L73.7 1019.3 L74.7 1019.3 L75.7 1019.3 L76.7 1019.3 L77.7 1019.3 L78.7 1019.3 L79.7 1019.3 L80.7 1019.3 L81.7 1019.3 L82.7 1019.3 L83.7 1019.3 L84.7 1019.3 L85.7 1019.3 L86.7 1019.3 L87.7 1019.3 L88.7 1019.3 L89.7 1019.3 L90.7 1019.3 L91.7 1019.3 L92.7 1019.3 L93.7 1019.3 L94.7 1019.3 L95.7 1019.3 L96.7 1019.3 L97.7 1019.3 L98.7 1019.3 L99.7 1019.3 L100.7 1019.3 L101.7 1019.3 L102.7 1019.3 L103.7 1019.3 L104.7 1019.3 L105.7 1019.3 L106.7 1019.3 L107.7 1019.3 L108.7 1019.3 L109.7 1019.3 L110.7 1019.3 L111.7 1019.3 L112.7 1019.3 L113.7 1019.3 L114.7 1019.3 L115.7 1019.3 L116.7 1019.3 L117.7 1019.3 L118.7 1019.3 L119.7 1019.3 L120.7 1019.3 L121.7 1019.3 L122.7 1019.3 L123.7 1019.3 L124.7 1019.3 L125.7 1019.3 L126.7 1019.3 L127.7 1019.3 L128.7 1019.3 L129.7 1019.3 L130.7 1019.3 L131.7 1019.3 L132.7 1019.3 L133.7 1019.3 L134.7 1019.3 L135.7 1019.3 L136.7 1019.3 L137.7 1019.3 L138.7 1019.3 L139.7 1019.3 L140.7 1019.3 L141.7 1019.3 L142.7 1019.3 L143.7 1019.3 L144.7 1019.3 L145.7 1019.3 L146.7 1019.3 L147.7 1019.3 L148.7 1019.3 L149.7 1019.3 L150.7 1019.3 L151.7 1019.3 L152.7 1019.3 L153.7 1019.3 L154.7 1019.3 L155.7 1019.3 L156.7 1019.3 L157.7 1019.3 L158.7 1019.3 L159.7 1019.3 L160.7 1019.3 L161.7 1019.3 L162.7 1019.3 L163.7 1019.3 L164.7 1019.3 L165.7 1019.3 L166.7 1019.3 L167.7 1019.3 L168.7 1019.3 L169.7 1019.3 L170.7 1019.3 L171.7 1019.3 L172.7 1019.3 L173.7 1019.3 L174.7 1019.3 L175.6 1019.3 L176.6 1019.3 L177.6 1019.3 L178.6 1019.3 L179.6 1019.3 L180.6 1019.3 L181.6 1019.3 L182.6 1019.2 L183.6 1019.2 L184.6 1019.2 L185.6 1019.2 L186.6 1019.2 L187.6 1019.2 L188.6 1019.2 L189.6 1019.2 L190.6 1019.1 L191.6 1019.1 L192.6 1019.1 L193.6 1019.1 L194.6 1019 L195.6 1019 L196.6 1019 L197.6 1018.9 L198.6 1018.9 L199.6 1018.8 L200.6 1018.8 L201.6 1018.7 L202.6 1018.7 L203.6 1018.6 L204.6 1018.5 L205.6 1018.4 L206.6 1018.3 L207.6 1018.3 L208.6 1018.2 L209.6 1018 L210.6 1017.9 L211.6 1017.8 L212.6 1017.7 L213.6 1017.5 L214.6 1017.4 L215.6 1017.2 L216.6 1017.1 L217.6 1016.9 L218.6 1016.7 L219.6 1016.5 L220.6 1016.3 L221.6 1016.1 L222.6 1015.9 L223.6 1015.6 L224.6 1015.4 L225.6 1015.2 L226.6 1014.9 L227.6 1014.7 L228.6 1014.4 L229.6 1014.1 L230.6 1013.9 L231.6 1013.6 L232.6 1013.3 L233.6 1013.1 L234.6 1012.8 L235.6 1012.5 L236.6 1012.2 L237.6 1012 L238.6 1011.7 L239.6 1011.4 L240.6 1011.2 L241.6 1010.9 L242.6 1010.7 L243.6 1010.5 L244.6 1010.2 L245.6 1010 L246.6 1009.8 L247.6 1009.7 L248.6 1009.5 L249.6 1009.3 L250.6 1009.2 L251.6 1009.1 L252.6 1009 L253.6 1008.9 L254.6 1008.9 L255.6 1008.8 L256.6 1008.8 L257.6 1008.8 L258.6 1008.8 L259.6 1008.9 L260.6 1008.9 L261.6 1009 L262.6 1009.1 L263.6 1009.2 L264.6 1009.3 L265.6 1009.5 L266.6 1009.7 L267.6 1009.8 L268.6 1010 L269.6 1010.2 L270.6 1010.5 L271.6 1010.7 L272.6 1010.9 L273.6 1011.2 L274.6 1011.4 L275.6 1011.7 L276.6 1012 L277.6 1012.2 L278.6 1012.5 L279.6 1012.8 L280.6 1013 L281.6 1013.3 L282.6 1013.6 L283.6 1013.9 L284.6 1014.1 L285.6 1014.4 L286.6 1014.7 L287.6 1014.9 L288.6 1015.2 L289.6 1015.4 L290.6 1015.6 L291.6 1015.9 L292.6 1016.1 L293.6 1016.3 L294.6 1016.5 L295.6 1016.7 L296.6 1016.9 L297.6 1017.1 L298.6 1017.2 L299.6 1017.4 L300.6 1017.5 L301.6 1017.7 L302.6 1017.8 L303.6 1017.9 L304.6 1018 L305.6 1018.1 L306.6 1018.2 L307.6 1018.3 L308.6 1018.4 L309.6 1018.5 L310.6 1018.6 L311.6 1018.7 L312.6 1018.7 L313.6 1018.8 L314.6 1018.8 L315.6 1018.9 L316.6 1018.9 L317.6 1019 L318.6 1019 L319.6 1019 L320.6 1019.1 L321.6 1019.1 L322.6 1019.1 L323.6 1019.1 L324.6 1019.2" fill="none" stroke="#c030c8" stroke-width="1.1" stroke-dasharray="1.5 1"/>
<path d="M243.6 1010.5 L244.6 1010.2 L245.6 1010 L246.6 1009.8 L247.6 1009.7 L248.6 1009.5 L249.6 1009.3 L250.6 1009.2 L251.6 1009.1 L252.6 1009 L253.6 1008.9 L254.6 1008.9 L255.6 1008.8 L256.6 1008.8 L257.6 1008.8 L258.6 1008.8 L259.6 1008.9 L260.6 1008.9 L261.6 1009 L262.6 1009.1 L263.6 1009.2 L264.6 1009.3 L265.6 1009.5 L266.6 1009.7 L267.6 1009.8 L268.6 1010 L269.6 1010.2 L270.6 1010.5 L271.6 1010.7 L272.6 1010.9 L273.6 1011.2 L274.6 1011.4 L275.6 1011.7 L276.6 1012 L277.6 1012.2 L278.6 1012.5 L279.6 1012.8 L280.6 1013 L281.6 1013.3 L282.6 1013.6 L283.6 1013.9 L284.6 1014.1 L285.6 1014.4 L286.6 1014.7 L287.6 1014.9 L288.6 1015.2 L289.6 1015.4 L290.6 1015.6 L291.6 1015.9 L292.6 1016.1 L293.6 1016.3 L294.6 1016.5 L295.6 1016.7 L296.6 1016.9 L297.6 1017.1 L298.6 1017.2 L299.6 1017.4 L300.6 1017.5 L301.6 1017.7 L302.6 1017.8 L303.6 1017.9 L304.6 1018 L305.6 1018.1 L306.6 1018.2 L307.6 1018.3 L308.6 1018.4 L309.6 1018.5 L310.6 1018.6 L311.6 1018.7 L312.6 1018.7 L313.6 1018.8 L314.6 1018.8 L315.6 1018.9 L316.6 1018.9 L317.6 1019 L318.6 1019 L319.6 1019 L320.6 1019.1 L321.6 1019.1 L322.6 1019.1 L323.6 1019.1 L324.6 1019.2" fill="none" stroke="#ff20ff" stroke-width="1.3"/>
<path d="M25.7 1018.2 L26.7 1018.1 L27.7 1018.1 L28.7 1018 L29.7 1017.9 L30.7 1017.8 L31.7 1017.7 L32.7 1017.6 L33.7 1017.5 L34.7 1017.3 L35.7 1017.2 L36.7 1017.1 L37.7 1016.9 L38.7 1016.8 L39.7 1016.6 L40.7 1016.4 L41.7 1016.3 L42.7 1016.1 L43.7 1015.9 L44.7 1015.7 L45.7 1015.5 L46.7 1015.2 L47.7 1015 L48.7 1014.7 L49.7 1014.5 L50.7 1014.2 L51.7 1013.9 L52.7 1013.6 L53.7 1013.3 L54.7 1013 L55.7 1012.7 L56.7 1012.3 L57.7 1011.9 L58.7 1011.5 L59.7 1011.1 L60.7 1010.7 L61.7 1010.3 L62.7 1009.8 L63.7 1009.4 L64.7 1008.9 L65.7 1008.4 L66.7 1007.9 L67.7 1007.3 L68.7 1006.8 L69.7 1006.2 L70.7 1005.6 L71.7 1005 L72.7 1004.4 L73.7 1003.7 L74.7 1003 L75.7 1002.3 L76.7 1001.6 L77.7 1000.9 L78.7 1000.1 L79.7 999.4 L80.7 998.6 L81.7 997.8 L82.7 996.9 L83.7 996.1 L84.7 995.2 L85.7 994.3 L86.7 993.4 L87.7 992.5 L88.7 991.6 L89.7 990.6 L90.7 989.6 L91.7 988.6 L92.7 987.6 L93.7 986.6 L94.7 985.5 L95.7 984.5 L96.7 983.4 L97.7 982.3 L98.7 981.2 L99.7 980.1 L100.7 979 L101.7 977.9 L102.7 976.7 L103.7 975.6 L104.7 974.4 L105.7 973.3 L106.7 972.1 L107.7 971 L108.7 969.8 L109.7 968.6 L110.7 967.5 L111.7 966.3 L112.7 965.2 L113.7 964 L114.7 962.9 L115.7 961.7 L116.7 960.6 L117.7 959.5 L118.7 958.3 L119.7 957.3 L120.7 956.2 L121.7 955.1 L122.7 954.1 L123.7 953 L124.7 952 L125.7 951 L126.7 950.1 L127.7 949.1 L128.7 948.2 L129.7 947.3 L130.7 946.5 L131.7 945.6 L132.7 944.8 L133.7 944.1 L134.7 943.3 L135.7 942.6 L136.7 942 L137.7 941.3 L138.7 940.7 L139.7 940.2 L140.7 939.7 L141.7 939.2 L142.7 938.8 L143.7 938.4 L144.7 938 L145.7 937.7 L146.7 937.5 L147.7 937.2 L148.7 937.1 L149.7 936.9 L150.7 936.8 L151.7 936.8 L152.7 936.8 L153.7 936.9 L154.7 936.9 L155.7 937.1 L156.7 937.3 L157.7 937.5 L158.7 937.8 L159.7 938.1 L160.7 938.4 L161.7 938.8 L162.7 939.3 L163.7 939.7 L164.7 940.3 L165.7 940.8 L166.7 941.4 L167.7 942 L168.7 942.7 L169.7 943.4 L170.7 944.2 L171.7 944.9 L172.7 945.7 L173.7 946.6 L174.7 947.4 L175.6 948.3 L176.6 949.2 L177.6 950.2 L178.6 951.2 L179.6 952.1 L180.6 953.2 L181.6 954.2 L182.6 955.2 L183.6 956.3 L184.6 957.4 L185.6 958.5 L186.6 959.6 L187.6 960.7 L188.6 961.9 L189.6 963 L190.6 964.2 L191.6 965.3 L192.6 966.5 L193.6 967.6 L194.6 968.8 L195.6 970 L196.6 971.1 L197.6 972.3 L198.6 973.4 L199.6 974.6 L200.6 975.7 L201.6 976.9 L202.6 978 L203.6 979.1 L204.6 980.3 L205.6 981.4 L206.6 982.5 L207.6 983.5 L208.6 984.6 L209.6 985.7 L210.6 986.7 L211.6 987.7 L212.6 988.7 L213.6 989.7 L214.6 990.7 L215.6 991.7 L216.6 992.6 L217.6 993.5 L218.6 994.4 L219.6 995.3 L220.6 996.2 L221.6 997 L222.6 997.9 L223.6 998.7 L224.6 999.5 L225.6 1000.2 L226.6 1001 L227.6 1001.7 L228.6 1002.4 L229.6 1003.1 L230.6 1003.8 L231.6 1004.4 L232.6 1005.1 L233.6 1005.7 L234.6 1006.3 L235.6 1006.8 L236.6 1007.4 L237.6 1007.9 L238.6 1008.5 L239.6 1009 L240.6 1009.4 L241.6 1009.9 L242.6 1010.3 L243.6 1010.8 L244.6 1011.2 L245.6 1011.6 L246.6 1012 L247.6 1012.3 L248.6 1012.7 L249.6 1013 L250.6 1013.4 L251.6 1013.7 L252.6 1014 L253.6 1014.2 L254.6 1014.5 L255.6 1014.8 L256.6 1015 L257.6 1015.3 L258.6 1015.5 L259.6 1015.7 L260.6 1015.9 L261.6 1016.1 L262.6 1016.3 L263.6 1016.5 L264.6 1016.6 L265.6 1016.8 L266.6 1016.9 L267.6 1017.1 L268.6 1017.2 L269.6 1017.3 L270.6 1017.5 L271.6 1017.6 L272.6 1017.7 L273.6 1017.8 L274.6 1017.9 L275.6 1018 L276.6 1018.1 L277.6 1018.1 L278.6 1018.2 L279.6 1018.3 L280.6 1018.4 L281.6 1018.4 L282.6 1018.5 L283.6 1018.5 L284.6 1018.6 L285.6 1018.6 L286.6 1018.7 L287.6 1018.7 L288.6 1018.8 L289.6 1018.8 L290.6 1018.8 L291.6 1018.9 L292.6 1018.9 L293.6 1018.9 L294.6 1019 L295.6 1019 L296.6 1019 L297.6 1019 L298.6 1019.1 L299.6 1019.1 L300.6 1019.1 L301.6 1019.1 L302.6 1019.1 L303.6 1019.1 L304.6 1019.1 L305.6 1019.2 L306.6 1019.2 L307.6 1019.2 L308.6 1019.2 L309.6 1019.2 L310.6 1019.2 L311.6 1019.2 L312.6 1019.2 L313.6 1019.2 L314.6 1019.2 L315.6 1019.2 L316.6 1019.2 L317.6 1019.3 L318.6 1019.3 L319.6 1019.3 L320.6 1019.3 L321.6 1019.3 L322.6 1019.3 L323.6 1019.3 L324.6 1019.3 L324.6 1025.3 L25.7 1025.3Z" fill="#50f050" fill-opacity="0.45"/>
<path d="M25.7 1019.3 L26.7 1019.3 L27.7 1019.3 L28.7 1019.3 L29.7 1019.3 L30.7 1019.3 L31.7 1019.3 L32.7 1019.3 L33.7 1019.3 L34.7 1019.3 L35.7 1019.3 L36.7 1019.3 L37.7 1019.3 L38.7 1019.3 L39.7 1019.3 L40.7 1019.3 L41.7 1019.3 L42.7 1019.3 L43.7 1019.3 L44.7 1019.3 L45.7 1019.3 L46.7 1019.3 L47.7 1019.3 L48.7 1019.3 L49.7 1019.3 L50.7 1019.3 L51.7 1019.3 L52.7 1019.3 L53.7 1019.3 L54.7 1019.3 L55.7 1019.3 L56.7 1019.3 L57.7 1019.3 L58.7 1019.3 L59.7 1019.3 L60.7 1019.3 L61.7 1019.3 L62.7 1019.3 L63.7 1019.3 L64.7 1019.3 L65.7 1019.3 L66.7 1019.3 L67.7 1019.3 L68.7 1019.3 L69.7 1019.3 L70.7 1019.3 L71.7 1019.3 L72.7 1019.3 L73.7 1019.3 L74.7 1019.3 L75.7 1019.3 L76.7 1019.3 L77.7 1019.3 L78.7 1019.3 L79.7 1019.3 L80.7 1019.3 L81.7 1019.3 L82.7 1019.3 L83.7 1019.2 L84.7 1019.2 L85.7 1019.2 L86.7 1019.2 L87.7 1019.2 L88.7 1019.2 L89.7 1019.1 L90.7 1019.1 L91.7 1019.1 L92.7 1019 L93.7 1019 L94.7 1018.9 L95.7 1018.9 L96.7 1018.8 L97.7 1018.7 L98.7 1018.6 L99.7 1018.5 L100.7 1018.4 L101.7 1018.2 L102.7 1018.1 L103.7 1017.9 L104.7 1017.6 L105.7 1017.4 L106.7 1017.1 L107.7 1016.8 L108.7 1016.5 L109.7 1016.1 L110.7 1015.7 L111.7 1015.2 L112.7 1014.7 L113.7 1014.1 L114.7 1013.4 L115.7 1012.7 L116.7 1011.9 L117.7 1011.1 L118.7 1010.1 L119.7 1009.1 L120.7 1008 L121.7 1006.8 L122.7 1005.5 L123.7 1004.1 L124.7 1002.6 L125.7 1001 L126.7 999.2 L127.7 997.4 L128.7 995.4 L129.7 993.4 L130.7 991.2 L131.7 988.9 L132.7 986.5 L133.7 984 L134.7 981.3 L135.7 978.6 L136.7 975.7 L137.7 972.8 L138.7 969.8 L139.7 966.7 L140.7 963.5 L141.7 960.3 L142.7 957 L143.7 953.7 L144.7 950.4 L145.7 947 L146.7 943.7 L147.7 940.4 L148.7 937.2 L149.7 936.9 L150.7 936.8 L151.7 936.8 L152.7 936.8 L153.7 936.9 L154.7 936.9 L155.7 937.1 L156.7 937.3 L157.7 937.5 L158.7 937.8 L159.7 938.1 L160.7 938.4 L161.7 938.8 L162.7 939.3 L163.7 939.7 L164.7 940.3 L165.7 940.8 L166.7 941.4 L167.7 942 L168.7 942.7 L169.7 943.4 L170.7 944.2 L171.7 944.9 L172.7 945.7 L173.7 946.6 L174.7 947.4 L175.6 948.3 L176.6 949.2 L177.6 950.2 L178.6 951.2 L179.6 952.1 L180.6 953.2 L181.6 954.2 L182.6 955.2 L183.6 956.3 L184.6 957.4 L185.6 958.5 L186.6 959.6 L187.6 960.7 L188.6 961.9 L189.6 963 L190.6 964.2 L191.6 965.3 L192.6 966.5 L193.6 969.6 L194.6 972.6 L195.6 975.6 L196.6 978.4 L197.6 981.2 L198.6 983.8 L199.6 986.3 L200.6 988.8 L201.6 991.1 L202.6 993.3 L203.6 995.3 L204.6 997.3 L205.6 999.1 L206.6 1000.9 L207.6 1002.5 L208.6 1004 L209.6 1005.4 L210.6 1006.7 L211.6 1007.9 L212.6 1009 L213.6 1010.1 L214.6 1011 L215.6 1011.9 L216.6 1012.7 L217.6 1013.4 L218.6 1014 L219.6 1014.6 L220.6 1015.2 L221.6 1015.6 L222.6 1016.1 L223.6 1016.5 L224.6 1016.8 L225.6 1017.1 L226.6 1017.4 L227.6 1017.6 L228.6 1017.9 L229.6 1018 L230.6 1018.2 L231.6 1018.4 L232.6 1018.5 L233.6 1018.6 L234.6 1018.7 L235.6 1018.8 L236.6 1018.9 L237.6 1018.9 L238.6 1019 L239.6 1019 L240.6 1019.1 L241.6 1019.1 L242.6 1019.1 L243.6 1019.2 L244.6 1019.2 L245.6 1019.2 L246.6 1019.2 L247.6 1019.2 L248.6 1019.2 L249.6 1019.3 L250.6 1019.3 L251.6 1019.3 L252.6 1019.3 L253.6 1019.3 L254.6 1019.3 L255.6 1019.3 L256.6 1019.3 L257.6 1019.3 L258.6 1019.3 L259.6 1019.3 L260.6 1019.3 L261.6 1019.3 L262.6 1019.3 L263.6 1019.3 L264.6 1019.3 L265.6 1019.3 L266.6 1019.3 L267.6 1019.3 L268.6 1019.3 L269.6 1019.3 L270.6 1019.3 L271.6 1019.3 L272.6 1019.3 L273.6 1019.3 L274.6 1019.3 L275.6 1019.3 L276.6 1019.3 L277.6 1019.3 L278.6 1019.3 L279.6 1019.3 L280.6 1019.3 L281.6 1019.3 L282.6 1019.3 L283.6 1019.3 L284.6 1019.3 L285.6 1019.3 L286.6 1019.3 L287.6 1019.3 L288.6 1019.3 L289.6 1019.3 L290.6 1019.3 L291.6 1019.3 L292.6 1019.3 L293.6 1019.3 L294.6 1019.3 L295.6 1019.3 L296.6 1019.3 L297.6 1019.3 L298.6 1019.3 L299.6 1019.3 L300.6 1019.3 L301.6 1019.3 L302.6 1019.3 L303.6 1019.3 L304.6 1019.3 L305.6 1019.3 L306.6 1019.3 L307.6 1019.3 L308.6 1019.3 L309.6 1019.3 L310.6 1019.3 L311.6 1019.3 L312.6 1019.3 L313.6 1019.3 L314.6 1019.3 L315.6 1019.3 L316.6 1019.3 L317.6 1019.3 L318.6 1019.3 L319.6 1019.3 L320.6 1019.3 L321.6 1019.3 L322.6 1019.3 L323.6 1019.3 L324.6 1019.3 L324.6 1025.3 L25.7 1025.3Z" fill="#a06a00" fill-opacity="0.13"/>
<path d="M25.7 1018.2 L26.7 1018.1 L27.7 1018.1 L28.7 1018 L29.7 1017.9 L30.7 1017.8 L31.7 1017.7 L32.7 1017.6 L33.7 1017.5 L34.7 1017.3 L35.7 1017.2 L36.7 1017.1 L37.7 1016.9 L38.7 1016.8 L39.7 1016.6 L40.7 1016.4 L41.7 1016.3 L42.7 1016.1 L43.7 1015.9 L44.7 1015.7 L45.7 1015.5 L46.7 1015.2 L47.7 1015 L48.7 1014.7 L49.7 1014.5 L50.7 1014.2 L51.7 1013.9 L52.7 1013.6 L53.7 1013.3 L54.7 1013 L55.7 1012.7 L56.7 1012.3 L57.7 1011.9 L58.7 1011.5 L59.7 1011.1 L60.7 1010.7 L61.7 1010.3 L62.7 1009.8 L63.7 1009.4 L64.7 1008.9 L65.7 1008.4 L66.7 1007.9 L67.7 1007.3 L68.7 1006.8 L69.7 1006.2 L70.7 1005.6 L71.7 1005 L72.7 1004.4 L73.7 1003.7 L74.7 1003 L75.7 1002.3 L76.7 1001.6 L77.7 1000.9 L78.7 1000.1 L79.7 999.4 L80.7 998.6 L81.7 997.8 L82.7 996.9 L83.7 996.1 L84.7 995.2 L85.7 994.3 L86.7 993.4 L87.7 992.5 L88.7 991.6 L89.7 990.6 L90.7 989.6 L91.7 988.6 L92.7 987.6 L93.7 986.6 L94.7 985.5 L95.7 984.5 L96.7 983.4 L97.7 982.3 L98.7 981.2 L99.7 980.1 L100.7 979 L101.7 977.9 L102.7 976.7 L103.7 975.6 L104.7 974.4 L105.7 973.3 L106.7 972.1 L107.7 971 L108.7 969.8 L109.7 968.6 L110.7 967.5 L111.7 966.3 L112.7 965.2 L113.7 964 L114.7 962.9 L115.7 961.7 L116.7 960.6 L117.7 959.5 L118.7 958.3 L119.7 957.3 L120.7 956.2 L121.7 955.1 L122.7 954.1 L123.7 953 L124.7 952 L125.7 951 L126.7 950.1 L127.7 949.1 L128.7 948.2 L129.7 947.3 L130.7 946.5 L131.7 945.6 L132.7 944.8 L133.7 944.1 L134.7 943.3 L135.7 942.6 L136.7 942 L137.7 941.3 L138.7 940.7 L139.7 940.2 L140.7 939.7 L141.7 939.2 L142.7 938.8 L143.7 938.4 L144.7 938 L145.7 937.7 L146.7 937.5 L147.7 937.2 L148.7 937.1 L149.7 936.9 L150.7 936.8 L151.7 936.8 L152.7 936.8 L153.7 936.9 L154.7 936.9 L155.7 937.1 L156.7 937.3 L157.7 937.5 L158.7 937.8 L159.7 938.1 L160.7 938.4 L161.7 938.8 L162.7 939.3 L163.7 939.7 L164.7 940.3 L165.7 940.8 L166.7 941.4 L167.7 942 L168.7 942.7 L169.7 943.4 L170.7 944.2 L171.7 944.9 L172.7 945.7 L173.7 946.6 L174.7 947.4 L175.6 948.3 L176.6 949.2 L177.6 950.2 L178.6 951.2 L179.6 952.1 L180.6 953.2 L181.6 954.2 L182.6 955.2 L183.6 956.3 L184.6 957.4 L185.6 958.5 L186.6 959.6 L187.6 960.7 L188.6 961.9 L189.6 963 L190.6 964.2 L191.6 965.3 L192.6 966.5 L193.6 967.6 L194.6 968.8 L195.6 970 L196.6 971.1 L197.6 972.3 L198.6 973.4 L199.6 974.6 L200.6 975.7 L201.6 976.9 L202.6 978 L203.6 979.1 L204.6 980.3 L205.6 981.4 L206.6 982.5 L207.6 983.5 L208.6 984.6 L209.6 985.7 L210.6 986.7 L211.6 987.7 L212.6 988.7 L213.6 989.7 L214.6 990.7 L215.6 991.7 L216.6 992.6 L217.6 993.5 L218.6 994.4 L219.6 995.3 L220.6 996.2 L221.6 997 L222.6 997.9 L223.6 998.7 L224.6 999.5 L225.6 1000.2 L226.6 1001 L227.6 1001.7 L228.6 1002.4 L229.6 1003.1 L230.6 1003.8 L231.6 1004.4 L232.6 1005.1 L233.6 1005.7 L234.6 1006.3 L235.6 1006.8 L236.6 1007.4 L237.6 1007.9 L238.6 1008.5 L239.6 1009 L240.6 1009.4 L241.6 1009.9 L242.6 1010.3 L243.6 1010.8 L244.6 1011.2 L245.6 1011.6 L246.6 1012 L247.6 1012.3 L248.6 1012.7 L249.6 1013 L250.6 1013.4 L251.6 1013.7 L252.6 1014 L253.6 1014.2 L254.6 1014.5 L255.6 1014.8 L256.6 1015 L257.6 1015.3 L258.6 1015.5 L259.6 1015.7 L260.6 1015.9 L261.6 1016.1 L262.6 1016.3 L263.6 1016.5 L264.6 1016.6 L265.6 1016.8 L266.6 1016.9 L267.6 1017.1 L268.6 1017.2 L269.6 1017.3 L270.6 1017.5 L271.6 1017.6 L272.6 1017.7 L273.6 1017.8 L274.6 1017.9 L275.6 1018 L276.6 1018.1 L277.6 1018.1 L278.6 1018.2 L279.6 1018.3 L280.6 1018.4 L281.6 1018.4 L282.6 1018.5 L283.6 1018.5 L284.6 1018.6 L285.6 1018.6 L286.6 1018.7 L287.6 1018.7 L288.6 1018.8 L289.6 1018.8 L290.6 1018.8 L291.6 1018.9 L292.6 1018.9 L293.6 1018.9 L294.6 1019 L295.6 1019 L296.6 1019 L297.6 1019 L298.6 1019.1 L299.6 1019.1 L300.6 1019.1 L301.6 1019.1 L302.6 1019.1 L303.6 1019.1 L304.6 1019.1 L305.6 1019.2 L306.6 1019.2 L307.6 1019.2 L308.6 1019.2 L309.6 1019.2 L310.6 1019.2 L311.6 1019.2 L312.6 1019.2 L313.6 1019.2 L314.6 1019.2 L315.6 1019.2 L316.6 1019.2 L317.6 1019.3 L318.6 1019.3 L319.6 1019.3 L320.6 1019.3 L321.6 1019.3 L322.6 1019.3 L323.6 1019.3 L324.6 1019.3" fill="none" stroke="#10e010" stroke-width="1.5"/>
<path d="M25.7 1016.8 L26.7 1016.7 L27.7 1016.7 L28.7 1016.6 L29.7 1016.5 L30.7 1016.4 L31.7 1016.3 L32.7 1016.2 L33.7 1016.1 L34.7 1015.9 L35.7 1015.8 L36.7 1015.7 L37.7 1015.5 L38.7 1015.4 L39.7 1015.2 L40.7 1015 L41.7 1014.9 L42.7 1014.7 L43.7 1014.5 L44.7 1014.3 L45.7 1014.1 L46.7 1013.8 L47.7 1013.6 L48.7 1013.3 L49.7 1013.1 L50.7 1012.8 L51.7 1012.5 L52.7 1012.2 L53.7 1011.9 L54.7 1011.6 L55.7 1011.3 L56.7 1010.9 L57.7 1010.5 L58.7 1010.1 L59.7 1009.7 L60.7 1009.3 L61.7 1008.9 L62.7 1008.4 L63.7 1008 L64.7 1007.5 L65.7 1007 L66.7 1006.5 L67.7 1005.9 L68.7 1005.4 L69.7 1004.8 L70.7 1004.2 L71.7 1003.6 L72.7 1003 L73.7 1002.3 L74.7 1001.6 L75.7 1000.9 L76.7 1000.2 L77.7 999.5 L78.7 998.7 L79.7 997.9 L80.7 997.2 L81.7 996.3 L82.7 995.5 L83.7 994.6 L84.7 993.8 L85.7 992.9 L86.7 991.9 L87.7 991 L88.7 990 L89.7 989 L90.7 988 L91.7 987 L92.7 985.9 L93.7 984.9 L94.7 983.8 L95.7 982.6 L96.7 981.5 L97.7 980.3 L98.7 979.1 L99.7 977.9 L100.7 976.7 L101.7 975.4 L102.7 974.1 L103.7 972.8 L104.7 971.4 L105.7 970 L106.7 968.6 L107.7 967.1 L108.7 965.6 L109.7 964 L110.7 962.4 L111.7 960.8 L112.7 959.1 L113.7 957.4 L114.7 955.6 L115.7 953.7 L116.7 951.8 L117.7 949.8 L118.7 947.8 L119.7 945.7 L120.7 943.5 L121.7 941.2 L122.7 938.8 L123.7 936.4 L124.7 933.9 L125.7 931.3 L126.7 928.6 L127.7 925.8 L128.7 922.9 L129.7 920 L130.7 916.9 L131.7 913.8 L132.7 910.6 L133.7 907.3 L134.7 903.9 L135.7 900.5 L136.7 897 L137.7 893.4 L138.7 889.8 L139.7 886.2 L140.7 882.5 L141.7 878.8 L142.7 875.1 L143.7 871.4 L144.7 867.7 L145.7 864.1 L146.7 860.5 L147.7 857 L148.7 853.5 L149.7 850.2 L150.7 847 L151.7 843.9 L152.7 841 L153.7 838.2 L154.7 835.6 L155.7 833.3 L156.7 831.1 L157.7 829.2 L158.7 827.5 L159.7 826.1 L160.7 824.9 L161.7 824.1 L162.7 823.5 L163.7 823.2 L164.7 823.2 L165.7 823.4 L166.7 824 L167.7 824.9 L168.7 826.1 L169.7 827.6 L170.7 829.3 L171.7 831.3 L172.7 833.6 L173.7 836.2 L174.7 839 L175.6 842 L176.6 845.2 L177.6 848.7 L178.6 852.3 L179.6 856.1 L180.6 860 L181.6 864.1 L182.6 868.2 L183.6 872.5 L184.6 876.8 L185.6 881.2 L186.6 885.6 L187.6 890.1 L188.6 894.5 L189.6 899 L190.6 903.4 L191.6 907.7 L192.6 912 L193.6 916.3 L194.6 920.4 L195.6 924.5 L196.6 928.5 L197.6 932.4 L198.6 936.1 L199.6 939.8 L200.6 943.3 L201.6 946.7 L202.6 949.9 L203.6 953.1 L204.6 956.1 L205.6 958.9 L206.6 961.7 L207.6 964.3 L208.6 966.8 L209.6 969.1 L210.6 971.3 L211.6 973.5 L212.6 975.5 L213.6 977.3 L214.6 979.1 L215.6 980.8 L216.6 982.3 L217.6 983.8 L218.6 985.2 L219.6 986.5 L220.6 987.7 L221.6 988.8 L222.6 989.8 L223.6 990.8 L224.6 991.7 L225.6 992.5 L226.6 993.3 L227.6 994 L228.6 994.7 L229.6 995.3 L230.6 995.9 L231.6 996.4 L232.6 996.9 L233.6 997.3 L234.6 997.8 L235.6 998.1 L236.6 998.5 L237.6 998.8 L238.6 999.1 L239.6 999.4 L240.6 999.7 L241.6 999.9 L242.6 1000.2 L243.6 1000.4 L244.6 1000.6 L245.6 1000.8 L246.6 1001 L247.6 1001.2 L248.6 1001.4 L249.6 1001.6 L250.6 1001.8 L251.6 1002 L252.6 1002.2 L253.6 1002.4 L254.6 1002.7 L255.6 1002.9 L256.6 1003.1 L257.6 1003.4 L258.6 1003.6 L259.6 1003.9 L260.6 1004.1 L261.6 1004.4 L262.6 1004.7 L263.6 1005 L264.6 1005.3 L265.6 1005.6 L266.6 1005.9 L267.6 1006.2 L268.6 1006.5 L269.6 1006.9 L270.6 1007.2 L271.6 1007.6 L272.6 1007.9 L273.6 1008.3 L274.6 1008.6 L275.6 1009 L276.6 1009.3 L277.6 1009.7 L278.6 1010 L279.6 1010.4 L280.6 1010.7 L281.6 1011 L282.6 1011.4 L283.6 1011.7 L284.6 1012 L285.6 1012.3 L286.6 1012.7 L287.6 1012.9 L288.6 1013.2 L289.6 1013.5 L290.6 1013.8 L291.6 1014 L292.6 1014.3 L293.6 1014.5 L294.6 1014.8 L295.6 1015 L296.6 1015.2 L297.6 1015.4 L298.6 1015.6 L299.6 1015.7 L300.6 1015.9 L301.6 1016.1 L302.6 1016.2 L303.6 1016.4 L304.6 1016.5 L305.6 1016.6 L306.6 1016.7 L307.6 1016.8 L308.6 1016.9 L309.6 1017 L310.6 1017.1 L311.6 1017.2 L312.6 1017.2 L313.6 1017.3 L314.6 1017.4 L315.6 1017.4 L316.6 1017.5 L317.6 1017.5 L318.6 1017.6 L319.6 1017.6 L320.6 1017.6 L321.6 1017.7 L322.6 1017.7 L323.6 1017.7 L324.6 1017.7" fill="none" stroke="#111" stroke-width="3" stroke-opacity="0.8"/>
<path d="M25.7 1019.8 L26.1 1015.6 L26.6 1014 L27 1017.8 L27.4 1019.9 L27.8 1016.6 L28.3 1015.2 L28.7 1013.5 L29.1 1019.5 L29.5 1019.7 L30 1014.4 L30.4 1015 L30.8 1012.2 L31.3 1013.6 L31.7 1016.3 L32.1 1016.7 L32.5 1009.3 L33 1016.7 L33.4 1017.9 L33.8 1018.8 L34.3 1015.5 L34.7 1015.4 L35.1 1016.6 L35.5 1015.8 L36 1014.9 L36.4 1013.7 L36.8 1012.6 L37.2 1014.8 L37.7 1020 L38.1 1013.4 L38.5 1018.9 L39 1015.6 L39.4 1018.9 L39.8 1015 L40.2 1016.9 L40.7 1014.3 L41.1 1006.2 L41.5 1014.8 L41.9 1012.4 L42.4 1018 L42.8 1015.2 L43.2 1012.7 L43.7 1014.5 L44.1 1013.2 L44.5 1013.8 L44.9 1016.6 L45.4 1012.5 L45.8 1015.9 L46.2 1008.9 L46.7 1015 L47.1 1011.8 L47.5 1013.4 L47.9 1010.9 L48.4 1014.8 L48.8 1010.5 L49.2 1013.3 L49.6 1009.6 L50.1 1011.2 L50.5 1012.3 L50.9 1014.6 L51.4 1010.4 L51.8 1011.1 L52.2 1007.9 L52.6 1013 L53.1 1010.5 L53.5 1010.5 L53.9 1010.9 L54.3 1011 L54.8 1010.9 L55.2 1012.8 L55.6 1013.7 L56.1 1012 L56.5 1009.2 L56.9 1006.7 L57.3 1007.9 L57.8 1007.6 L58.2 1008.1 L58.6 1008.1 L59.1 1009.3 L59.5 1007.6 L59.9 1004.8 L60.3 1010.1 L60.8 1010.9 L61.2 1003.8 L61.6 1008.1 L62 1006 L62.5 1006.1 L62.9 1011.1 L63.3 1001.6 L63.8 1003.1 L64.2 1007.1 L64.6 1005.4 L65 1006.8 L65.5 1009.2 L65.9 1007 L66.3 1005.5 L66.8 1003.3 L67.2 1004.2 L67.6 1005.6 L68 1002 L68.5 1007.3 L68.9 1003 L69.3 1001.9 L69.7 1005.3 L70.2 1009 L70.6 1006.4 L71 1003.2 L71.5 1002.2 L71.9 999.2 L72.3 1005.6 L72.7 1002.7 L73.2 1000.8 L73.6 1002.6 L74 1008 L74.4 999.5 L74.9 995.3 L75.3 998.4 L75.7 1003.1 L76.2 1001.5 L76.6 999.5 L77 993.3 L77.4 997.9 L77.9 998.8 L78.3 994.8 L78.7 998.7 L79.2 993.3 L79.6 999.6 L80 998.7 L80.4 995.3 L80.9 993.1 L81.3 994.8 L81.7 995.3 L82.1 1000.5 L82.6 997.2 L83 996.6 L83.4 996 L83.9 992.8 L84.3 994.8 L84.7 991.5 L85.1 992.9 L85.6 993.6 L86 992.1 L86.4 990.9 L86.8 989.3 L87.3 992.4 L87.7 991.4 L88.1 993.9 L88.6 985.8 L89 985.7 L89.4 989.6 L89.8 989.9 L90.3 991.4 L90.7 987.4 L91.1 986.8 L91.6 981.2 L92 985.8 L92.4 988 L92.8 991.9 L93.3 981.4 L93.7 984.2 L94.1 988.4 L94.5 983.2 L95 987.4 L95.4 973.7 L95.8 979.4 L96.3 980.3 L96.7 981.7 L97.1 986.4 L97.5 980.6 L98 983.8 L98.4 977.7 L98.8 984.3 L99.2 980.6 L99.7 974.5 L100.1 972.9 L100.5 979.7 L101 980.1 L101.4 973.3 L101.8 972.8 L102.2 977 L102.7 975.7 L103.1 975.1 L103.5 975.8 L104 973.9 L104.4 968.3 L104.8 969.2 L105.2 965.1 L105.7 970 L106.1 969.5 L106.5 971.1 L106.9 968.3 L107.4 970.7 L107.8 971.3 L108.2 964.2 L108.7 961.7 L109.1 962.6 L109.5 960.6 L109.9 962.8 L110.4 964.6 L110.8 961.8 L111.2 962.3 L111.6 963.5 L112.1 964.3 L112.5 963 L112.9 958.5 L113.4 957.3 L113.8 958.2 L114.2 952.5 L114.6 955 L115.1 953.1 L115.5 950.7 L115.9 955.2 L116.4 957.3 L116.8 949.4 L117.2 952.3 L117.6 946.3 L118.1 947.9 L118.5 945.3 L118.9 945.1 L119.3 951.6 L119.8 943.4 L120.2 946 L120.6 945.3 L121.1 943.5 L121.5 939.4 L121.9 938.1 L122.3 936.8 L122.8 942.7 L123.2 938.9 L123.6 942.5 L124.1 935.5 L124.5 932.6 L124.9 935.1 L125.3 931.3 L125.8 930.2 L126.2 927.1 L126.6 930.7 L127 929.5 L127.5 928.1 L127.9 920.4 L128.3 920.9 L128.8 922.8 L129.2 920.6 L129.6 919.7 L130 918.1 L130.5 917.9 L130.9 916.9 L131.3 918 L131.7 915 L132.2 907.7 L132.6 909.2 L133 909 L133.5 908.3 L133.9 906.2 L134.3 904 L134.7 905.1 L135.2 901.5 L135.6 899.9 L136 901 L136.5 899.6 L136.9 898.6 L137.3 897.3 L137.7 890.7 L138.2 897.6 L138.6 890.6 L139 889.9 L139.4 888.4 L139.9 884.9 L140.3 880.7 L140.7 881.8 L141.2 880.8 L141.6 880.5 L142 877.6 L142.4 873.3 L142.9 875.1 L143.3 875.5 L143.7 874.2 L144.1 872.3 L144.6 871.4 L145 863.4 L145.4 863.8 L145.9 863.8 L146.3 857.8 L146.7 861.8 L147.1 856.6 L147.6 855 L148 859.6 L148.4 858.2 L148.9 855.1 L149.3 848.9 L149.7 846.5 L150.1 851.6 L150.6 844.3 L151 846.7 L151.4 845.4 L151.8 844.6 L152.3 842.7 L152.7 845.4 L153.1 842 L153.6 843.7 L154 835 L154.4 826.9 L154.8 823 L155.3 835.4 L155.7 840.6 L156.1 833.8 L156.5 835.3 L157 821.5 L157.4 826.9 L157.8 831.9 L158.3 823.8 L158.7 824.9 L159.1 833.8 L159.5 828.4 L160 826.6 L160.4 824.9 L160.8 824 L161.3 825.7 L161.7 823 L162.1 826.1 L162.5 827.3 L163 816.5 L163.4 821.4 L163.8 821 L164.2 829.9 L164.7 823.7 L165.1 819.4 L165.5 828.9 L166 818.6 L166.4 825.4 L166.8 822.2 L167.2 824.9 L167.7 823.8 L168.1 819.9 L168.5 827.5 L168.9 819.4 L169.4 830.4 L169.8 831.7 L170.2 825.2 L170.7 833.8 L171.1 831.6 L171.5 826.9 L171.9 826.5 L172.4 840.6 L172.8 831.6 L173.2 826.6 L173.7 830.7 L174.1 838.2 L174.5 841 L174.9 840.4 L175.4 843.9 L175.8 842.9 L176.2 844.1 L176.6 845.4 L177.1 843.4 L177.5 848.6 L177.9 853.3 L178.4 848.3 L178.8 855.4 L179.2 855.4 L179.6 856.2 L180.1 858.4 L180.5 861.8 L180.9 861.6 L181.4 857 L181.8 866 L182.2 866.5 L182.6 865.1 L183.1 867.9 L183.5 869.6 L183.9 871.2 L184.3 880.4 L184.8 879.4 L185.2 878.7 L185.6 879.6 L186.1 879.5 L186.5 883.5 L186.9 887.2 L187.3 888.4 L187.8 891 L188.2 891.7 L188.6 892.5 L189 897 L189.5 900.1 L189.9 902.1 L190.3 898.9 L190.8 900.3 L191.2 903 L191.6 905.2 L192 907.1 L192.5 911.1 L192.9 911.2 L193.3 917.5 L193.8 917.1 L194.2 920.2 L194.6 918.2 L195 923.3 L195.5 923.9 L195.9 924.3 L196.3 923.5 L196.7 930.7 L197.2 932.8 L197.6 929.9 L198 936.5 L198.5 934 L198.9 938.3 L199.3 938.6 L199.7 944.6 L200.2 939.6 L200.6 944.2 L201 946.7 L201.4 940.4 L201.9 945.4 L202.3 939.5 L202.7 949 L203.2 952.3 L203.6 952.4 L204 949.8 L204.4 955.3 L204.9 955.4 L205.3 956.4 L205.7 961.3 L206.2 959.8 L206.6 962.6 L207 965.7 L207.4 961.3 L207.9 962.9 L208.3 965.5 L208.7 969.1 L209.1 973 L209.6 967.5 L210 970 L210.4 975.1 L210.9 971.8 L211.3 976.5 L211.7 973.5 L212.1 973.9 L212.6 974.2 L213 975.4 L213.4 976.3 L213.8 980.5 L214.3 979.3 L214.7 980.3 L215.1 980.4 L215.6 979.7 L216 979.5 L216.4 977.5 L216.8 989.1 L217.3 982 L217.7 984.2 L218.1 978.4 L218.6 982.4 L219 989.7 L219.4 984.9 L219.8 987.9 L220.3 984.4 L220.7 990.3 L221.1 988.3 L221.5 988.8 L222 989.2 L222.4 990.9 L222.8 994.6 L223.3 989 L223.7 988 L224.1 991.2 L224.5 994.1 L225 991.3 L225.4 990.7 L225.8 992.9 L226.2 992.9 L226.7 989.5 L227.1 996.4 L227.5 995.2 L228 999 L228.4 996.2 L228.8 996.5 L229.2 997.4 L229.7 996.9 L230.1 990.7 L230.5 996.1 L231 996.1 L231.4 990.4 L231.8 996.5 L232.2 1001 L232.7 995.7 L233.1 999.3 L233.5 992.8 L233.9 1000.5 L234.4 999 L234.8 1001.8 L235.2 997.5 L235.7 1000.6 L236.1 998.3 L236.5 999.2 L236.9 1000 L237.4 996.1 L237.8 996.2 L238.2 998.6 L238.7 1001.3 L239.1 1001.8 L239.5 998.5 L239.9 993.1 L240.4 1000.6 L240.8 1001.6 L241.2 1001.4 L241.6 1002.6 L242.1 1002.4 L242.5 1000.5 L242.9 996.3 L243.4 1000.1 L243.8 1001.6 L244.2 1004.5 L244.6 999.9 L245.1 1000.6 L245.5 1003.8 L245.9 1003.5 L246.3 1000.9 L246.8 998.2 L247.2 999.3 L247.6 1000.5 L248.1 1002 L248.5 1000.4 L248.9 1001.3 L249.3 995.7 L249.8 1004.4 L250.2 1002.5 L250.6 998.3 L251.1 1002.4 L251.5 998.1 L251.9 1002 L252.3 1001.6 L252.8 1003 L253.2 1005.7 L253.6 1004.8 L254 996.6 L254.5 1000.8 L254.9 1001 L255.3 1000.1 L255.8 1001.2 L256.2 1000.2 L256.6 1003.6 L257 1003.6 L257.5 1000.6 L257.9 1004.1 L258.3 1006.8 L258.7 1004 L259.2 1005 L259.6 1002.1 L260 1005.6 L260.5 1006.6 L260.9 1004.9 L261.3 1000.1 L261.7 1004.4 L262.2 1003.9 L262.6 1004.4 L263 1003.8 L263.5 1002.3 L263.9 1001.2 L264.3 1009.2 L264.7 1001.6 L265.2 1005.2 L265.6 1006.2 L266 999.3 L266.4 1006.1 L266.9 1000.7 L267.3 1003.4 L267.7 1008.7 L268.2 1004.9 L268.6 1004.4 L269 1006.8 L269.4 1012.7 L269.9 1007.7 L270.3 1007.4 L270.7 1009.9 L271.1 1002.5 L271.6 1008 L272 1008.5 L272.4 1008.4 L272.9 1009.8 L273.3 1010 L273.7 1007.8 L274.1 1007.4 L274.6 1009.7 L275 1008.8 L275.4 1012.3 L275.9 1007.5 L276.3 1010.9 L276.7 1008.6 L277.1 1011.7 L277.6 1010.8 L278 1009 L278.4 1012.9 L278.8 1003.5 L279.3 1010.1 L279.7 1010.4 L280.1 1012.3 L280.6 1006.3 L281 1007 L281.4 1010 L281.8 1014.5 L282.3 1012.4 L282.7 1009.6 L283.1 1012.7 L283.5 1014.6 L284 1014.7 L284.4 1013.8 L284.8 1011.9 L285.3 1013.7 L285.7 1012.1 L286.1 1005 L286.5 1007.8 L287 1015.3 L287.4 1011.8 L287.8 1012.6 L288.3 1013.3 L288.7 1010.3 L289.1 1014 L289.5 1014.1 L290 1014.4 L290.4 1013.8 L290.8 1010.3 L291.2 1011.7 L291.7 1017.3 L292.1 1015.1 L292.5 1016.1 L293 1012.1 L293.4 1013.7 L293.8 1012.1 L294.2 1014.6 L294.7 1019.5 L295.1 1013.5 L295.5 1014.2 L296 1013.5 L296.4 1018.3 L296.8 1014.8 L297.2 1016.9 L297.7 1017 L298.1 1014.4 L298.5 1014.4 L298.9 1017.8 L299.4 1020 L299.8 1022 L300.2 1017.1 L300.7 1012.8 L301.1 1015.9 L301.5 1021.7 L301.9 1018.2 L302.4 1014.9 L302.8 1011.7 L303.2 1013.1 L303.6 1015.2 L304.1 1015.7 L304.5 1019 L304.9 1017.5 L305.4 1017.2 L305.8 1018.4 L306.2 1016.3 L306.6 1017.5 L307.1 1015.7 L307.5 1012.9 L307.9 1014.7 L308.4 1015.6 L308.8 1017.4 L309.2 1020.7 L309.6 1017.1 L310.1 1015.4 L310.5 1019.5 L310.9 1013.7 L311.3 1017.8 L311.8 1016 L312.2 1017.9 L312.6 1020.3 L313.1 1011.7 L313.5 1020.1 L313.9 1014.7 L314.3 1018.6 L314.8 1016.4 L315.2 1019.3 L315.6 1018.3 L316 1014.8 L316.5 1012.2 L316.9 1019.5 L317.3 1017.3 L317.8 1014.9 L318.2 1019 L318.6 1015.5 L319 1019.4 L319.5 1015.8 L319.9 1016.3 L320.3 1014.3 L320.8 1016.5 L321.2 1020.5 L321.6 1015.7 L322 1020.3 L322.5 1015.5 L322.9 1013.6 L323.3 1016 L323.7 1018.9 L324.2 1014.4 L324.6 1017.1" fill="none" stroke="#111" stroke-width="1.0" stroke-linejoin="bevel"/>
<path d="M25.7 1017.2 L26.7 1017.1 L27.7 1017.1 L28.7 1017 L29.7 1016.9 L30.7 1016.8 L31.7 1016.7 L32.7 1016.6 L33.7 1016.5 L34.7 1016.3 L35.7 1016.2 L36.7 1016.1 L37.7 1015.9 L38.7 1015.8 L39.7 1015.6 L40.7 1015.4 L41.7 1015.3 L42.7 1015.1 L43.7 1014.9 L44.7 1014.7 L45.7 1014.5 L46.7 1014.2 L47.7 1014 L48.7 1013.7 L49.7 1013.5 L50.7 1013.2 L51.7 1012.9 L52.7 1012.6 L53.7 1012.3 L54.7 1012 L55.7 1011.7 L56.7 1011.3 L57.7 1010.9 L58.7 1010.5 L59.7 1010.1 L60.7 1009.7 L61.7 1009.3 L62.7 1008.8 L63.7 1008.4 L64.7 1007.9 L65.7 1007.4 L66.7 1006.9 L67.7 1006.3 L68.7 1005.8 L69.7 1005.2 L70.7 1004.6 L71.7 1004 L72.7 1003.4 L73.7 1002.7 L74.7 1002 L75.7 1001.3 L76.7 1000.6 L77.7 999.9 L78.7 999.1 L79.7 998.3 L80.7 997.6 L81.7 996.7 L82.7 995.9 L83.7 995 L84.7 994.2 L85.7 993.3 L86.7 992.3 L87.7 991.4 L88.7 990.4 L89.7 989.4 L90.7 988.4 L91.7 987.4 L92.7 986.3 L93.7 985.3 L94.7 984.2 L95.7 983 L96.7 981.9 L97.7 980.7 L98.7 979.5 L99.7 978.3 L100.7 977.1 L101.7 975.8 L102.7 974.5 L103.7 973.2 L104.7 971.8 L105.7 970.4 L106.7 969 L107.7 967.5 L108.7 966 L109.7 964.4 L110.7 962.8 L111.7 961.2 L112.7 959.5 L113.7 957.8 L114.7 956 L115.7 954.1 L116.7 952.2 L117.7 950.2 L118.7 948.2 L119.7 946.1 L120.7 943.9 L121.7 941.6 L122.7 939.2 L123.7 936.8 L124.7 934.3 L125.7 931.7 L126.7 929 L127.7 926.2 L128.7 923.3 L129.7 920.4 L130.7 917.3 L131.7 914.2 L132.7 911 L133.7 907.7 L134.7 904.3 L135.7 900.9 L136.7 897.4 L137.7 893.8 L138.7 890.2 L139.7 886.6 L140.7 882.9 L141.7 879.2 L142.7 875.5 L143.7 871.8 L144.7 868.1 L145.7 864.5 L146.7 860.9 L147.7 857.4 L148.7 853.9 L149.7 850.6 L150.7 847.4 L151.7 844.3 L152.7 841.4 L153.7 838.6 L154.7 836 L155.7 833.7 L156.7 831.5 L157.7 829.6 L158.7 827.9 L159.7 826.5 L160.7 825.3 L161.7 824.5 L162.7 823.9 L163.7 823.6 L164.7 823.6 L165.7 823.8 L166.7 824.4 L167.7 825.3 L168.7 826.5 L169.7 828 L170.7 829.7 L171.7 831.7 L172.7 834 L173.7 836.6 L174.7 839.4 L175.6 842.4 L176.6 845.6 L177.6 849.1 L178.6 852.7 L179.6 856.5 L180.6 860.4 L181.6 864.5 L182.6 868.6 L183.6 872.9 L184.6 877.2 L185.6 881.6 L186.6 886 L187.6 890.5 L188.6 894.9 L189.6 899.4 L190.6 903.8 L191.6 908.1 L192.6 912.4 L193.6 916.7 L194.6 920.8 L195.6 924.9 L196.6 928.9 L197.6 932.8 L198.6 936.5 L199.6 940.2 L200.6 943.7 L201.6 947.1 L202.6 950.3 L203.6 953.5 L204.6 956.5 L205.6 959.3 L206.6 962.1 L207.6 964.7 L208.6 967.2 L209.6 969.5 L210.6 971.7 L211.6 973.9 L212.6 975.9 L213.6 977.7 L214.6 979.5 L215.6 981.2 L216.6 982.7 L217.6 984.2 L218.6 985.6 L219.6 986.9 L220.6 988.1 L221.6 989.2 L222.6 990.2 L223.6 991.2 L224.6 992.1 L225.6 992.9 L226.6 993.7 L227.6 994.4 L228.6 995.1 L229.6 995.7 L230.6 996.3 L231.6 996.8 L232.6 997.3 L233.6 997.7 L234.6 998.2 L235.6 998.5 L236.6 998.9 L237.6 999.2 L238.6 999.5 L239.6 999.8 L240.6 1000.1 L241.6 1000.3 L242.6 1000.6 L243.6 1000.8 L244.6 1001 L245.6 1001.2 L246.6 1001.4 L247.6 1001.6 L248.6 1001.8 L249.6 1002 L250.6 1002.2 L251.6 1002.4 L252.6 1002.6 L253.6 1002.8 L254.6 1003.1 L255.6 1003.3 L256.6 1003.5 L257.6 1003.8 L258.6 1004 L259.6 1004.3 L260.6 1004.5 L261.6 1004.8 L262.6 1005.1 L263.6 1005.4 L264.6 1005.7 L265.6 1006 L266.6 1006.3 L267.6 1006.6 L268.6 1006.9 L269.6 1007.3 L270.6 1007.6 L271.6 1008 L272.6 1008.3 L273.6 1008.7 L274.6 1009 L275.6 1009.4 L276.6 1009.7 L277.6 1010.1 L278.6 1010.4 L279.6 1010.8 L280.6 1011.1 L281.6 1011.4 L282.6 1011.8 L283.6 1012.1 L284.6 1012.4 L285.6 1012.7 L286.6 1013.1 L287.6 1013.3 L288.6 1013.6 L289.6 1013.9 L290.6 1014.2 L291.6 1014.4 L292.6 1014.7 L293.6 1014.9 L294.6 1015.2 L295.6 1015.4 L296.6 1015.6 L297.6 1015.8 L298.6 1016 L299.6 1016.1 L300.6 1016.3 L301.6 1016.5 L302.6 1016.6 L303.6 1016.8 L304.6 1016.9 L305.6 1017 L306.6 1017.1 L307.6 1017.2 L308.6 1017.3 L309.6 1017.4 L310.6 1017.5 L311.6 1017.6 L312.6 1017.6 L313.6 1017.7 L314.6 1017.8 L315.6 1017.8 L316.6 1017.9 L317.6 1017.9 L318.6 1018 L319.6 1018 L320.6 1018 L321.6 1018.1 L322.6 1018.1 L323.6 1018.1 L324.6 1018.1" fill="none" stroke="#12d6e6" stroke-width="1.7"/>
<path d="M25.4 1014V1025M324 1014V1025" stroke="#10e010" stroke-width="1.6"/>
</g>
<rect x="25.7" y="804.5" width="298.9" height="220.8" fill="none" stroke="#1a1a1a" stroke-width="1.1"/>
<path d="M68.4 804.5v4.5M111.1 804.5v4.5M153.8 804.5v4.5M196.5 804.5v4.5M239.2 804.5v4.5M281.9 804.5v4.5" stroke="#1a1a1a" stroke-width="1.0" fill="none"/>
<path d="M47.1 804.5v2.4M89.8 804.5v2.4M132.5 804.5v2.4M175.2 804.5v2.4M217.9 804.5v2.4M260.6 804.5v2.4M303.3 804.5v2.4" stroke="#1a1a1a" stroke-width="1.0" fill="none"/>
<path d="M25.7 1025.3v4.8M68.4 1025.3v4.8M111.1 1025.3v4.8M153.8 1025.3v4.8M196.5 1025.3v4.8M239.2 1025.3v4.8M281.9 1025.3v4.8M324.6 1025.3v4.8" stroke="#1a1a1a" stroke-width="1.0" fill="none"/>
<path d="M47.1 1025.3v2.8M89.8 1025.3v2.8M132.5 1025.3v2.8M175.2 1025.3v2.8M217.9 1025.3v2.8M260.6 1025.3v2.8M303.3 1025.3v2.8" stroke="#1a1a1a" stroke-width="1.0" fill="none"/>
<path d="M25.7 830.3h5.2M25.7 958.1h5.2" stroke="#1a1a1a" stroke-width="1.0" fill="none"/>
<path d="M324.6 830.3h-5.2M324.6 958.1h-5.2" stroke="#1a1a1a" stroke-width="1.0" fill="none"/>
<path d="M25.7 894.2h3" stroke="#1a1a1a" stroke-width="1.0" fill="none"/>
<path d="M324.6 894.2h-3" stroke="#1a1a1a" stroke-width="1.0" fill="none"/>
<text x="25.7" y="1039.9" font-size="9.9" text-anchor="middle" fill="#111" >1,65</text>
<text x="68.4" y="1039.9" font-size="9.9" text-anchor="middle" fill="#111" >1,70</text>
<text x="111.1" y="1039.9" font-size="9.9" text-anchor="middle" fill="#111" >1,75</text>
<text x="153.8" y="1039.9" font-size="9.9" text-anchor="middle" fill="#111" >1,80</text>
<text x="196.5" y="1039.9" font-size="9.9" text-anchor="middle" fill="#111" >1,85</text>
<text x="239.2" y="1039.9" font-size="9.9" text-anchor="middle" fill="#111" >1,90</text>
<text x="281.9" y="1039.9" font-size="9.9" text-anchor="middle" fill="#111" >1,95</text>
<text x="324.6" y="1039.9" font-size="9.9" text-anchor="middle" fill="#111" >2,00</text>
<text x="175" y="1058.8" font-size="11.9" text-anchor="middle" fill="#111" >Energy (eV)</text>
<text transform="translate(13.7 918.4) rotate(-90)" font-size="11.8" text-anchor="middle" fill="#111">Intensity (a.u.)</text>
<text x="31.3" y="823" font-size="11.8" text-anchor="start" fill="#111" >Monolayer MoS<tspan font-size="7.2" dy="3.3">2</tspan><tspan dy="-3.3">&#8203;</tspan></text>
<text x="36.2" y="848.8" font-size="16" class="serif">(f)</text>
<text x="160.2" y="900.6" font-size="18.5" text-anchor="start" fill="#ff1a1a" >A</text>
<text x="132" y="934.9" font-size="17" fill="#10e010">A<tspan font-size="10" dy="-7">-</tspan></text>
<text x="267.3" y="998.8" font-size="18.5" text-anchor="start" fill="#ff18f0" >B</text>
<rect x="192" y="812.5" width="125.5" height="75.5" fill="#fff" stroke="#8a8a8a" stroke-width="1"/>
<path d="M197 821.3H222.5" stroke="#111" stroke-width="1.3"/>
<rect x="197" y="830" width="25.5" height="12" fill="#ffacac"/>
<rect x="197" y="844.5" width="25.5" height="12.5" fill="#f8aef8"/><rect x="197" y="844.5" width="25.5" height="12.5" fill="url(#fdots)" fill-opacity="0.45"/>
<rect x="197" y="860.5" width="25.5" height="12.5" fill="#b0f8b0"/>
<path d="M197 881.8H222.5" stroke="#12d6e6" stroke-width="1.6"/>
<text x="227" y="825.2" font-size="11.7" text-anchor="start" fill="#111" >Measured Curve</text>
<text x="227" y="840" font-size="11.7" text-anchor="start" fill="#111" >Exciton A</text>
<text x="227" y="854.6" font-size="11.7" text-anchor="start" fill="#111" >Exciton B</text>
<text x="227" y="870.8" font-size="11.7" text-anchor="start" fill="#111" >Trion A<tspan font-size="7.5" dy="-4.5">-</tspan><tspan dy="4.5">&#8203;</tspan></text>
<text x="227" y="885.2" font-size="11.7" text-anchor="start" fill="#111" >Fitted Curve</text>
<!-- panel_g -->
<defs><clipPath id="gclip"><rect x="390.2" y="804.5" width="299.2" height="220.8"/></clipPath></defs>
<g clip-path="url(#gclip)">
<path d="M390.2 1023.6 L391.2 1023.6 L392.2 1023.6 L393.2 1023.6 L394.2 1023.6 L395.2 1023.6 L396.2 1023.6 L397.2 1023.6 L398.2 1023.6 L399.2 1023.6 L400.2 1023.6 L401.2 1023.6 L402.2 1023.6 L403.2 1023.6 L404.2 1023.6 L405.2 1023.6 L406.2 1023.6 L407.2 1023.6 L408.2 1023.6 L409.2 1023.6 L410.2 1023.6 L411.2 1023.6 L412.2 1023.6 L413.2 1023.6 L414.2 1023.6 L415.2 1023.6 L416.2 1023.6 L417.2 1023.6 L418.2 1023.6 L419.2 1023.6 L420.2 1023.6 L421.2 1023.6 L422.2 1023.6 L423.2 1023.6 L424.2 1023.6 L425.2 1023.6 L426.2 1023.6 L427.2 1023.6 L428.2 1023.6 L429.2 1023.6 L430.2 1023.6 L431.2 1023.6 L432.2 1023.6 L433.2 1023.6 L434.2 1023.6 L435.2 1023.6 L436.2 1023.6 L437.2 1023.6 L438.2 1023.6 L439.2 1023.6 L440.2 1023.6 L441.2 1023.6 L442.2 1023.6 L443.2 1023.6 L444.2 1023.6 L445.2 1023.6 L446.2 1023.6 L447.2 1023.6 L448.2 1023.6 L449.2 1023.6 L450.2 1023.6 L451.2 1023.6 L452.2 1023.6 L453.2 1023.6 L454.2 1023.6 L455.2 1023.6 L456.2 1023.6 L457.2 1023.6 L458.2 1023.6 L459.2 1023.6 L460.3 1023.6 L461.3 1023.6 L462.3 1023.6 L463.3 1023.6 L464.3 1023.6 L465.3 1023.5 L466.3 1023.5 L467.3 1023.5 L468.3 1023.5 L469.3 1023.5 L470.3 1023.4 L471.3 1023.4 L472.3 1023.3 L473.3 1023.2 L474.3 1023.2 L475.3 1023 L476.3 1022.9 L477.3 1022.8 L478.3 1022.6 L479.3 1022.3 L480.3 1022.1 L481.3 1021.7 L482.3 1021.4 L483.3 1020.9 L484.3 1020.4 L485.3 1019.7 L486.3 1019 L487.3 1018.2 L488.3 1017.3 L489.3 1016.2 L490.3 1014.9 L491.3 1013.5 L492.3 1012 L493.3 1010.2 L494.3 1008.3 L495.3 1006.1 L496.3 1003.7 L497.3 1001.1 L498.3 998.3 L499.3 995.2 L500.3 991.9 L501.3 988.4 L502.3 984.6 L503.3 980.7 L504.3 976.5 L505.3 972.1 L506.3 967.6 L507.3 962.9 L508.3 958.2 L509.3 953.4 L510.3 948.5 L511.3 943.6 L512.3 938.8 L513.3 934.1 L514.3 929.6 L515.3 925.2 L516.3 921.1 L517.3 917.3 L518.3 913.8 L519.3 910.7 L520.3 908 L521.3 905.7 L522.3 903.9 L523.3 902.6 L524.3 901.9 L525.3 901.6 L526.3 901.9 L527.3 902.7 L528.3 904 L529.3 905.8 L530.3 908.1 L531.3 910.8 L532.3 913.9 L533.3 917.5 L534.3 921.3 L535.3 925.4 L536.3 929.8 L537.3 934.3 L538.3 939.1 L539.3 943.9 L540.3 948.7 L541.3 953.6 L542.3 958.4 L543.3 963.2 L544.3 967.8 L545.3 972.3 L546.3 976.7 L547.3 980.9 L548.3 984.8 L549.3 988.6 L550.3 992.1 L551.3 995.4 L552.3 998.4 L553.3 1001.3 L554.3 1003.9 L555.3 1006.2 L556.3 1008.4 L557.3 1010.3 L558.3 1012.1 L559.3 1013.6 L560.3 1015 L561.3 1016.2 L562.3 1017.3 L563.3 1018.2 L564.3 1019.1 L565.3 1019.8 L566.3 1020.4 L567.3 1020.9 L568.3 1021.4 L569.3 1021.8 L570.3 1022.1 L571.3 1022.3 L572.3 1022.6 L573.3 1022.8 L574.3 1022.9 L575.3 1023.1 L576.3 1023.2 L577.3 1023.2 L578.3 1023.3 L579.3 1023.4 L580.3 1023.4 L581.3 1023.5 L582.3 1023.5 L583.3 1023.5 L584.3 1023.5 L585.3 1023.5 L586.3 1023.6 L587.3 1023.6 L588.3 1023.6 L589.3 1023.6 L590.3 1023.6 L591.3 1023.6 L592.3 1023.6 L593.3 1023.6 L594.3 1023.6 L595.3 1023.6 L596.3 1023.6 L597.3 1023.6 L598.3 1023.6 L599.4 1023.6 L600.4 1023.6 L601.4 1023.6 L602.4 1023.6 L603.4 1023.6 L604.4 1023.6 L605.4 1023.6 L606.4 1023.6 L607.4 1023.6 L608.4 1023.6 L609.4 1023.6 L610.4 1023.6 L611.4 1023.6 L612.4 1023.6 L613.4 1023.6 L614.4 1023.6 L615.4 1023.6 L616.4 1023.6 L617.4 1023.6 L618.4 1023.6 L619.4 1023.6 L620.4 1023.6 L621.4 1023.6 L622.4 1023.6 L623.4 1023.6 L624.4 1023.6 L625.4 1023.6 L626.4 1023.6 L627.4 1023.6 L628.4 1023.6 L629.4 1023.6 L630.4 1023.6 L631.4 1023.6 L632.4 1023.6 L633.4 1023.6 L634.4 1023.6 L635.4 1023.6 L636.4 1023.6 L637.4 1023.6 L638.4 1023.6 L639.4 1023.6 L640.4 1023.6 L641.4 1023.6 L642.4 1023.6 L643.4 1023.6 L644.4 1023.6 L645.4 1023.6 L646.4 1023.6 L647.4 1023.6 L648.4 1023.6 L649.4 1023.6 L650.4 1023.6 L651.4 1023.6 L652.4 1023.6 L653.4 1023.6 L654.4 1023.6 L655.4 1023.6 L656.4 1023.6 L657.4 1023.6 L658.4 1023.6 L659.4 1023.6 L660.4 1023.6 L661.4 1023.6 L662.4 1023.6 L663.4 1023.6 L664.4 1023.6 L665.4 1023.6 L666.4 1023.6 L667.4 1023.6 L668.4 1023.6 L669.4 1023.6 L670.4 1023.6 L671.4 1023.6 L672.4 1023.6 L673.4 1023.6 L674.4 1023.6 L675.4 1023.6 L676.4 1023.6 L677.4 1023.6 L678.4 1023.6 L679.4 1023.6 L680.4 1023.6 L681.4 1023.6 L682.4 1023.6 L683.4 1023.6 L684.4 1023.6 L685.4 1023.6 L686.4 1023.6 L687.4 1023.6 L688.4 1023.6 L689.4 1023.6 L689.4 1025.3 L390.2 1025.3Z" fill="#ff5a5a" fill-opacity="0.5"/>
<path d="M390.2 1023.6 L391.2 1023.6 L392.2 1023.6 L393.2 1023.6 L394.2 1023.6 L395.2 1023.6 L396.2 1023.6 L397.2 1023.6 L398.2 1023.6 L399.2 1023.6 L400.2 1023.6 L401.2 1023.6 L402.2 1023.6 L403.2 1023.6 L404.2 1023.6 L405.2 1023.6 L406.2 1023.6 L407.2 1023.6 L408.2 1023.6 L409.2 1023.6 L410.2 1023.6 L411.2 1023.6 L412.2 1023.6 L413.2 1023.6 L414.2 1023.6 L415.2 1023.6 L416.2 1023.6 L417.2 1023.6 L418.2 1023.6 L419.2 1023.6 L420.2 1023.6 L421.2 1023.6 L422.2 1023.6 L423.2 1023.6 L424.2 1023.6 L425.2 1023.6 L426.2 1023.6 L427.2 1023.6 L428.2 1023.6 L429.2 1023.6 L430.2 1023.6 L431.2 1023.6 L432.2 1023.6 L433.2 1023.6 L434.2 1023.6 L435.2 1023.6 L436.2 1023.6 L437.2 1023.6 L438.2 1023.6 L439.2 1023.6 L440.2 1023.6 L441.2 1023.6 L442.2 1023.6 L443.2 1023.6 L444.2 1023.6 L445.2 1023.6 L446.2 1023.6 L447.2 1023.6 L448.2 1023.6 L449.2 1023.6 L450.2 1023.6 L451.2 1023.6 L452.2 1023.6 L453.2 1023.6 L454.2 1023.6 L455.2 1023.6 L456.2 1023.6 L457.2 1023.6 L458.2 1023.6 L459.2 1023.6 L460.3 1023.6 L461.3 1023.6 L462.3 1023.6 L463.3 1023.6 L464.3 1023.6 L465.3 1023.5 L466.3 1023.5 L467.3 1023.5 L468.3 1023.5 L469.3 1023.5 L470.3 1023.4 L471.3 1023.4 L472.3 1023.3 L473.3 1023.2 L474.3 1023.2 L475.3 1023 L476.3 1022.9 L477.3 1022.8 L478.3 1022.6 L479.3 1022.3 L480.3 1022.1 L481.3 1021.7 L482.3 1021.4 L483.3 1020.9 L484.3 1020.4 L485.3 1019.7 L486.3 1019 L487.3 1018.2 L488.3 1017.3 L489.3 1016.2 L490.3 1014.9 L491.3 1013.5 L492.3 1012 L493.3 1010.2 L494.3 1008.3 L495.3 1006.1 L496.3 1003.7 L497.3 1001.1 L498.3 998.3 L499.3 995.2 L500.3 991.9 L501.3 988.4 L502.3 984.6 L503.3 980.7 L504.3 976.5 L505.3 972.1 L506.3 967.6 L507.3 962.9 L508.3 958.2 L509.3 953.4 L510.3 948.5 L511.3 943.6 L512.3 938.8 L513.3 934.1 L514.3 929.6 L515.3 925.2 L516.3 921.1 L517.3 917.3 L518.3 913.8 L519.3 910.7 L520.3 908 L521.3 905.7 L522.3 903.9 L523.3 902.6 L524.3 901.9 L525.3 901.6 L526.3 901.9 L527.3 902.7 L528.3 904 L529.3 905.8 L530.3 908.1 L531.3 910.8 L532.3 913.9 L533.3 917.5 L534.3 921.3 L535.3 925.4 L536.3 929.8 L537.3 934.3 L538.3 939.1 L539.3 943.9 L540.3 948.7 L541.3 953.6 L542.3 958.4 L543.3 963.2 L544.3 967.8 L545.3 972.3 L546.3 976.7 L547.3 980.9 L548.3 984.8 L549.3 988.6 L550.3 992.1 L551.3 995.4 L552.3 998.4 L553.3 1001.3 L554.3 1003.9 L555.3 1006.2 L556.3 1008.4 L557.3 1010.3 L558.3 1012.1 L559.3 1013.6 L560.3 1015 L561.3 1016.2 L562.3 1017.3 L563.3 1018.2 L564.3 1019.1 L565.3 1019.8 L566.3 1020.4 L567.3 1020.9 L568.3 1021.4 L569.3 1021.8 L570.3 1022.1 L571.3 1022.3 L572.3 1022.6 L573.3 1022.8 L574.3 1022.9 L575.3 1023.1 L576.3 1023.2 L577.3 1023.2 L578.3 1023.3 L579.3 1023.4 L580.3 1023.4 L581.3 1023.5 L582.3 1023.5 L583.3 1023.5 L584.3 1023.5 L585.3 1023.5 L586.3 1023.6 L587.3 1023.6 L588.3 1023.6 L589.3 1023.6 L590.3 1023.6 L591.3 1023.6 L592.3 1023.6 L593.3 1023.6 L594.3 1023.6 L595.3 1023.6 L596.3 1023.6 L597.3 1023.6 L598.3 1023.6 L599.4 1023.6 L600.4 1023.6 L601.4 1023.6 L602.4 1023.6 L603.4 1023.6 L604.4 1023.6 L605.4 1023.6 L606.4 1023.6 L607.4 1023.6 L608.4 1023.6 L609.4 1023.6 L610.4 1023.6 L611.4 1023.6 L612.4 1023.6 L613.4 1023.6 L614.4 1023.6 L615.4 1023.6 L616.4 1023.6 L617.4 1023.6 L618.4 1023.6 L619.4 1023.6 L620.4 1023.6 L621.4 1023.6 L622.4 1023.6 L623.4 1023.6 L624.4 1023.6 L625.4 1023.6 L626.4 1023.6 L627.4 1023.6 L628.4 1023.6 L629.4 1023.6 L630.4 1023.6 L631.4 1023.6 L632.4 1023.6 L633.4 1023.6 L634.4 1023.6 L635.4 1023.6 L636.4 1023.6 L637.4 1023.6 L638.4 1023.6 L639.4 1023.6 L640.4 1023.6 L641.4 1023.6 L642.4 1023.6 L643.4 1023.6 L644.4 1023.6 L645.4 1023.6 L646.4 1023.6 L647.4 1023.6 L648.4 1023.6 L649.4 1023.6 L650.4 1023.6 L651.4 1023.6 L652.4 1023.6 L653.4 1023.6 L654.4 1023.6 L655.4 1023.6 L656.4 1023.6 L657.4 1023.6 L658.4 1023.6 L659.4 1023.6 L660.4 1023.6 L661.4 1023.6 L662.4 1023.6 L663.4 1023.6 L664.4 1023.6 L665.4 1023.6 L666.4 1023.6 L667.4 1023.6 L668.4 1023.6 L669.4 1023.6 L670.4 1023.6 L671.4 1023.6 L672.4 1023.6 L673.4 1023.6 L674.4 1023.6 L675.4 1023.6 L676.4 1023.6 L677.4 1023.6 L678.4 1023.6 L679.4 1023.6 L680.4 1023.6 L681.4 1023.6 L682.4 1023.6 L683.4 1023.6 L684.4 1023.6 L685.4 1023.6 L686.4 1023.6 L687.4 1023.6 L688.4 1023.6 L689.4 1023.6" fill="none" stroke="#ff1a1a" stroke-width="1.4"/>
<path d="M390.2 1023.6 L391.2 1023.6 L392.2 1023.6 L393.2 1023.6 L394.2 1023.6 L395.2 1023.5 L396.2 1023.5 L397.2 1023.5 L398.2 1023.5 L399.2 1023.5 L400.2 1023.5 L401.2 1023.5 L402.2 1023.5 L403.2 1023.5 L404.2 1023.5 L405.2 1023.4 L406.2 1023.4 L407.2 1023.4 L408.2 1023.4 L409.2 1023.3 L410.2 1023.3 L411.2 1023.3 L412.2 1023.3 L413.2 1023.2 L414.2 1023.2 L415.2 1023.1 L416.2 1023.1 L417.2 1023 L418.2 1023 L419.2 1022.9 L420.2 1022.8 L421.2 1022.8 L422.2 1022.7 L423.2 1022.6 L424.2 1022.5 L425.2 1022.4 L426.2 1022.3 L427.2 1022.1 L428.2 1022 L429.2 1021.9 L430.2 1021.7 L431.2 1021.5 L432.2 1021.3 L433.2 1021.1 L434.2 1020.9 L435.2 1020.7 L436.2 1020.5 L437.2 1020.2 L438.2 1019.9 L439.2 1019.6 L440.2 1019.3 L441.2 1019 L442.2 1018.6 L443.2 1018.2 L444.2 1017.8 L445.2 1017.4 L446.2 1016.9 L447.2 1016.4 L448.2 1015.9 L449.2 1015.4 L450.2 1014.8 L451.2 1014.2 L452.2 1013.6 L453.2 1012.9 L454.2 1012.2 L455.2 1011.5 L456.2 1010.7 L457.2 1009.9 L458.2 1009 L459.2 1008.2 L460.3 1007.2 L461.3 1006.3 L462.3 1005.3 L463.3 1004.3 L464.3 1003.2 L465.3 1002.1 L466.3 1001 L467.3 999.8 L468.3 998.6 L469.3 997.3 L470.3 996 L471.3 994.7 L472.3 993.4 L473.3 992 L474.3 990.5 L475.3 989.1 L476.3 987.6 L477.3 986.1 L478.3 984.6 L479.3 983 L480.3 981.5 L481.3 979.9 L482.3 978.3 L483.3 976.6 L484.3 975 L485.3 973.4 L486.3 971.7 L487.3 970.1 L488.3 968.4 L489.3 966.8 L490.3 965.1 L491.3 963.5 L492.3 961.9 L493.3 960.3 L494.3 958.8 L495.3 957.2 L496.3 955.7 L497.3 954.2 L498.3 952.8 L499.3 951.4 L500.3 950.1 L501.3 948.7 L502.3 947.5 L503.3 946.3 L504.3 945.1 L505.3 944.1 L506.3 943 L507.3 942.1 L508.3 941.2 L509.3 940.4 L510.3 939.7 L511.3 939 L512.3 938.4 L513.3 937.9 L514.3 937.5 L515.3 937.1 L516.3 936.9 L517.3 936.7 L518.3 936.6 L519.3 936.6 L520.3 936.7 L521.3 936.8 L522.3 937.1 L523.3 937.4 L524.3 937.8 L525.3 938.3 L526.3 938.9 L527.3 939.6 L528.3 940.3 L529.3 941.1 L530.3 942 L531.3 942.9 L532.3 943.9 L533.3 945 L534.3 946.1 L535.3 947.3 L536.3 948.6 L537.3 949.9 L538.3 951.2 L539.3 952.6 L540.3 954 L541.3 955.5 L542.3 957 L543.3 958.6 L544.3 960.1 L545.3 961.7 L546.3 963.3 L547.3 964.9 L548.3 966.5 L549.3 968.2 L550.3 969.8 L551.3 971.5 L552.3 973.1 L553.3 974.8 L554.3 976.4 L555.3 978 L556.3 979.6 L557.3 981.2 L558.3 982.8 L559.3 984.4 L560.3 985.9 L561.3 987.4 L562.3 988.9 L563.3 990.3 L564.3 991.8 L565.3 993.2 L566.3 994.5 L567.3 995.9 L568.3 997.1 L569.3 998.4 L570.3 999.6 L571.3 1000.8 L572.3 1001.9 L573.3 1003.1 L574.3 1004.1 L575.3 1005.2 L576.3 1006.2 L577.3 1007.1 L578.3 1008 L579.3 1008.9 L580.3 1009.8 L581.3 1010.6 L582.3 1011.3 L583.3 1012.1 L584.3 1012.8 L585.3 1013.5 L586.3 1014.1 L587.3 1014.7 L588.3 1015.3 L589.3 1015.8 L590.3 1016.4 L591.3 1016.8 L592.3 1017.3 L593.3 1017.7 L594.3 1018.2 L595.3 1018.5 L596.3 1018.9 L597.3 1019.3 L598.3 1019.6 L599.4 1019.9 L600.4 1020.2 L601.4 1020.4 L602.4 1020.7 L603.4 1020.9 L604.4 1021.1 L605.4 1021.3 L606.4 1021.5 L607.4 1021.7 L608.4 1021.8 L609.4 1022 L610.4 1022.1 L611.4 1022.2 L612.4 1022.4 L613.4 1022.5 L614.4 1022.6 L615.4 1022.7 L616.4 1022.7 L617.4 1022.8 L618.4 1022.9 L619.4 1023 L620.4 1023 L621.4 1023.1 L622.4 1023.1 L623.4 1023.2 L624.4 1023.2 L625.4 1023.3 L626.4 1023.3 L627.4 1023.3 L628.4 1023.3 L629.4 1023.4 L630.4 1023.4 L631.4 1023.4 L632.4 1023.4 L633.4 1023.5 L634.4 1023.5 L635.4 1023.5 L636.4 1023.5 L637.4 1023.5 L638.4 1023.5 L639.4 1023.5 L640.4 1023.5 L641.4 1023.5 L642.4 1023.5 L643.4 1023.6 L644.4 1023.6 L645.4 1023.6 L646.4 1023.6 L647.4 1023.6 L648.4 1023.6 L649.4 1023.6 L650.4 1023.6 L651.4 1023.6 L652.4 1023.6 L653.4 1023.6 L654.4 1023.6 L655.4 1023.6 L656.4 1023.6 L657.4 1023.6 L658.4 1023.6 L659.4 1023.6 L660.4 1023.6 L661.4 1023.6 L662.4 1023.6 L663.4 1023.6 L664.4 1023.6 L665.4 1023.6 L666.4 1023.6 L667.4 1023.6 L668.4 1023.6 L669.4 1023.6 L670.4 1023.6 L671.4 1023.6 L672.4 1023.6 L673.4 1023.6 L674.4 1023.6 L675.4 1023.6 L676.4 1023.6 L677.4 1023.6 L678.4 1023.6 L679.4 1023.6 L680.4 1023.6 L681.4 1023.6 L682.4 1023.6 L683.4 1023.6 L684.4 1023.6 L685.4 1023.6 L686.4 1023.6 L687.4 1023.6 L688.4 1023.6 L689.4 1023.6 L689.4 1025.3 L390.2 1025.3Z" fill="#50f050" fill-opacity="0.45"/>
<path d="M390.2 1023.6 L391.2 1023.6 L392.2 1023.6 L393.2 1023.6 L394.2 1023.6 L395.2 1023.6 L396.2 1023.6 L397.2 1023.6 L398.2 1023.6 L399.2 1023.6 L400.2 1023.6 L401.2 1023.6 L402.2 1023.6 L403.2 1023.6 L404.2 1023.6 L405.2 1023.6 L406.2 1023.6 L407.2 1023.6 L408.2 1023.6 L409.2 1023.6 L410.2 1023.6 L411.2 1023.6 L412.2 1023.6 L413.2 1023.6 L414.2 1023.6 L415.2 1023.6 L416.2 1023.6 L417.2 1023.6 L418.2 1023.6 L419.2 1023.6 L420.2 1023.6 L421.2 1023.6 L422.2 1023.6 L423.2 1023.6 L424.2 1023.6 L425.2 1023.6 L426.2 1023.6 L427.2 1023.6 L428.2 1023.6 L429.2 1023.6 L430.2 1023.6 L431.2 1023.6 L432.2 1023.6 L433.2 1023.6 L434.2 1023.6 L435.2 1023.6 L436.2 1023.6 L437.2 1023.6 L438.2 1023.6 L439.2 1023.6 L440.2 1023.6 L441.2 1023.6 L442.2 1023.6 L443.2 1023.6 L444.2 1023.6 L445.2 1023.6 L446.2 1023.6 L447.2 1023.6 L448.2 1023.6 L449.2 1023.6 L450.2 1023.6 L451.2 1023.6 L452.2 1023.6 L453.2 1023.6 L454.2 1023.6 L455.2 1023.6 L456.2 1023.6 L457.2 1023.6 L458.2 1023.6 L459.2 1023.6 L460.3 1023.6 L461.3 1023.6 L462.3 1023.6 L463.3 1023.6 L464.3 1023.6 L465.3 1023.5 L466.3 1023.5 L467.3 1023.5 L468.3 1023.5 L469.3 1023.5 L470.3 1023.4 L471.3 1023.4 L472.3 1023.3 L473.3 1023.2 L474.3 1023.2 L475.3 1023 L476.3 1022.9 L477.3 1022.8 L478.3 1022.6 L479.3 1022.3 L480.3 1022.1 L481.3 1021.7 L482.3 1021.4 L483.3 1020.9 L484.3 1020.4 L485.3 1019.7 L486.3 1019 L487.3 1018.2 L488.3 1017.3 L489.3 1016.2 L490.3 1014.9 L491.3 1013.5 L492.3 1012 L493.3 1010.2 L494.3 1008.3 L495.3 1006.1 L496.3 1003.7 L497.3 1001.1 L498.3 998.3 L499.3 995.2 L500.3 991.9 L501.3 988.4 L502.3 984.6 L503.3 980.7 L504.3 976.5 L505.3 972.1 L506.3 967.6 L507.3 962.9 L508.3 958.2 L509.3 953.4 L510.3 948.5 L511.3 943.6 L512.3 938.8 L513.3 937.9 L514.3 937.5 L515.3 937.1 L516.3 936.9 L517.3 936.7 L518.3 936.6 L519.3 936.6 L520.3 936.7 L521.3 936.8 L522.3 937.1 L523.3 937.4 L524.3 937.8 L525.3 938.3 L526.3 938.9 L527.3 939.6 L528.3 940.3 L529.3 941.1 L530.3 942 L531.3 942.9 L532.3 943.9 L533.3 945 L534.3 946.1 L535.3 947.3 L536.3 948.6 L537.3 949.9 L538.3 951.2 L539.3 952.6 L540.3 954 L541.3 955.5 L542.3 958.4 L543.3 963.2 L544.3 967.8 L545.3 972.3 L546.3 976.7 L547.3 980.9 L548.3 984.8 L549.3 988.6 L550.3 992.1 L551.3 995.4 L552.3 998.4 L553.3 1001.3 L554.3 1003.9 L555.3 1006.2 L556.3 1008.4 L557.3 1010.3 L558.3 1012.1 L559.3 1013.6 L560.3 1015 L561.3 1016.2 L562.3 1017.3 L563.3 1018.2 L564.3 1019.1 L565.3 1019.8 L566.3 1020.4 L567.3 1020.9 L568.3 1021.4 L569.3 1021.8 L570.3 1022.1 L571.3 1022.3 L572.3 1022.6 L573.3 1022.8 L574.3 1022.9 L575.3 1023.1 L576.3 1023.2 L577.3 1023.2 L578.3 1023.3 L579.3 1023.4 L580.3 1023.4 L581.3 1023.5 L582.3 1023.5 L583.3 1023.5 L584.3 1023.5 L585.3 1023.5 L586.3 1023.6 L587.3 1023.6 L588.3 1023.6 L589.3 1023.6 L590.3 1023.6 L591.3 1023.6 L592.3 1023.6 L593.3 1023.6 L594.3 1023.6 L595.3 1023.6 L596.3 1023.6 L597.3 1023.6 L598.3 1023.6 L599.4 1023.6 L600.4 1023.6 L601.4 1023.6 L602.4 1023.6 L603.4 1023.6 L604.4 1023.6 L605.4 1023.6 L606.4 1023.6 L607.4 1023.6 L608.4 1023.6 L609.4 1023.6 L610.4 1023.6 L611.4 1023.6 L612.4 1023.6 L613.4 1023.6 L614.4 1023.6 L615.4 1023.6 L616.4 1023.6 L617.4 1023.6 L618.4 1023.6 L619.4 1023.6 L620.4 1023.6 L621.4 1023.6 L622.4 1023.6 L623.4 1023.6 L624.4 1023.6 L625.4 1023.6 L626.4 1023.6 L627.4 1023.6 L628.4 1023.6 L629.4 1023.6 L630.4 1023.6 L631.4 1023.6 L632.4 1023.6 L633.4 1023.6 L634.4 1023.6 L635.4 1023.6 L636.4 1023.6 L637.4 1023.6 L638.4 1023.6 L639.4 1023.6 L640.4 1023.6 L641.4 1023.6 L642.4 1023.6 L643.4 1023.6 L644.4 1023.6 L645.4 1023.6 L646.4 1023.6 L647.4 1023.6 L648.4 1023.6 L649.4 1023.6 L650.4 1023.6 L651.4 1023.6 L652.4 1023.6 L653.4 1023.6 L654.4 1023.6 L655.4 1023.6 L656.4 1023.6 L657.4 1023.6 L658.4 1023.6 L659.4 1023.6 L660.4 1023.6 L661.4 1023.6 L662.4 1023.6 L663.4 1023.6 L664.4 1023.6 L665.4 1023.6 L666.4 1023.6 L667.4 1023.6 L668.4 1023.6 L669.4 1023.6 L670.4 1023.6 L671.4 1023.6 L672.4 1023.6 L673.4 1023.6 L674.4 1023.6 L675.4 1023.6 L676.4 1023.6 L677.4 1023.6 L678.4 1023.6 L679.4 1023.6 L680.4 1023.6 L681.4 1023.6 L682.4 1023.6 L683.4 1023.6 L684.4 1023.6 L685.4 1023.6 L686.4 1023.6 L687.4 1023.6 L688.4 1023.6 L689.4 1023.6 L689.4 1025.3 L390.2 1025.3Z" fill="#a06a00" fill-opacity="0.13"/>
<path d="M390.2 1023.6 L391.2 1023.6 L392.2 1023.6 L393.2 1023.6 L394.2 1023.6 L395.2 1023.5 L396.2 1023.5 L397.2 1023.5 L398.2 1023.5 L399.2 1023.5 L400.2 1023.5 L401.2 1023.5 L402.2 1023.5 L403.2 1023.5 L404.2 1023.5 L405.2 1023.4 L406.2 1023.4 L407.2 1023.4 L408.2 1023.4 L409.2 1023.3 L410.2 1023.3 L411.2 1023.3 L412.2 1023.3 L413.2 1023.2 L414.2 1023.2 L415.2 1023.1 L416.2 1023.1 L417.2 1023 L418.2 1023 L419.2 1022.9 L420.2 1022.8 L421.2 1022.8 L422.2 1022.7 L423.2 1022.6 L424.2 1022.5 L425.2 1022.4 L426.2 1022.3 L427.2 1022.1 L428.2 1022 L429.2 1021.9 L430.2 1021.7 L431.2 1021.5 L432.2 1021.3 L433.2 1021.1 L434.2 1020.9 L435.2 1020.7 L436.2 1020.5 L437.2 1020.2 L438.2 1019.9 L439.2 1019.6 L440.2 1019.3 L441.2 1019 L442.2 1018.6 L443.2 1018.2 L444.2 1017.8 L445.2 1017.4 L446.2 1016.9 L447.2 1016.4 L448.2 1015.9 L449.2 1015.4 L450.2 1014.8 L451.2 1014.2 L452.2 1013.6 L453.2 1012.9 L454.2 1012.2 L455.2 1011.5 L456.2 1010.7 L457.2 1009.9 L458.2 1009 L459.2 1008.2 L460.3 1007.2 L461.3 1006.3 L462.3 1005.3 L463.3 1004.3 L464.3 1003.2 L465.3 1002.1 L466.3 1001 L467.3 999.8 L468.3 998.6 L469.3 997.3 L470.3 996 L471.3 994.7 L472.3 993.4 L473.3 992 L474.3 990.5 L475.3 989.1 L476.3 987.6 L477.3 986.1 L478.3 984.6 L479.3 983 L480.3 981.5 L481.3 979.9 L482.3 978.3 L483.3 976.6 L484.3 975 L485.3 973.4 L486.3 971.7 L487.3 970.1 L488.3 968.4 L489.3 966.8 L490.3 965.1 L491.3 963.5 L492.3 961.9 L493.3 960.3 L494.3 958.8 L495.3 957.2 L496.3 955.7 L497.3 954.2 L498.3 952.8 L499.3 951.4 L500.3 950.1 L501.3 948.7 L502.3 947.5 L503.3 946.3 L504.3 945.1 L505.3 944.1 L506.3 943 L507.3 942.1 L508.3 941.2 L509.3 940.4 L510.3 939.7 L511.3 939 L512.3 938.4 L513.3 937.9 L514.3 937.5 L515.3 937.1 L516.3 936.9 L517.3 936.7 L518.3 936.6 L519.3 936.6 L520.3 936.7 L521.3 936.8 L522.3 937.1 L523.3 937.4 L524.3 937.8 L525.3 938.3 L526.3 938.9 L527.3 939.6 L528.3 940.3 L529.3 941.1 L530.3 942 L531.3 942.9 L532.3 943.9 L533.3 945 L534.3 946.1 L535.3 947.3 L536.3 948.6 L537.3 949.9 L538.3 951.2 L539.3 952.6 L540.3 954 L541.3 955.5 L542.3 957 L543.3 958.6 L544.3 960.1 L545.3 961.7 L546.3 963.3 L547.3 964.9 L548.3 966.5 L549.3 968.2 L550.3 969.8 L551.3 971.5 L552.3 973.1 L553.3 974.8 L554.3 976.4 L555.3 978 L556.3 979.6 L557.3 981.2 L558.3 982.8 L559.3 984.4 L560.3 985.9 L561.3 987.4 L562.3 988.9 L563.3 990.3 L564.3 991.8 L565.3 993.2 L566.3 994.5 L567.3 995.9 L568.3 997.1 L569.3 998.4 L570.3 999.6 L571.3 1000.8 L572.3 1001.9 L573.3 1003.1 L574.3 1004.1 L575.3 1005.2 L576.3 1006.2 L577.3 1007.1 L578.3 1008 L579.3 1008.9 L580.3 1009.8 L581.3 1010.6 L582.3 1011.3 L583.3 1012.1 L584.3 1012.8 L585.3 1013.5 L586.3 1014.1 L587.3 1014.7 L588.3 1015.3 L589.3 1015.8 L590.3 1016.4 L591.3 1016.8 L592.3 1017.3 L593.3 1017.7 L594.3 1018.2 L595.3 1018.5 L596.3 1018.9 L597.3 1019.3 L598.3 1019.6 L599.4 1019.9 L600.4 1020.2 L601.4 1020.4 L602.4 1020.7 L603.4 1020.9 L604.4 1021.1 L605.4 1021.3 L606.4 1021.5 L607.4 1021.7 L608.4 1021.8 L609.4 1022 L610.4 1022.1 L611.4 1022.2 L612.4 1022.4 L613.4 1022.5 L614.4 1022.6 L615.4 1022.7 L616.4 1022.7 L617.4 1022.8 L618.4 1022.9 L619.4 1023 L620.4 1023 L621.4 1023.1 L622.4 1023.1 L623.4 1023.2 L624.4 1023.2 L625.4 1023.3 L626.4 1023.3 L627.4 1023.3 L628.4 1023.3 L629.4 1023.4 L630.4 1023.4 L631.4 1023.4 L632.4 1023.4 L633.4 1023.5 L634.4 1023.5 L635.4 1023.5 L636.4 1023.5 L637.4 1023.5 L638.4 1023.5 L639.4 1023.5 L640.4 1023.5 L641.4 1023.5 L642.4 1023.5 L643.4 1023.6 L644.4 1023.6 L645.4 1023.6 L646.4 1023.6 L647.4 1023.6 L648.4 1023.6 L649.4 1023.6 L650.4 1023.6 L651.4 1023.6 L652.4 1023.6 L653.4 1023.6 L654.4 1023.6 L655.4 1023.6 L656.4 1023.6 L657.4 1023.6 L658.4 1023.6 L659.4 1023.6 L660.4 1023.6 L661.4 1023.6 L662.4 1023.6 L663.4 1023.6 L664.4 1023.6 L665.4 1023.6 L666.4 1023.6 L667.4 1023.6 L668.4 1023.6 L669.4 1023.6 L670.4 1023.6 L671.4 1023.6 L672.4 1023.6 L673.4 1023.6 L674.4 1023.6 L675.4 1023.6 L676.4 1023.6 L677.4 1023.6 L678.4 1023.6 L679.4 1023.6 L680.4 1023.6 L681.4 1023.6 L682.4 1023.6 L683.4 1023.6 L684.4 1023.6 L685.4 1023.6 L686.4 1023.6 L687.4 1023.6 L688.4 1023.6 L689.4 1023.6" fill="none" stroke="#10e010" stroke-width="1.5"/>
<path d="M390.2 1023.6 L391.2 1023.6 L392.2 1023.6 L393.2 1023.6 L394.2 1023.6 L395.2 1023.6 L396.2 1023.6 L397.2 1023.6 L398.2 1023.6 L399.2 1023.6 L400.2 1023.6 L401.2 1023.6 L402.2 1023.6 L403.2 1023.5 L404.2 1023.5 L405.2 1023.5 L406.2 1023.5 L407.2 1023.5 L408.2 1023.5 L409.2 1023.4 L410.2 1023.4 L411.2 1023.4 L412.2 1023.3 L413.2 1023.3 L414.2 1023.2 L415.2 1023.2 L416.2 1023.1 L417.2 1023 L418.2 1022.9 L419.2 1022.9 L420.2 1022.8 L421.2 1022.7 L422.2 1022.6 L423.2 1022.5 L424.2 1022.3 L425.2 1022.2 L426.2 1022.1 L427.2 1022 L428.2 1021.9 L429.2 1021.7 L430.2 1021.6 L431.2 1021.5 L432.2 1021.4 L433.2 1021.3 L434.2 1021.2 L435.2 1021.1 L436.2 1021 L437.2 1020.9 L438.2 1020.9 L439.2 1020.8 L440.2 1020.8 L441.2 1020.8 L442.2 1020.8 L443.2 1020.8 L444.2 1020.9 L445.2 1020.9 L446.2 1021 L447.2 1021 L448.2 1021.1 L449.2 1021.2 L450.2 1021.3 L451.2 1021.4 L452.2 1021.5 L453.2 1021.7 L454.2 1021.8 L455.2 1021.9 L456.2 1022 L457.2 1022.2 L458.2 1022.3 L459.2 1022.4 L460.3 1022.5 L461.3 1022.6 L462.3 1022.7 L463.3 1022.8 L464.3 1022.9 L465.3 1023 L466.3 1023.1 L467.3 1023.1 L468.3 1023.2 L469.3 1023.2 L470.3 1023.3 L471.3 1023.3 L472.3 1023.4 L473.3 1023.4 L474.3 1023.4 L475.3 1023.5 L476.3 1023.5 L477.3 1023.5 L478.3 1023.5 L479.3 1023.5 L480.3 1023.5 L481.3 1023.6 L482.3 1023.6 L483.3 1023.6 L484.3 1023.6 L485.3 1023.6 L486.3 1023.6 L487.3 1023.6 L488.3 1023.6 L489.3 1023.6 L490.3 1023.6 L491.3 1023.6 L492.3 1023.6 L493.3 1023.6 L494.3 1023.6 L495.3 1023.6 L496.3 1023.6 L497.3 1023.6 L498.3 1023.6 L499.3 1023.6 L500.3 1023.6 L501.3 1023.6 L502.3 1023.6 L503.3 1023.6 L504.3 1023.6 L505.3 1023.6 L506.3 1023.6 L507.3 1023.6 L508.3 1023.6 L509.3 1023.6 L510.3 1023.6 L511.3 1023.6 L512.3 1023.6 L513.3 1023.6 L514.3 1023.6 L515.3 1023.6 L516.3 1023.6 L517.3 1023.6 L518.3 1023.6 L519.3 1023.6 L520.3 1023.6 L521.3 1023.6 L522.3 1023.6 L523.3 1023.6 L524.3 1023.6 L525.3 1023.6 L526.3 1023.6 L527.3 1023.6 L528.3 1023.6 L529.3 1023.6 L530.3 1023.6 L531.3 1023.6 L532.3 1023.6 L533.3 1023.6 L534.3 1023.6 L535.3 1023.6 L536.3 1023.6 L537.3 1023.6 L538.3 1023.6 L539.3 1023.6 L540.3 1023.6 L541.3 1023.6 L542.3 1023.6 L543.3 1023.6 L544.3 1023.6 L545.3 1023.6 L546.3 1023.6 L547.3 1023.6 L548.3 1023.6 L549.3 1023.6 L550.3 1023.6 L551.3 1023.6 L552.3 1023.6 L553.3 1023.6 L554.3 1023.6 L555.3 1023.6 L556.3 1023.6 L557.3 1023.6 L558.3 1023.6 L559.3 1023.6 L560.3 1023.6 L561.3 1023.6 L562.3 1023.6 L563.3 1023.6 L564.3 1023.6 L565.3 1023.6 L566.3 1023.6 L567.3 1023.6 L568.3 1023.6 L569.3 1023.6 L570.3 1023.6 L571.3 1023.6 L572.3 1023.6 L573.3 1023.6 L574.3 1023.6 L575.3 1023.6 L576.3 1023.6 L577.3 1023.6 L578.3 1023.6 L579.3 1023.6 L580.3 1023.6 L581.3 1023.6 L582.3 1023.6 L583.3 1023.6 L584.3 1023.6 L585.3 1023.6 L586.3 1023.6 L587.3 1023.6 L588.3 1023.6 L589.3 1023.6 L590.3 1023.6 L591.3 1023.6 L592.3 1023.6 L593.3 1023.6 L594.3 1023.6 L595.3 1023.6 L596.3 1023.6 L597.3 1023.6 L598.3 1023.6 L599.4 1023.6 L600.4 1023.6 L601.4 1023.6 L602.4 1023.6 L603.4 1023.6 L604.4 1023.6 L605.4 1023.6 L606.4 1023.6 L607.4 1023.6 L608.4 1023.6 L609.4 1023.6 L610.4 1023.6 L611.4 1023.6 L612.4 1023.6 L613.4 1023.6 L614.4 1023.6 L615.4 1023.6 L616.4 1023.6 L617.4 1023.6 L618.4 1023.6 L619.4 1023.6 L620.4 1023.6 L621.4 1023.6 L622.4 1023.6 L623.4 1023.6 L624.4 1023.6 L625.4 1023.6 L626.4 1023.6 L627.4 1023.6 L628.4 1023.6 L629.4 1023.6 L630.4 1023.6 L631.4 1023.6 L632.4 1023.6 L633.4 1023.6 L634.4 1023.6 L635.4 1023.6 L636.4 1023.6 L637.4 1023.6 L638.4 1023.6 L639.4 1023.6 L640.4 1023.6 L641.4 1023.6 L642.4 1023.6 L643.4 1023.6 L644.4 1023.6 L645.4 1023.6 L646.4 1023.6 L647.4 1023.6 L648.4 1023.6 L649.4 1023.6 L650.4 1023.6 L651.4 1023.6 L652.4 1023.6 L653.4 1023.6 L654.4 1023.6 L655.4 1023.6 L656.4 1023.6 L657.4 1023.6 L658.4 1023.6 L659.4 1023.6 L660.4 1023.6 L661.4 1023.6 L662.4 1023.6 L663.4 1023.6 L664.4 1023.6 L665.4 1023.6 L666.4 1023.6 L667.4 1023.6 L668.4 1023.6 L669.4 1023.6 L670.4 1023.6 L671.4 1023.6 L672.4 1023.6 L673.4 1023.6 L674.4 1023.6 L675.4 1023.6 L676.4 1023.6 L677.4 1023.6 L678.4 1023.6 L679.4 1023.6 L680.4 1023.6 L681.4 1023.6 L682.4 1023.6 L683.4 1023.6 L684.4 1023.6 L685.4 1023.6 L686.4 1023.6 L687.4 1023.6 L688.4 1023.6 L689.4 1023.6 L689.4 1025.3 L390.2 1025.3Z" fill="#7070f0" fill-opacity="0.5"/>
<path d="M390.2 1022.7 L391.2 1022.7 L392.2 1022.7 L393.2 1022.7 L394.2 1022.6 L395.2 1022.6 L396.2 1022.6 L397.2 1022.6 L398.2 1022.6 L399.2 1022.6 L400.2 1022.6 L401.2 1022.6 L402.2 1022.5 L403.2 1022.5 L404.2 1022.5 L405.2 1022.5 L406.2 1022.4 L407.2 1022.4 L408.2 1022.3 L409.2 1022.3 L410.2 1022.2 L411.2 1022.1 L412.2 1022.1 L413.2 1022 L414.2 1021.9 L415.2 1021.8 L416.2 1021.7 L417.2 1021.5 L418.2 1021.4 L419.2 1021.3 L420.2 1021.1 L421.2 1020.9 L422.2 1020.7 L423.2 1020.5 L424.2 1020.3 L425.2 1020.1 L426.2 1019.9 L427.2 1019.6 L428.2 1019.4 L429.2 1019.1 L430.2 1018.8 L431.2 1018.5 L432.2 1018.2 L433.2 1017.9 L434.2 1017.6 L435.2 1017.3 L436.2 1017 L437.2 1016.6 L438.2 1016.3 L439.2 1016 L440.2 1015.6 L441.2 1015.3 L442.2 1014.9 L443.2 1014.5 L444.2 1014.2 L445.2 1013.8 L446.2 1013.4 L447.2 1013 L448.2 1012.5 L449.2 1012.1 L450.2 1011.6 L451.2 1011.1 L452.2 1010.6 L453.2 1010.1 L454.2 1009.5 L455.2 1008.9 L456.2 1008.2 L457.2 1007.5 L458.2 1006.8 L459.2 1006 L460.3 1005.2 L461.3 1004.4 L462.3 1003.5 L463.3 1002.6 L464.3 1001.6 L465.3 1000.5 L466.3 999.5 L467.3 998.3 L468.3 997.1 L469.3 995.9 L470.3 994.6 L471.3 993.3 L472.3 992 L473.3 990.5 L474.3 989 L475.3 987.5 L476.3 985.9 L477.3 984.3 L478.3 982.6 L479.3 980.8 L480.3 979 L481.3 977.1 L482.3 975.1 L483.3 973 L484.3 970.8 L485.3 968.6 L486.3 966.2 L487.3 963.8 L488.3 961.2 L489.3 958.4 L490.3 955.6 L491.3 952.6 L492.3 949.4 L493.3 946.1 L494.3 942.5 L495.3 938.9 L496.3 935 L497.3 930.9 L498.3 926.6 L499.3 922.2 L500.3 917.5 L501.3 912.7 L502.3 907.6 L503.3 902.5 L504.3 897.1 L505.3 891.7 L506.3 886.1 L507.3 880.5 L508.3 874.9 L509.3 869.2 L510.3 863.6 L511.3 858.1 L512.3 852.7 L513.3 847.5 L514.3 842.6 L515.3 837.9 L516.3 833.5 L517.3 829.5 L518.3 825.9 L519.3 822.8 L520.3 820.1 L521.3 818.1 L522.3 816.5 L523.3 815.6 L524.3 815.2 L525.3 815.4 L526.3 816.3 L527.3 817.7 L528.3 819.8 L529.3 822.4 L530.3 825.5 L531.3 829.2 L532.3 833.4 L533.3 837.9 L534.3 842.9 L535.3 848.2 L536.3 853.9 L537.3 859.7 L538.3 865.8 L539.3 872 L540.3 878.3 L541.3 884.6 L542.3 890.9 L543.3 897.2 L544.3 903.4 L545.3 909.5 L546.3 915.5 L547.3 921.3 L548.3 926.9 L549.3 932.3 L550.3 937.4 L551.3 942.4 L552.3 947.1 L553.3 951.5 L554.3 955.8 L555.3 959.8 L556.3 963.5 L557.3 967 L558.3 970.4 L559.3 973.5 L560.3 976.4 L561.3 979.1 L562.3 981.7 L563.3 984.1 L564.3 986.3 L565.3 988.4 L566.3 990.4 L567.3 992.3 L568.3 994 L569.3 995.7 L570.3 997.2 L571.3 998.7 L572.3 1000 L573.3 1001.3 L574.3 1002.6 L575.3 1003.7 L576.3 1004.8 L577.3 1005.9 L578.3 1006.9 L579.3 1007.8 L580.3 1008.7 L581.3 1009.5 L582.3 1010.3 L583.3 1011.1 L584.3 1011.8 L585.3 1012.5 L586.3 1013.2 L587.3 1013.8 L588.3 1014.4 L589.3 1014.9 L590.3 1015.4 L591.3 1015.9 L592.3 1016.4 L593.3 1016.8 L594.3 1017.3 L595.3 1017.6 L596.3 1018 L597.3 1018.4 L598.3 1018.7 L599.4 1019 L600.4 1019.3 L601.4 1019.5 L602.4 1019.8 L603.4 1020 L604.4 1020.2 L605.4 1020.4 L606.4 1020.6 L607.4 1020.8 L608.4 1020.9 L609.4 1021.1 L610.4 1021.2 L611.4 1021.3 L612.4 1021.5 L613.4 1021.6 L614.4 1021.7 L615.4 1021.8 L616.4 1021.8 L617.4 1021.9 L618.4 1022 L619.4 1022.1 L620.4 1022.1 L621.4 1022.2 L622.4 1022.2 L623.4 1022.3 L624.4 1022.3 L625.4 1022.4 L626.4 1022.4 L627.4 1022.4 L628.4 1022.4 L629.4 1022.5 L630.4 1022.5 L631.4 1022.5 L632.4 1022.5 L633.4 1022.6 L634.4 1022.6 L635.4 1022.6 L636.4 1022.6 L637.4 1022.6 L638.4 1022.6 L639.4 1022.6 L640.4 1022.6 L641.4 1022.6 L642.4 1022.6 L643.4 1022.7 L644.4 1022.7 L645.4 1022.7 L646.4 1022.7 L647.4 1022.7 L648.4 1022.7 L649.4 1022.7 L650.4 1022.7 L651.4 1022.7 L652.4 1022.7 L653.4 1022.7 L654.4 1022.7 L655.4 1022.7 L656.4 1022.7 L657.4 1022.7 L658.4 1022.7 L659.4 1022.7 L660.4 1022.7 L661.4 1022.7 L662.4 1022.7 L663.4 1022.7 L664.4 1022.7 L665.4 1022.7 L666.4 1022.7 L667.4 1022.7 L668.4 1022.7 L669.4 1022.7 L670.4 1022.7 L671.4 1022.7 L672.4 1022.7 L673.4 1022.7 L674.4 1022.7 L675.4 1022.7 L676.4 1022.7 L677.4 1022.7 L678.4 1022.7 L679.4 1022.7 L680.4 1022.7 L681.4 1022.7 L682.4 1022.7 L683.4 1022.7 L684.4 1022.7 L685.4 1022.7 L686.4 1022.7 L687.4 1022.7 L688.4 1022.7 L689.4 1022.7" fill="none" stroke="#111" stroke-width="2.1" stroke-opacity="0.65"/>
<path d="M390.2 1020.3 L390.7 1023.9 L391.2 1022.3 L391.7 1023 L392.2 1023.6 L392.7 1023.3 L393.2 1023.2 L393.7 1022.8 L394.2 1022.2 L394.7 1021.5 L395.2 1022.4 L395.7 1021.4 L396.2 1022.2 L396.7 1022.6 L397.2 1022.9 L397.7 1023.7 L398.2 1024.4 L398.7 1022.7 L399.2 1022.8 L399.7 1022.3 L400.2 1022.3 L400.7 1024 L401.2 1023.4 L401.7 1023.8 L402.2 1021.5 L402.7 1022.7 L403.2 1022.5 L403.7 1023.6 L404.2 1023.9 L404.7 1023.2 L405.2 1022.6 L405.7 1022 L406.2 1024.1 L406.7 1022.1 L407.2 1023.4 L407.7 1023 L408.2 1022.8 L408.7 1022.8 L409.2 1021.9 L409.7 1021.4 L410.2 1021.9 L410.7 1022.9 L411.2 1021.8 L411.7 1021.8 L412.2 1021.2 L412.7 1021.8 L413.2 1023.8 L413.7 1022.8 L414.2 1022.4 L414.7 1020.9 L415.2 1022 L415.7 1020.8 L416.2 1021.4 L416.7 1023 L417.2 1021.6 L417.7 1021 L418.2 1021.1 L418.7 1023 L419.2 1020.9 L419.7 1021.9 L420.2 1023.5 L420.7 1021.7 L421.2 1023.1 L421.7 1022.3 L422.2 1019.3 L422.7 1018.1 L423.2 1019.5 L423.7 1020.1 L424.2 1018.4 L424.7 1019.9 L425.2 1021.3 L425.7 1022.7 L426.2 1019 L426.7 1022.3 L427.2 1022.8 L427.7 1020.3 L428.2 1019.4 L428.7 1020.2 L429.2 1018 L429.7 1019.1 L430.2 1018.7 L430.7 1018.3 L431.2 1019.2 L431.7 1018.2 L432.2 1015.8 L432.7 1019.2 L433.2 1017.8 L433.7 1017.3 L434.2 1018.3 L434.7 1017.6 L435.2 1019.2 L435.7 1017.7 L436.2 1017 L436.7 1015.7 L437.2 1015.7 L437.7 1017.2 L438.2 1017.6 L438.7 1014.2 L439.2 1015.1 L439.7 1018 L440.2 1016.1 L440.7 1016.5 L441.2 1016.5 L441.7 1018.5 L442.2 1015.8 L442.7 1015.8 L443.1 1015.1 L443.6 1012.5 L444.1 1013.9 L444.6 1016.4 L445.1 1017.2 L445.6 1014.7 L446.1 1011.3 L446.6 1011.5 L447.1 1014.2 L447.6 1010.7 L448.1 1011.8 L448.6 1013.6 L449.1 1011.4 L449.6 1012.1 L450.1 1013.9 L450.6 1012.3 L451.1 1010.9 L451.6 1008.5 L452.1 1012.7 L452.6 1010 L453.1 1010.1 L453.6 1010 L454.1 1011.9 L454.6 1006.9 L455.1 1006.5 L455.6 1005.6 L456.1 1007.5 L456.6 1005.2 L457.1 1006.6 L457.6 1005.4 L458.1 1007.6 L458.6 1006.1 L459.1 1006.8 L459.6 1007.8 L460.1 1006.2 L460.6 1007.1 L461.1 1006.7 L461.6 1004.9 L462.1 1004.8 L462.6 999.3 L463.1 999.3 L463.6 1000.2 L464.1 1000.2 L464.6 1002.9 L465.1 1000.2 L465.6 1002.9 L466.1 1000.8 L466.6 1000 L467.1 999.2 L467.6 996.3 L468.1 998.9 L468.6 992.1 L469.1 997.1 L469.6 993.9 L470.1 997.9 L470.6 992.5 L471.1 995.9 L471.6 992.5 L472.1 992.2 L472.6 989.9 L473.1 989.6 L473.6 989.3 L474.1 989.6 L474.6 984.8 L475.1 988.7 L475.6 987 L476.1 987.1 L476.6 985.1 L477.1 986.4 L477.6 984.5 L478.1 981.9 L478.6 983.1 L479.1 980.2 L479.6 981.3 L480.1 976.6 L480.6 978.6 L481.1 974 L481.6 975.5 L482.1 975.7 L482.6 972.6 L483.1 971.1 L483.6 969.4 L484.1 968.6 L484.6 968.4 L485.1 971.2 L485.6 966.1 L486.1 966.8 L486.6 964.7 L487.1 961.8 L487.6 964.3 L488.1 959.1 L488.6 955.7 L489.1 957.9 L489.6 958.1 L490.1 953.5 L490.6 954.3 L491.1 951.9 L491.6 950.2 L492.1 951.6 L492.6 948 L493.1 948.4 L493.6 945.7 L494.1 942.5 L494.6 942.7 L495.1 940.3 L495.6 938.1 L496.1 935.3 L496.6 933.3 L497.1 931.2 L497.6 930.1 L498.1 928.3 L498.6 924.8 L499.1 924 L499.6 921.6 L500.1 917.6 L500.6 916.9 L501.1 914.6 L501.6 909.9 L502.1 908.7 L502.6 908.5 L503.1 904.3 L503.6 898.7 L504.1 895.1 L504.6 895.8 L505.1 892 L505.6 889.2 L506.1 886.9 L506.6 886.5 L507.1 880.6 L507.6 878.6 L508.1 876.3 L508.6 875 L509.1 871.1 L509.6 867.7 L510.1 865.1 L510.6 861.8 L511.1 859.7 L511.6 855.5 L512.1 853.2 L512.6 852.5 L513.1 849.3 L513.6 845.6 L514.1 844.2 L514.6 839.7 L515.1 839.5 L515.6 836.3 L516.1 833.8 L516.6 833.6 L517.1 829 L517.6 828.7 L518.1 827.5 L518.6 825.8 L519.1 825.3 L519.6 823.5 L520.1 819.1 L520.6 819.7 L521.1 818.8 L521.6 817.4 L522.1 816.2 L522.6 815.6 L523.1 814.4 L523.6 813.3 L524.1 811.7 L524.6 811.2 L525.1 808.1 L525.6 809.4 L526.1 810.4 L526.6 813.5 L527.1 814.3 L527.6 815.5 L528.1 817.9 L528.6 819.1 L529.1 821.4 L529.6 823.9 L530.1 825.3 L530.6 826.6 L531.1 827.2 L531.6 829.7 L532.1 831.4 L532.6 833.3 L533.1 837.4 L533.6 837.8 L534.1 841.7 L534.6 845.8 L535.1 847.6 L535.6 849.8 L536.1 854.2 L536.6 852.8 L537.1 858.4 L537.6 860.3 L538.1 865.6 L538.6 867.3 L539.1 870.2 L539.6 874.4 L540.1 876.4 L540.6 879.9 L541.1 882.6 L541.6 887.5 L542.1 888.8 L542.6 892.8 L543.1 896.6 L543.6 901.2 L544.1 902.1 L544.6 905.4 L545.1 905.4 L545.6 912.4 L546.1 912.4 L546.6 915.6 L547.1 919.4 L547.6 922.4 L548 924.9 L548.5 929.8 L549 929.4 L549.5 933.9 L550 936.9 L550.5 938.7 L551 944.2 L551.5 945 L552 947.2 L552.5 949.9 L553 949.8 L553.5 950.8 L554 954.7 L554.5 957.4 L555 958.2 L555.5 961.7 L556 962.4 L556.5 963.7 L557 966.6 L557.5 968.7 L558 969.4 L558.5 971.1 L559 971.5 L559.5 977.1 L560 977.8 L560.5 978 L561 977.6 L561.5 982.3 L562 978.8 L562.5 979.6 L563 984.9 L563.5 982.6 L564 989.8 L564.5 987.1 L565 991 L565.5 987 L566 988.4 L566.5 990 L567 993 L567.5 994.9 L568 992.9 L568.5 995.5 L569 994 L569.5 999.2 L570 996.1 L570.5 996.7 L571 1002.7 L571.5 1001.5 L572 1001.1 L572.5 1001.6 L573 1004.4 L573.5 1001.7 L574 1004.5 L574.5 1003.1 L575 1007 L575.5 1006.4 L576 1003.4 L576.5 1008.5 L577 1005.8 L577.5 1003.5 L578 1005.2 L578.5 1009.7 L579 1003.5 L579.5 1009.2 L580 1006.8 L580.5 1007.2 L581 1010.1 L581.5 1008.7 L582 1015.5 L582.5 1010.5 L583 1010.8 L583.5 1012.1 L584 1011.6 L584.5 1010.1 L585 1010.7 L585.5 1014 L586 1011.7 L586.5 1011.3 L587 1013.6 L587.5 1013.4 L588 1019 L588.5 1017.7 L589 1014.2 L589.5 1018.1 L590 1013.9 L590.5 1014.4 L591 1017 L591.5 1017.4 L592 1016.6 L592.5 1016.4 L593 1015.9 L593.5 1017.3 L594 1017.2 L594.5 1018.5 L595 1017.3 L595.5 1018.7 L596 1016.9 L596.5 1017.4 L597 1020.2 L597.5 1018.2 L598 1019.9 L598.5 1017.8 L599 1020.1 L599.5 1017.8 L600 1018.1 L600.5 1017.3 L601 1019.2 L601.5 1019.6 L602 1018.5 L602.5 1021.3 L603 1020.1 L603.5 1020.5 L604 1020.3 L604.5 1022.1 L605 1022.3 L605.5 1022.5 L606 1019.1 L606.5 1021.1 L607 1020.2 L607.5 1021.1 L608 1021.3 L608.5 1019.7 L609 1023.7 L609.5 1021.5 L610 1022.2 L610.5 1022.4 L611 1023.2 L611.5 1023.2 L612 1022.9 L612.5 1020.4 L613 1022.4 L613.5 1022.2 L614 1022 L614.5 1021.1 L615 1020.7 L615.5 1021.7 L616 1022 L616.5 1021.4 L617 1022.9 L617.5 1021.8 L618 1020.3 L618.5 1022.9 L619 1023.1 L619.5 1023.9 L620 1022.2 L620.5 1021.6 L621 1022.8 L621.5 1022.7 L622 1021.1 L622.5 1022.3 L623 1021.6 L623.5 1022.8 L624 1021 L624.5 1021.5 L625 1022.6 L625.5 1023.1 L626 1019.7 L626.5 1023.7 L627 1023.6 L627.5 1025.3 L628 1021.8 L628.5 1022.5 L629 1022.7 L629.5 1024.3 L630 1022.6 L630.5 1023.5 L631 1023.9 L631.5 1022.9 L632 1022.3 L632.5 1022.8 L633 1023.2 L633.5 1021.9 L634 1022.4 L634.5 1023.1 L635 1022.1 L635.5 1022.4 L636 1021.7 L636.5 1021.8 L637 1021.9 L637.5 1023.4 L638 1021.3 L638.5 1021.6 L639 1023.3 L639.5 1021.4 L640 1022.6 L640.5 1023.8 L641 1022.8 L641.5 1024.2 L642 1021.5 L642.5 1024.1 L643 1021.2 L643.5 1023.7 L644 1022.9 L644.5 1021.4 L645 1022.4 L645.5 1024.6 L646 1022.9 L646.5 1024.8 L647 1022.1 L647.5 1023.9 L648 1022.9 L648.5 1022.9 L649 1024.4 L649.5 1022.4 L650 1020.9 L650.5 1023.8 L651 1023.4 L651.5 1022.4 L652 1021.5 L652.5 1023.7 L652.9 1022.6 L653.4 1022.4 L653.9 1021.6 L654.4 1023.7 L654.9 1020.1 L655.4 1020.6 L655.9 1024.3 L656.4 1023.7 L656.9 1022.4 L657.4 1023.5 L657.9 1023.4 L658.4 1022.8 L658.9 1023.6 L659.4 1023.5 L659.9 1022.6 L660.4 1023.2 L660.9 1022.4 L661.4 1021.6 L661.9 1021.6 L662.4 1022.7 L662.9 1020.6 L663.4 1023.2 L663.9 1021.8 L664.4 1020.8 L664.9 1022.6 L665.4 1021.9 L665.9 1023.3 L666.4 1023.4 L666.9 1022.6 L667.4 1022.3 L667.9 1022.4 L668.4 1022.1 L668.9 1022.4 L669.4 1022.9 L669.9 1023.4 L670.4 1022.9 L670.9 1022.7 L671.4 1022.8 L671.9 1023.9 L672.4 1021.4 L672.9 1021.6 L673.4 1022.5 L673.9 1023.3 L674.4 1021.6 L674.9 1023 L675.4 1023 L675.9 1022.1 L676.4 1023.4 L676.9 1022.6 L677.4 1023.3 L677.9 1022.1 L678.4 1022.3 L678.9 1022 L679.4 1022.3 L679.9 1022.4 L680.4 1022.3 L680.9 1021.9 L681.4 1023.8 L681.9 1024 L682.4 1022.7 L682.9 1022.6 L683.4 1023 L683.9 1021.1 L684.4 1022.2 L684.9 1021.4 L685.4 1022.6 L685.9 1024.2 L686.4 1024.2 L686.9 1021.6 L687.4 1022.7 L687.9 1023.3 L688.4 1021.4 L688.9 1020.9 L689.4 1022.3" fill="none" stroke="#111" stroke-width="1.0" stroke-linejoin="bevel"/>
<path d="M390.2 1023 L391.2 1023 L392.2 1023 L393.2 1023 L394.2 1022.9 L395.2 1022.9 L396.2 1022.9 L397.2 1022.9 L398.2 1022.9 L399.2 1022.9 L400.2 1022.9 L401.2 1022.9 L402.2 1022.8 L403.2 1022.8 L404.2 1022.8 L405.2 1022.8 L406.2 1022.7 L407.2 1022.7 L408.2 1022.6 L409.2 1022.6 L410.2 1022.5 L411.2 1022.4 L412.2 1022.4 L413.2 1022.3 L414.2 1022.2 L415.2 1022.1 L416.2 1022 L417.2 1021.8 L418.2 1021.7 L419.2 1021.6 L420.2 1021.4 L421.2 1021.2 L422.2 1021 L423.2 1020.8 L424.2 1020.6 L425.2 1020.4 L426.2 1020.2 L427.2 1019.9 L428.2 1019.7 L429.2 1019.4 L430.2 1019.1 L431.2 1018.8 L432.2 1018.5 L433.2 1018.2 L434.2 1017.9 L435.2 1017.6 L436.2 1017.3 L437.2 1016.9 L438.2 1016.6 L439.2 1016.3 L440.2 1015.9 L441.2 1015.6 L442.2 1015.2 L443.2 1014.8 L444.2 1014.5 L445.2 1014.1 L446.2 1013.7 L447.2 1013.3 L448.2 1012.8 L449.2 1012.4 L450.2 1011.9 L451.2 1011.4 L452.2 1010.9 L453.2 1010.4 L454.2 1009.8 L455.2 1009.2 L456.2 1008.5 L457.2 1007.8 L458.2 1007.1 L459.2 1006.3 L460.3 1005.5 L461.3 1004.7 L462.3 1003.8 L463.3 1002.9 L464.3 1001.9 L465.3 1000.8 L466.3 999.8 L467.3 998.6 L468.3 997.4 L469.3 996.2 L470.3 994.9 L471.3 993.6 L472.3 992.3 L473.3 990.8 L474.3 989.3 L475.3 987.8 L476.3 986.2 L477.3 984.6 L478.3 982.9 L479.3 981.1 L480.3 979.3 L481.3 977.4 L482.3 975.4 L483.3 973.3 L484.3 971.1 L485.3 968.9 L486.3 966.5 L487.3 964.1 L488.3 961.5 L489.3 958.7 L490.3 955.9 L491.3 952.9 L492.3 949.7 L493.3 946.4 L494.3 942.8 L495.3 939.2 L496.3 935.3 L497.3 931.2 L498.3 926.9 L499.3 922.5 L500.3 917.8 L501.3 913 L502.3 907.9 L503.3 902.8 L504.3 897.4 L505.3 892 L506.3 886.4 L507.3 880.8 L508.3 875.2 L509.3 869.5 L510.3 863.9 L511.3 858.4 L512.3 853 L513.3 847.8 L514.3 842.9 L515.3 838.2 L516.3 833.8 L517.3 829.8 L518.3 826.2 L519.3 823.1 L520.3 820.4 L521.3 818.4 L522.3 816.8 L523.3 815.9 L524.3 815.5 L525.3 815.7 L526.3 816.6 L527.3 818 L528.3 820.1 L529.3 822.7 L530.3 825.8 L531.3 829.5 L532.3 833.7 L533.3 838.2 L534.3 843.2 L535.3 848.5 L536.3 854.2 L537.3 860 L538.3 866.1 L539.3 872.3 L540.3 878.6 L541.3 884.9 L542.3 891.2 L543.3 897.5 L544.3 903.7 L545.3 909.8 L546.3 915.8 L547.3 921.6 L548.3 927.2 L549.3 932.6 L550.3 937.7 L551.3 942.7 L552.3 947.4 L553.3 951.8 L554.3 956.1 L555.3 960.1 L556.3 963.8 L557.3 967.3 L558.3 970.7 L559.3 973.8 L560.3 976.7 L561.3 979.4 L562.3 982 L563.3 984.4 L564.3 986.6 L565.3 988.7 L566.3 990.7 L567.3 992.6 L568.3 994.3 L569.3 996 L570.3 997.5 L571.3 999 L572.3 1000.3 L573.3 1001.6 L574.3 1002.9 L575.3 1004 L576.3 1005.1 L577.3 1006.2 L578.3 1007.2 L579.3 1008.1 L580.3 1009 L581.3 1009.8 L582.3 1010.6 L583.3 1011.4 L584.3 1012.1 L585.3 1012.8 L586.3 1013.5 L587.3 1014.1 L588.3 1014.7 L589.3 1015.2 L590.3 1015.7 L591.3 1016.2 L592.3 1016.7 L593.3 1017.1 L594.3 1017.6 L595.3 1017.9 L596.3 1018.3 L597.3 1018.7 L598.3 1019 L599.4 1019.3 L600.4 1019.6 L601.4 1019.8 L602.4 1020.1 L603.4 1020.3 L604.4 1020.5 L605.4 1020.7 L606.4 1020.9 L607.4 1021.1 L608.4 1021.2 L609.4 1021.4 L610.4 1021.5 L611.4 1021.6 L612.4 1021.8 L613.4 1021.9 L614.4 1022 L615.4 1022.1 L616.4 1022.1 L617.4 1022.2 L618.4 1022.3 L619.4 1022.4 L620.4 1022.4 L621.4 1022.5 L622.4 1022.5 L623.4 1022.6 L624.4 1022.6 L625.4 1022.7 L626.4 1022.7 L627.4 1022.7 L628.4 1022.7 L629.4 1022.8 L630.4 1022.8 L631.4 1022.8 L632.4 1022.8 L633.4 1022.9 L634.4 1022.9 L635.4 1022.9 L636.4 1022.9 L637.4 1022.9 L638.4 1022.9 L639.4 1022.9 L640.4 1022.9 L641.4 1022.9 L642.4 1022.9 L643.4 1023 L644.4 1023 L645.4 1023 L646.4 1023 L647.4 1023 L648.4 1023 L649.4 1023 L650.4 1023 L651.4 1023 L652.4 1023 L653.4 1023 L654.4 1023 L655.4 1023 L656.4 1023 L657.4 1023 L658.4 1023 L659.4 1023 L660.4 1023 L661.4 1023 L662.4 1023 L663.4 1023 L664.4 1023 L665.4 1023 L666.4 1023 L667.4 1023 L668.4 1023 L669.4 1023 L670.4 1023 L671.4 1023 L672.4 1023 L673.4 1023 L674.4 1023 L675.4 1023 L676.4 1023 L677.4 1023 L678.4 1023 L679.4 1023 L680.4 1023 L681.4 1023 L682.4 1023 L683.4 1023 L684.4 1023 L685.4 1023 L686.4 1023 L687.4 1023 L688.4 1023 L689.4 1023" fill="none" stroke="#12d6e6" stroke-width="1.7"/>
<path d="M390.2 1023.6 L391.2 1023.6 L392.2 1023.6 L393.2 1023.6 L394.2 1023.6 L395.2 1023.6 L396.2 1023.6 L397.2 1023.6 L398.2 1023.6 L399.2 1023.6 L400.2 1023.6 L401.2 1023.6 L402.2 1023.6 L403.2 1023.5 L404.2 1023.5 L405.2 1023.5 L406.2 1023.5 L407.2 1023.5 L408.2 1023.5 L409.2 1023.4 L410.2 1023.4 L411.2 1023.4 L412.2 1023.3 L413.2 1023.3 L414.2 1023.2 L415.2 1023.2 L416.2 1023.1 L417.2 1023 L418.2 1022.9 L419.2 1022.9 L420.2 1022.8 L421.2 1022.7 L422.2 1022.6 L423.2 1022.5 L424.2 1022.3 L425.2 1022.2 L426.2 1022.1 L427.2 1022 L428.2 1021.9 L429.2 1021.7 L430.2 1021.6 L431.2 1021.5 L432.2 1021.4 L433.2 1021.3 L434.2 1021.2 L435.2 1021.1 L436.2 1021 L437.2 1020.9 L438.2 1020.9 L439.2 1020.8 L440.2 1020.8 L441.2 1020.8 L442.2 1020.8 L443.2 1020.8 L444.2 1020.9 L445.2 1020.9 L446.2 1021 L447.2 1021 L448.2 1021.1 L449.2 1021.2 L450.2 1021.3 L451.2 1021.4 L452.2 1021.5 L453.2 1021.7 L454.2 1021.8 L455.2 1021.9 L456.2 1022 L457.2 1022.2 L458.2 1022.3 L459.2 1022.4 L460.3 1022.5 L461.3 1022.6 L462.3 1022.7 L463.3 1022.8 L464.3 1022.9 L465.3 1023 L466.3 1023.1 L467.3 1023.1 L468.3 1023.2 L469.3 1023.2 L470.3 1023.3 L471.3 1023.3 L472.3 1023.4 L473.3 1023.4 L474.3 1023.4 L475.3 1023.5 L476.3 1023.5 L477.3 1023.5 L478.3 1023.5 L479.3 1023.5 L480.3 1023.5 L481.3 1023.6 L482.3 1023.6 L483.3 1023.6 L484.3 1023.6 L485.3 1023.6 L486.3 1023.6 L487.3 1023.6 L488.3 1023.6 L489.3 1023.6 L490.3 1023.6 L491.3 1023.6 L492.3 1023.6 L493.3 1023.6 L494.3 1023.6 L495.3 1023.6 L496.3 1023.6 L497.3 1023.6 L498.3 1023.6 L499.3 1023.6 L500.3 1023.6 L501.3 1023.6 L502.3 1023.6 L503.3 1023.6 L504.3 1023.6 L505.3 1023.6 L506.3 1023.6 L507.3 1023.6 L508.3 1023.6 L509.3 1023.6 L510.3 1023.6 L511.3 1023.6 L512.3 1023.6 L513.3 1023.6 L514.3 1023.6 L515.3 1023.6 L516.3 1023.6 L517.3 1023.6 L518.3 1023.6 L519.3 1023.6 L520.3 1023.6 L521.3 1023.6 L522.3 1023.6 L523.3 1023.6 L524.3 1023.6 L525.3 1023.6 L526.3 1023.6 L527.3 1023.6 L528.3 1023.6 L529.3 1023.6 L530.3 1023.6 L531.3 1023.6 L532.3 1023.6 L533.3 1023.6 L534.3 1023.6 L535.3 1023.6 L536.3 1023.6 L537.3 1023.6 L538.3 1023.6 L539.3 1023.6 L540.3 1023.6 L541.3 1023.6 L542.3 1023.6 L543.3 1023.6 L544.3 1023.6 L545.3 1023.6 L546.3 1023.6 L547.3 1023.6 L548.3 1023.6 L549.3 1023.6 L550.3 1023.6 L551.3 1023.6 L552.3 1023.6 L553.3 1023.6 L554.3 1023.6 L555.3 1023.6 L556.3 1023.6 L557.3 1023.6 L558.3 1023.6 L559.3 1023.6 L560.3 1023.6 L561.3 1023.6 L562.3 1023.6 L563.3 1023.6 L564.3 1023.6 L565.3 1023.6 L566.3 1023.6 L567.3 1023.6 L568.3 1023.6 L569.3 1023.6 L570.3 1023.6 L571.3 1023.6 L572.3 1023.6 L573.3 1023.6 L574.3 1023.6 L575.3 1023.6 L576.3 1023.6 L577.3 1023.6 L578.3 1023.6 L579.3 1023.6 L580.3 1023.6 L581.3 1023.6 L582.3 1023.6 L583.3 1023.6 L584.3 1023.6 L585.3 1023.6 L586.3 1023.6 L587.3 1023.6 L588.3 1023.6 L589.3 1023.6 L590.3 1023.6 L591.3 1023.6 L592.3 1023.6 L593.3 1023.6 L594.3 1023.6 L595.3 1023.6 L596.3 1023.6 L597.3 1023.6 L598.3 1023.6 L599.4 1023.6 L600.4 1023.6 L601.4 1023.6 L602.4 1023.6 L603.4 1023.6 L604.4 1023.6 L605.4 1023.6 L606.4 1023.6 L607.4 1023.6 L608.4 1023.6 L609.4 1023.6 L610.4 1023.6 L611.4 1023.6 L612.4 1023.6 L613.4 1023.6 L614.4 1023.6 L615.4 1023.6 L616.4 1023.6 L617.4 1023.6 L618.4 1023.6 L619.4 1023.6 L620.4 1023.6 L621.4 1023.6 L622.4 1023.6 L623.4 1023.6 L624.4 1023.6 L625.4 1023.6 L626.4 1023.6 L627.4 1023.6 L628.4 1023.6 L629.4 1023.6 L630.4 1023.6 L631.4 1023.6 L632.4 1023.6 L633.4 1023.6 L634.4 1023.6 L635.4 1023.6 L636.4 1023.6 L637.4 1023.6 L638.4 1023.6 L639.4 1023.6 L640.4 1023.6 L641.4 1023.6 L642.4 1023.6 L643.4 1023.6 L644.4 1023.6 L645.4 1023.6 L646.4 1023.6 L647.4 1023.6 L648.4 1023.6 L649.4 1023.6 L650.4 1023.6 L651.4 1023.6 L652.4 1023.6 L653.4 1023.6 L654.4 1023.6 L655.4 1023.6 L656.4 1023.6 L657.4 1023.6 L658.4 1023.6 L659.4 1023.6 L660.4 1023.6 L661.4 1023.6 L662.4 1023.6 L663.4 1023.6 L664.4 1023.6 L665.4 1023.6 L666.4 1023.6 L667.4 1023.6 L668.4 1023.6 L669.4 1023.6 L670.4 1023.6 L671.4 1023.6 L672.4 1023.6 L673.4 1023.6 L674.4 1023.6 L675.4 1023.6 L676.4 1023.6 L677.4 1023.6 L678.4 1023.6 L679.4 1023.6 L680.4 1023.6 L681.4 1023.6 L682.4 1023.6 L683.4 1023.6 L684.4 1023.6 L685.4 1023.6 L686.4 1023.6 L687.4 1023.6 L688.4 1023.6 L689.4 1023.6" fill="none" stroke="#1818e8" stroke-width="1.6"/>
</g>
<rect x="390.2" y="804.5" width="299.2" height="220.8" fill="none" stroke="#1a1a1a" stroke-width="1.1"/>
<path d="M432.9 804.5v4.5M475.7 804.5v4.5M518.4 804.5v4.5M561.2 804.5v4.5M603.9 804.5v4.5M646.7 804.5v4.5" stroke="#1a1a1a" stroke-width="1.0" fill="none"/>
<path d="M411.6 804.5v2.4M454.3 804.5v2.4M497.1 804.5v2.4M539.8 804.5v2.4M582.6 804.5v2.4M625.3 804.5v2.4M668 804.5v2.4" stroke="#1a1a1a" stroke-width="1.0" fill="none"/>
<path d="M390.2 1025.3v4.8M432.9 1025.3v4.8M475.7 1025.3v4.8M518.4 1025.3v4.8M561.2 1025.3v4.8M603.9 1025.3v4.8M646.7 1025.3v4.8M689.4 1025.3v4.8" stroke="#1a1a1a" stroke-width="1.0" fill="none"/>
<path d="M411.6 1025.3v2.8M454.3 1025.3v2.8M497.1 1025.3v2.8M539.8 1025.3v2.8M582.6 1025.3v2.8M625.3 1025.3v2.8M668 1025.3v2.8" stroke="#1a1a1a" stroke-width="1.0" fill="none"/>
<path d="M390.2 852h5.2M390.2 946.6h5.2" stroke="#1a1a1a" stroke-width="1.0" fill="none"/>
<path d="M689.4 852h-5.2M689.4 946.6h-5.2" stroke="#1a1a1a" stroke-width="1.0" fill="none"/>
<path d="M390.2 899.2h3M390.2 993.9h3" stroke="#1a1a1a" stroke-width="1.0" fill="none"/>
<path d="M689.4 899.2h-3M689.4 993.9h-3" stroke="#1a1a1a" stroke-width="1.0" fill="none"/>
<text x="390.2" y="1039.9" font-size="9.9" text-anchor="middle" fill="#111" >1,80</text>
<text x="432.9" y="1039.9" font-size="9.9" text-anchor="middle" fill="#111" >1,85</text>
<text x="475.7" y="1039.9" font-size="9.9" text-anchor="middle" fill="#111" >1,90</text>
<text x="518.4" y="1039.9" font-size="9.9" text-anchor="middle" fill="#111" >1,95</text>
<text x="561.2" y="1039.9" font-size="9.9" text-anchor="middle" fill="#111" >2,00</text>
<text x="603.9" y="1039.9" font-size="9.9" text-anchor="middle" fill="#111" >2,05</text>
<text x="646.7" y="1039.9" font-size="9.9" text-anchor="middle" fill="#111" >2,10</text>
<text x="689.4" y="1039.9" font-size="9.9" text-anchor="middle" fill="#111" >2,15</text>
<text x="540.3" y="1058.8" font-size="11.9" text-anchor="middle" fill="#111" >Energy (eV)</text>
<text transform="translate(378.1 918.5) rotate(-90)" font-size="11.8" text-anchor="middle" fill="#111">Intensity (a.u.)</text>
<text x="398.8" y="824.5" font-size="11.8" text-anchor="start" fill="#111" >Monolayer WS<tspan font-size="7.2" dy="3.3">2</tspan><tspan dy="-3.3">&#8203;</tspan></text>
<text x="400" y="848.8" font-size="16" class="serif">(g)</text>
<text x="517.5" y="896" font-size="17" fill="#ff1a1a">A<tspan font-size="10" dy="-7">0</tspan></text>
<text x="472.5" y="946.5" font-size="16" fill="#1a8a1a">A<tspan font-size="10" dy="-6">-</tspan></text>
<text x="415" y="1011.5" font-size="17" text-anchor="start" fill="#1818e8" >AA</text>
<rect x="556" y="813.8" width="119" height="67" fill="#fff" stroke="#8a8a8a" stroke-width="1"/>
<path d="M562.3 821.3H585.5" stroke="#111" stroke-width="1.2"/>
<rect x="562.3" y="830" width="23.2" height="11.2" fill="#ffacac"/>
<rect x="562.3" y="844.2" width="23.2" height="10.8" fill="#b0f8b0"/>
<rect x="562.3" y="857.5" width="23.2" height="10.5" fill="#aaaaf6"/>
<path d="M562.3 875H585.5" stroke="#12d6e6" stroke-width="1.5"/>
<text x="589.2" y="824.6" font-size="10.1" text-anchor="start" fill="#111" >Measured Curve</text>
<text x="589.2" y="838.8" font-size="10.1" text-anchor="start" fill="#111" >Neutral Exciton A<tspan font-size="6.5" dy="-4">0</tspan><tspan dy="4">&#8203;</tspan></text>
<text x="589.2" y="853" font-size="10.1" text-anchor="start" fill="#111" >Trion A<tspan font-size="6.5" dy="-4">-</tspan><tspan dy="4">&#8203;</tspan></text>
<text x="589.2" y="865.6" font-size="10.1" text-anchor="start" fill="#111" >Biexciton AA</text>
<text x="589.2" y="878.2" font-size="10.1" text-anchor="start" fill="#111" >Fitted Curve</text>
</svg>
</body></html>
